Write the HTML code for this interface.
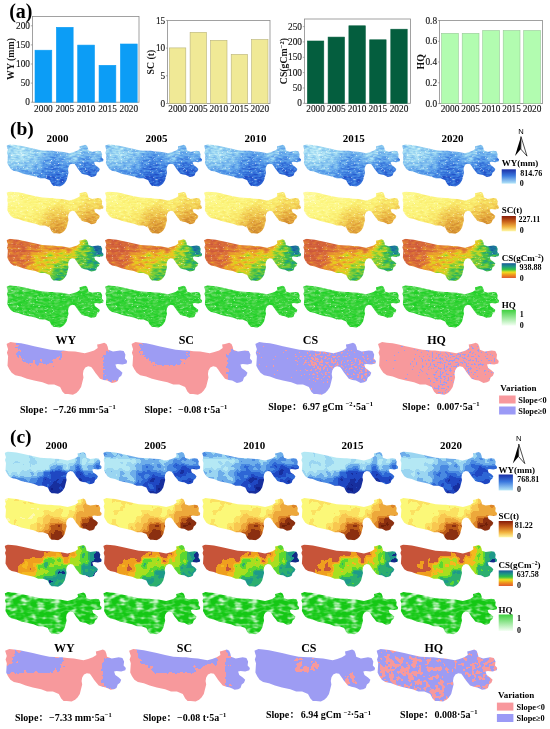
<!DOCTYPE html><html><head><meta charset="utf-8"><style>html,body{margin:0;padding:0;background:#fff;}svg{display:block;}</style></head><body>
<svg width="550" height="729" viewBox="0 0 550 729" font-family="'Liberation Serif','Times New Roman',serif">
<defs><clipPath id="clipS"><path d="M0.0,1.8 L4.1,0.0 L8.8,0.6 L14.7,1.2 L20.6,2.4 L27.7,4.1 L36.0,5.9 L44.3,7.7 L53.7,8.3 L57.0,8.3 L62.0,9.1 L68.8,9.4 L78.3,11.2 L83.0,10.0 L87.7,8.3 L91.3,5.9 L90.7,2.4 L93.6,1.8 L97.8,0.6 L100.1,1.8 L101.3,4.7 L101.9,7.7 L106.6,9.4 L113.7,8.3 L117.3,8.9 L119.0,12.4 L118.5,16.5 L120.8,18.9 L120.2,21.3 L116.1,22.5 L111.4,21.9 L109.0,22.5 L110.2,26.0 L113.7,28.4 L116.1,30.7 L114.9,33.7 L112.6,35.5 L111.4,39.0 L109.0,40.2 L105.5,40.8 L103.1,39.6 L100.7,38.4 L97.2,37.8 L93.6,36.6 L91.3,33.7 L88.9,30.7 L86.6,27.2 L84.8,24.8 L81.8,24.2 L78.9,25.4 L77.1,28.4 L76.5,31.9 L77.1,35.5 L75.9,40.2 L74.7,44.9 L72.4,48.5 L70.0,50.8 L66.5,52.6 L61.7,52.0 L58.5,52.0 L56.1,49.6 L53.7,44.9 L47.8,42.5 L41.9,42.5 L36.0,40.2 L27.7,38.4 L20.6,36.6 L14.7,34.3 L8.8,33.1 L5.3,30.7 L2.9,27.2 L1.1,23.6 L1.7,14.2 L0.5,10.6 L1.7,7.1 Z"/></clipPath>
<filter id="F_WYb" x="-8" y="-8" width="140" height="70" filterUnits="userSpaceOnUse" color-interpolation-filters="sRGB"><feGaussianBlur in="SourceGraphic" stdDeviation="2.6" result="f"/><feTurbulence type="fractalNoise" baseFrequency="0.18 0.4" numOctaves="2" seed="3" result="t"/><feColorMatrix in="t" type="matrix" values="1 0 0 0 0  1 0 0 0 0  1 0 0 0 0  0 0 0 0 1" result="n"/><feComposite in="f" in2="n" operator="arithmetic" k1="0" k2="1" k3="0.6" k4="-0.300" result="m"/><feComponentTransfer in="m" result="c"><feFuncR type="table" tableValues="0.878 0.722 0.596 0.486 0.369 0.275 0.196 0.133"/><feFuncG type="table" tableValues="0.973 0.910 0.831 0.737 0.635 0.533 0.431 0.314"/><feFuncB type="table" tableValues="0.988 0.965 0.949 0.933 0.918 0.886 0.847 0.784"/></feComponentTransfer><feTurbulence type="fractalNoise" baseFrequency="0.35 0.6" numOctaves="2" seed="17" result="t2"/><feColorMatrix in="t2" type="matrix" values="0 0 0 0 1  0 0 0 0 1  0 0 0 0 1  4.0 0 0 0 -2.580" result="sp"/><feComposite in="sp" in2="c" operator="over"/></filter>
<g id="T_WYb_p1" filter="url(#F_WYb)"><rect x="-8" y="-8" width="16.5" height="8.5" fill="rgb(66,66,66)"/><rect x="8" y="-8" width="16.5" height="8.5" fill="rgb(41,41,41)"/><rect x="24" y="-8" width="24.5" height="8.5" fill="rgb(66,66,66)"/><rect x="48" y="-8" width="16.5" height="8.5" fill="rgb(92,92,92)"/><rect x="64" y="-8" width="16.5" height="8.5" fill="rgb(117,117,117)"/><rect x="80" y="-8" width="56.5" height="8.5" fill="rgb(92,92,92)"/><rect x="-8" y="0" width="16.5" height="8.5" fill="rgb(66,66,66)"/><rect x="8" y="0" width="16.5" height="8.5" fill="rgb(41,41,41)"/><rect x="24" y="0" width="24.5" height="8.5" fill="rgb(66,66,66)"/><rect x="48" y="0" width="16.5" height="8.5" fill="rgb(92,92,92)"/><rect x="64" y="0" width="16.5" height="8.5" fill="rgb(117,117,117)"/><rect x="80" y="0" width="56.5" height="8.5" fill="rgb(92,92,92)"/><rect x="-8" y="8" width="16.5" height="8.5" fill="rgb(66,66,66)"/><rect x="8" y="8" width="16.5" height="8.5" fill="rgb(41,41,41)"/><rect x="24" y="8" width="16.5" height="8.5" fill="rgb(66,66,66)"/><rect x="40" y="8" width="8.5" height="8.5" fill="rgb(92,92,92)"/><rect x="48" y="8" width="8.5" height="8.5" fill="rgb(117,117,117)"/><rect x="56" y="8" width="8.5" height="8.5" fill="rgb(143,143,143)"/><rect x="64" y="8" width="8.5" height="8.5" fill="rgb(117,117,117)"/><rect x="72" y="8" width="8.5" height="8.5" fill="rgb(92,92,92)"/><rect x="80" y="8" width="8.5" height="8.5" fill="rgb(66,66,66)"/><rect x="88" y="8" width="8.5" height="8.5" fill="rgb(92,92,92)"/><rect x="96" y="8" width="8.5" height="8.5" fill="rgb(117,117,117)"/><rect x="104" y="8" width="16.5" height="8.5" fill="rgb(92,92,92)"/><rect x="120" y="8" width="16.5" height="8.5" fill="rgb(117,117,117)"/><rect x="-8" y="16" width="40.5" height="8.5" fill="rgb(66,66,66)"/><rect x="32" y="16" width="8.5" height="8.5" fill="rgb(92,92,92)"/><rect x="40" y="16" width="8.5" height="8.5" fill="rgb(117,117,117)"/><rect x="48" y="16" width="8.5" height="8.5" fill="rgb(143,143,143)"/><rect x="56" y="16" width="8.5" height="8.5" fill="rgb(168,168,168)"/><rect x="64" y="16" width="8.5" height="8.5" fill="rgb(143,143,143)"/><rect x="72" y="16" width="8.5" height="8.5" fill="rgb(117,117,117)"/><rect x="80" y="16" width="8.5" height="8.5" fill="rgb(92,92,92)"/><rect x="88" y="16" width="8.5" height="8.5" fill="rgb(143,143,143)"/><rect x="96" y="16" width="8.5" height="8.5" fill="rgb(168,168,168)"/><rect x="104" y="16" width="8.5" height="8.5" fill="rgb(117,117,117)"/><rect x="112" y="16" width="8.5" height="8.5" fill="rgb(143,143,143)"/><rect x="120" y="16" width="16.5" height="8.5" fill="rgb(168,168,168)"/><rect x="-8" y="24" width="40.5" height="8.5" fill="rgb(92,92,92)"/><rect x="32" y="24" width="8.5" height="8.5" fill="rgb(117,117,117)"/><rect x="40" y="24" width="8.5" height="8.5" fill="rgb(143,143,143)"/><rect x="48" y="24" width="8.5" height="8.5" fill="rgb(168,168,168)"/><rect x="56" y="24" width="8.5" height="8.5" fill="rgb(194,194,194)"/><rect x="64" y="24" width="32.5" height="8.5" fill="rgb(168,168,168)"/><rect x="96" y="24" width="16.5" height="8.5" fill="rgb(194,194,194)"/><rect x="112" y="24" width="24.5" height="8.5" fill="rgb(168,168,168)"/><rect x="-8" y="32" width="48.5" height="8.5" fill="rgb(143,143,143)"/><rect x="40" y="32" width="8.5" height="8.5" fill="rgb(168,168,168)"/><rect x="48" y="32" width="48.5" height="8.5" fill="rgb(194,194,194)"/><rect x="96" y="32" width="16.5" height="8.5" fill="rgb(219,219,219)"/><rect x="112" y="32" width="24.5" height="8.5" fill="rgb(194,194,194)"/><rect x="-8" y="40" width="48.5" height="8.5" fill="rgb(168,168,168)"/><rect x="40" y="40" width="8.5" height="8.5" fill="rgb(194,194,194)"/><rect x="48" y="40" width="88.5" height="8.5" fill="rgb(219,219,219)"/><rect x="-8" y="48" width="48.5" height="8.5" fill="rgb(194,194,194)"/><rect x="40" y="48" width="96.5" height="8.5" fill="rgb(219,219,219)"/><rect x="-8" y="56" width="48.5" height="8.5" fill="rgb(194,194,194)"/><rect x="40" y="56" width="96.5" height="8.5" fill="rgb(219,219,219)"/></g>
<g id="T_WYb_p3" filter="url(#F_WYb)"><rect x="-8" y="-8" width="16.5" height="8.5" fill="rgb(71,71,71)"/><rect x="8" y="-8" width="16.5" height="8.5" fill="rgb(46,46,46)"/><rect x="24" y="-8" width="24.5" height="8.5" fill="rgb(71,71,71)"/><rect x="48" y="-8" width="16.5" height="8.5" fill="rgb(97,97,97)"/><rect x="64" y="-8" width="16.5" height="8.5" fill="rgb(122,122,122)"/><rect x="80" y="-8" width="56.5" height="8.5" fill="rgb(97,97,97)"/><rect x="-8" y="0" width="16.5" height="8.5" fill="rgb(71,71,71)"/><rect x="8" y="0" width="16.5" height="8.5" fill="rgb(46,46,46)"/><rect x="24" y="0" width="24.5" height="8.5" fill="rgb(71,71,71)"/><rect x="48" y="0" width="16.5" height="8.5" fill="rgb(97,97,97)"/><rect x="64" y="0" width="16.5" height="8.5" fill="rgb(122,122,122)"/><rect x="80" y="0" width="56.5" height="8.5" fill="rgb(97,97,97)"/><rect x="-8" y="8" width="16.5" height="8.5" fill="rgb(71,71,71)"/><rect x="8" y="8" width="16.5" height="8.5" fill="rgb(46,46,46)"/><rect x="24" y="8" width="16.5" height="8.5" fill="rgb(71,71,71)"/><rect x="40" y="8" width="8.5" height="8.5" fill="rgb(97,97,97)"/><rect x="48" y="8" width="8.5" height="8.5" fill="rgb(122,122,122)"/><rect x="56" y="8" width="8.5" height="8.5" fill="rgb(148,148,148)"/><rect x="64" y="8" width="8.5" height="8.5" fill="rgb(122,122,122)"/><rect x="72" y="8" width="8.5" height="8.5" fill="rgb(97,97,97)"/><rect x="80" y="8" width="8.5" height="8.5" fill="rgb(71,71,71)"/><rect x="88" y="8" width="8.5" height="8.5" fill="rgb(97,97,97)"/><rect x="96" y="8" width="8.5" height="8.5" fill="rgb(122,122,122)"/><rect x="104" y="8" width="16.5" height="8.5" fill="rgb(97,97,97)"/><rect x="120" y="8" width="16.5" height="8.5" fill="rgb(122,122,122)"/><rect x="-8" y="16" width="40.5" height="8.5" fill="rgb(71,71,71)"/><rect x="32" y="16" width="8.5" height="8.5" fill="rgb(97,97,97)"/><rect x="40" y="16" width="8.5" height="8.5" fill="rgb(122,122,122)"/><rect x="48" y="16" width="8.5" height="8.5" fill="rgb(148,148,148)"/><rect x="56" y="16" width="8.5" height="8.5" fill="rgb(173,173,173)"/><rect x="64" y="16" width="8.5" height="8.5" fill="rgb(148,148,148)"/><rect x="72" y="16" width="8.5" height="8.5" fill="rgb(122,122,122)"/><rect x="80" y="16" width="8.5" height="8.5" fill="rgb(97,97,97)"/><rect x="88" y="16" width="8.5" height="8.5" fill="rgb(148,148,148)"/><rect x="96" y="16" width="8.5" height="8.5" fill="rgb(173,173,173)"/><rect x="104" y="16" width="8.5" height="8.5" fill="rgb(122,122,122)"/><rect x="112" y="16" width="8.5" height="8.5" fill="rgb(148,148,148)"/><rect x="120" y="16" width="16.5" height="8.5" fill="rgb(173,173,173)"/><rect x="-8" y="24" width="40.5" height="8.5" fill="rgb(97,97,97)"/><rect x="32" y="24" width="8.5" height="8.5" fill="rgb(122,122,122)"/><rect x="40" y="24" width="8.5" height="8.5" fill="rgb(148,148,148)"/><rect x="48" y="24" width="8.5" height="8.5" fill="rgb(173,173,173)"/><rect x="56" y="24" width="8.5" height="8.5" fill="rgb(199,199,199)"/><rect x="64" y="24" width="32.5" height="8.5" fill="rgb(173,173,173)"/><rect x="96" y="24" width="16.5" height="8.5" fill="rgb(199,199,199)"/><rect x="112" y="24" width="24.5" height="8.5" fill="rgb(173,173,173)"/><rect x="-8" y="32" width="48.5" height="8.5" fill="rgb(148,148,148)"/><rect x="40" y="32" width="8.5" height="8.5" fill="rgb(173,173,173)"/><rect x="48" y="32" width="48.5" height="8.5" fill="rgb(199,199,199)"/><rect x="96" y="32" width="16.5" height="8.5" fill="rgb(224,224,224)"/><rect x="112" y="32" width="24.5" height="8.5" fill="rgb(199,199,199)"/><rect x="-8" y="40" width="48.5" height="8.5" fill="rgb(173,173,173)"/><rect x="40" y="40" width="8.5" height="8.5" fill="rgb(199,199,199)"/><rect x="48" y="40" width="88.5" height="8.5" fill="rgb(224,224,224)"/><rect x="-8" y="48" width="48.5" height="8.5" fill="rgb(199,199,199)"/><rect x="40" y="48" width="96.5" height="8.5" fill="rgb(224,224,224)"/><rect x="-8" y="56" width="48.5" height="8.5" fill="rgb(199,199,199)"/><rect x="40" y="56" width="96.5" height="8.5" fill="rgb(224,224,224)"/></g>
<g id="T_WYb_p6" filter="url(#F_WYb)"><rect x="-8" y="-8" width="16.5" height="8.5" fill="rgb(79,79,79)"/><rect x="8" y="-8" width="16.5" height="8.5" fill="rgb(54,54,54)"/><rect x="24" y="-8" width="24.5" height="8.5" fill="rgb(79,79,79)"/><rect x="48" y="-8" width="16.5" height="8.5" fill="rgb(105,105,105)"/><rect x="64" y="-8" width="16.5" height="8.5" fill="rgb(130,130,130)"/><rect x="80" y="-8" width="56.5" height="8.5" fill="rgb(105,105,105)"/><rect x="-8" y="0" width="16.5" height="8.5" fill="rgb(79,79,79)"/><rect x="8" y="0" width="16.5" height="8.5" fill="rgb(54,54,54)"/><rect x="24" y="0" width="24.5" height="8.5" fill="rgb(79,79,79)"/><rect x="48" y="0" width="16.5" height="8.5" fill="rgb(105,105,105)"/><rect x="64" y="0" width="16.5" height="8.5" fill="rgb(130,130,130)"/><rect x="80" y="0" width="56.5" height="8.5" fill="rgb(105,105,105)"/><rect x="-8" y="8" width="16.5" height="8.5" fill="rgb(79,79,79)"/><rect x="8" y="8" width="16.5" height="8.5" fill="rgb(54,54,54)"/><rect x="24" y="8" width="16.5" height="8.5" fill="rgb(79,79,79)"/><rect x="40" y="8" width="8.5" height="8.5" fill="rgb(105,105,105)"/><rect x="48" y="8" width="8.5" height="8.5" fill="rgb(130,130,130)"/><rect x="56" y="8" width="8.5" height="8.5" fill="rgb(156,156,156)"/><rect x="64" y="8" width="8.5" height="8.5" fill="rgb(130,130,130)"/><rect x="72" y="8" width="8.5" height="8.5" fill="rgb(105,105,105)"/><rect x="80" y="8" width="8.5" height="8.5" fill="rgb(79,79,79)"/><rect x="88" y="8" width="8.5" height="8.5" fill="rgb(105,105,105)"/><rect x="96" y="8" width="8.5" height="8.5" fill="rgb(130,130,130)"/><rect x="104" y="8" width="16.5" height="8.5" fill="rgb(105,105,105)"/><rect x="120" y="8" width="16.5" height="8.5" fill="rgb(130,130,130)"/><rect x="-8" y="16" width="40.5" height="8.5" fill="rgb(79,79,79)"/><rect x="32" y="16" width="8.5" height="8.5" fill="rgb(105,105,105)"/><rect x="40" y="16" width="8.5" height="8.5" fill="rgb(130,130,130)"/><rect x="48" y="16" width="8.5" height="8.5" fill="rgb(156,156,156)"/><rect x="56" y="16" width="8.5" height="8.5" fill="rgb(181,181,181)"/><rect x="64" y="16" width="8.5" height="8.5" fill="rgb(156,156,156)"/><rect x="72" y="16" width="8.5" height="8.5" fill="rgb(130,130,130)"/><rect x="80" y="16" width="8.5" height="8.5" fill="rgb(105,105,105)"/><rect x="88" y="16" width="8.5" height="8.5" fill="rgb(156,156,156)"/><rect x="96" y="16" width="8.5" height="8.5" fill="rgb(181,181,181)"/><rect x="104" y="16" width="8.5" height="8.5" fill="rgb(130,130,130)"/><rect x="112" y="16" width="8.5" height="8.5" fill="rgb(156,156,156)"/><rect x="120" y="16" width="16.5" height="8.5" fill="rgb(181,181,181)"/><rect x="-8" y="24" width="40.5" height="8.5" fill="rgb(105,105,105)"/><rect x="32" y="24" width="8.5" height="8.5" fill="rgb(130,130,130)"/><rect x="40" y="24" width="8.5" height="8.5" fill="rgb(156,156,156)"/><rect x="48" y="24" width="8.5" height="8.5" fill="rgb(181,181,181)"/><rect x="56" y="24" width="8.5" height="8.5" fill="rgb(207,207,207)"/><rect x="64" y="24" width="32.5" height="8.5" fill="rgb(181,181,181)"/><rect x="96" y="24" width="16.5" height="8.5" fill="rgb(207,207,207)"/><rect x="112" y="24" width="24.5" height="8.5" fill="rgb(181,181,181)"/><rect x="-8" y="32" width="48.5" height="8.5" fill="rgb(156,156,156)"/><rect x="40" y="32" width="8.5" height="8.5" fill="rgb(181,181,181)"/><rect x="48" y="32" width="48.5" height="8.5" fill="rgb(207,207,207)"/><rect x="96" y="32" width="16.5" height="8.5" fill="rgb(232,232,232)"/><rect x="112" y="32" width="24.5" height="8.5" fill="rgb(207,207,207)"/><rect x="-8" y="40" width="48.5" height="8.5" fill="rgb(181,181,181)"/><rect x="40" y="40" width="8.5" height="8.5" fill="rgb(207,207,207)"/><rect x="48" y="40" width="88.5" height="8.5" fill="rgb(232,232,232)"/><rect x="-8" y="48" width="48.5" height="8.5" fill="rgb(207,207,207)"/><rect x="40" y="48" width="96.5" height="8.5" fill="rgb(232,232,232)"/><rect x="-8" y="56" width="48.5" height="8.5" fill="rgb(207,207,207)"/><rect x="40" y="56" width="96.5" height="8.5" fill="rgb(232,232,232)"/></g>
<g id="T_WYb_p8" filter="url(#F_WYb)"><rect x="-8" y="-8" width="16.5" height="8.5" fill="rgb(84,84,84)"/><rect x="8" y="-8" width="16.5" height="8.5" fill="rgb(59,59,59)"/><rect x="24" y="-8" width="24.5" height="8.5" fill="rgb(84,84,84)"/><rect x="48" y="-8" width="16.5" height="8.5" fill="rgb(110,110,110)"/><rect x="64" y="-8" width="16.5" height="8.5" fill="rgb(135,135,135)"/><rect x="80" y="-8" width="56.5" height="8.5" fill="rgb(110,110,110)"/><rect x="-8" y="0" width="16.5" height="8.5" fill="rgb(84,84,84)"/><rect x="8" y="0" width="16.5" height="8.5" fill="rgb(59,59,59)"/><rect x="24" y="0" width="24.5" height="8.5" fill="rgb(84,84,84)"/><rect x="48" y="0" width="16.5" height="8.5" fill="rgb(110,110,110)"/><rect x="64" y="0" width="16.5" height="8.5" fill="rgb(135,135,135)"/><rect x="80" y="0" width="56.5" height="8.5" fill="rgb(110,110,110)"/><rect x="-8" y="8" width="16.5" height="8.5" fill="rgb(84,84,84)"/><rect x="8" y="8" width="16.5" height="8.5" fill="rgb(59,59,59)"/><rect x="24" y="8" width="16.5" height="8.5" fill="rgb(84,84,84)"/><rect x="40" y="8" width="8.5" height="8.5" fill="rgb(110,110,110)"/><rect x="48" y="8" width="8.5" height="8.5" fill="rgb(135,135,135)"/><rect x="56" y="8" width="8.5" height="8.5" fill="rgb(161,161,161)"/><rect x="64" y="8" width="8.5" height="8.5" fill="rgb(135,135,135)"/><rect x="72" y="8" width="8.5" height="8.5" fill="rgb(110,110,110)"/><rect x="80" y="8" width="8.5" height="8.5" fill="rgb(84,84,84)"/><rect x="88" y="8" width="8.5" height="8.5" fill="rgb(110,110,110)"/><rect x="96" y="8" width="8.5" height="8.5" fill="rgb(135,135,135)"/><rect x="104" y="8" width="16.5" height="8.5" fill="rgb(110,110,110)"/><rect x="120" y="8" width="16.5" height="8.5" fill="rgb(135,135,135)"/><rect x="-8" y="16" width="40.5" height="8.5" fill="rgb(84,84,84)"/><rect x="32" y="16" width="8.5" height="8.5" fill="rgb(110,110,110)"/><rect x="40" y="16" width="8.5" height="8.5" fill="rgb(135,135,135)"/><rect x="48" y="16" width="8.5" height="8.5" fill="rgb(161,161,161)"/><rect x="56" y="16" width="8.5" height="8.5" fill="rgb(186,186,186)"/><rect x="64" y="16" width="8.5" height="8.5" fill="rgb(161,161,161)"/><rect x="72" y="16" width="8.5" height="8.5" fill="rgb(135,135,135)"/><rect x="80" y="16" width="8.5" height="8.5" fill="rgb(110,110,110)"/><rect x="88" y="16" width="8.5" height="8.5" fill="rgb(161,161,161)"/><rect x="96" y="16" width="8.5" height="8.5" fill="rgb(186,186,186)"/><rect x="104" y="16" width="8.5" height="8.5" fill="rgb(135,135,135)"/><rect x="112" y="16" width="8.5" height="8.5" fill="rgb(161,161,161)"/><rect x="120" y="16" width="16.5" height="8.5" fill="rgb(186,186,186)"/><rect x="-8" y="24" width="40.5" height="8.5" fill="rgb(110,110,110)"/><rect x="32" y="24" width="8.5" height="8.5" fill="rgb(135,135,135)"/><rect x="40" y="24" width="8.5" height="8.5" fill="rgb(161,161,161)"/><rect x="48" y="24" width="8.5" height="8.5" fill="rgb(186,186,186)"/><rect x="56" y="24" width="8.5" height="8.5" fill="rgb(212,212,212)"/><rect x="64" y="24" width="32.5" height="8.5" fill="rgb(186,186,186)"/><rect x="96" y="24" width="16.5" height="8.5" fill="rgb(212,212,212)"/><rect x="112" y="24" width="24.5" height="8.5" fill="rgb(186,186,186)"/><rect x="-8" y="32" width="48.5" height="8.5" fill="rgb(161,161,161)"/><rect x="40" y="32" width="8.5" height="8.5" fill="rgb(186,186,186)"/><rect x="48" y="32" width="48.5" height="8.5" fill="rgb(212,212,212)"/><rect x="96" y="32" width="16.5" height="8.5" fill="rgb(237,237,237)"/><rect x="112" y="32" width="24.5" height="8.5" fill="rgb(212,212,212)"/><rect x="-8" y="40" width="48.5" height="8.5" fill="rgb(186,186,186)"/><rect x="40" y="40" width="8.5" height="8.5" fill="rgb(212,212,212)"/><rect x="48" y="40" width="88.5" height="8.5" fill="rgb(237,237,237)"/><rect x="-8" y="48" width="48.5" height="8.5" fill="rgb(212,212,212)"/><rect x="40" y="48" width="96.5" height="8.5" fill="rgb(237,237,237)"/><rect x="-8" y="56" width="48.5" height="8.5" fill="rgb(212,212,212)"/><rect x="40" y="56" width="96.5" height="8.5" fill="rgb(237,237,237)"/></g>
<g id="T_WYb_p10" filter="url(#F_WYb)"><rect x="-8" y="-8" width="16.5" height="8.5" fill="rgb(89,89,89)"/><rect x="8" y="-8" width="16.5" height="8.5" fill="rgb(64,64,64)"/><rect x="24" y="-8" width="24.5" height="8.5" fill="rgb(89,89,89)"/><rect x="48" y="-8" width="16.5" height="8.5" fill="rgb(115,115,115)"/><rect x="64" y="-8" width="16.5" height="8.5" fill="rgb(140,140,140)"/><rect x="80" y="-8" width="56.5" height="8.5" fill="rgb(115,115,115)"/><rect x="-8" y="0" width="16.5" height="8.5" fill="rgb(89,89,89)"/><rect x="8" y="0" width="16.5" height="8.5" fill="rgb(64,64,64)"/><rect x="24" y="0" width="24.5" height="8.5" fill="rgb(89,89,89)"/><rect x="48" y="0" width="16.5" height="8.5" fill="rgb(115,115,115)"/><rect x="64" y="0" width="16.5" height="8.5" fill="rgb(140,140,140)"/><rect x="80" y="0" width="56.5" height="8.5" fill="rgb(115,115,115)"/><rect x="-8" y="8" width="16.5" height="8.5" fill="rgb(89,89,89)"/><rect x="8" y="8" width="16.5" height="8.5" fill="rgb(64,64,64)"/><rect x="24" y="8" width="16.5" height="8.5" fill="rgb(89,89,89)"/><rect x="40" y="8" width="8.5" height="8.5" fill="rgb(115,115,115)"/><rect x="48" y="8" width="8.5" height="8.5" fill="rgb(140,140,140)"/><rect x="56" y="8" width="8.5" height="8.5" fill="rgb(166,166,166)"/><rect x="64" y="8" width="8.5" height="8.5" fill="rgb(140,140,140)"/><rect x="72" y="8" width="8.5" height="8.5" fill="rgb(115,115,115)"/><rect x="80" y="8" width="8.5" height="8.5" fill="rgb(89,89,89)"/><rect x="88" y="8" width="8.5" height="8.5" fill="rgb(115,115,115)"/><rect x="96" y="8" width="8.5" height="8.5" fill="rgb(140,140,140)"/><rect x="104" y="8" width="16.5" height="8.5" fill="rgb(115,115,115)"/><rect x="120" y="8" width="16.5" height="8.5" fill="rgb(140,140,140)"/><rect x="-8" y="16" width="40.5" height="8.5" fill="rgb(89,89,89)"/><rect x="32" y="16" width="8.5" height="8.5" fill="rgb(115,115,115)"/><rect x="40" y="16" width="8.5" height="8.5" fill="rgb(140,140,140)"/><rect x="48" y="16" width="8.5" height="8.5" fill="rgb(166,166,166)"/><rect x="56" y="16" width="8.5" height="8.5" fill="rgb(191,191,191)"/><rect x="64" y="16" width="8.5" height="8.5" fill="rgb(166,166,166)"/><rect x="72" y="16" width="8.5" height="8.5" fill="rgb(140,140,140)"/><rect x="80" y="16" width="8.5" height="8.5" fill="rgb(115,115,115)"/><rect x="88" y="16" width="8.5" height="8.5" fill="rgb(166,166,166)"/><rect x="96" y="16" width="8.5" height="8.5" fill="rgb(191,191,191)"/><rect x="104" y="16" width="8.5" height="8.5" fill="rgb(140,140,140)"/><rect x="112" y="16" width="8.5" height="8.5" fill="rgb(166,166,166)"/><rect x="120" y="16" width="16.5" height="8.5" fill="rgb(191,191,191)"/><rect x="-8" y="24" width="40.5" height="8.5" fill="rgb(115,115,115)"/><rect x="32" y="24" width="8.5" height="8.5" fill="rgb(140,140,140)"/><rect x="40" y="24" width="8.5" height="8.5" fill="rgb(166,166,166)"/><rect x="48" y="24" width="8.5" height="8.5" fill="rgb(191,191,191)"/><rect x="56" y="24" width="8.5" height="8.5" fill="rgb(217,217,217)"/><rect x="64" y="24" width="32.5" height="8.5" fill="rgb(191,191,191)"/><rect x="96" y="24" width="16.5" height="8.5" fill="rgb(217,217,217)"/><rect x="112" y="24" width="24.5" height="8.5" fill="rgb(191,191,191)"/><rect x="-8" y="32" width="48.5" height="8.5" fill="rgb(166,166,166)"/><rect x="40" y="32" width="8.5" height="8.5" fill="rgb(191,191,191)"/><rect x="48" y="32" width="48.5" height="8.5" fill="rgb(217,217,217)"/><rect x="96" y="32" width="16.5" height="8.5" fill="rgb(242,242,242)"/><rect x="112" y="32" width="24.5" height="8.5" fill="rgb(217,217,217)"/><rect x="-8" y="40" width="48.5" height="8.5" fill="rgb(191,191,191)"/><rect x="40" y="40" width="8.5" height="8.5" fill="rgb(217,217,217)"/><rect x="48" y="40" width="88.5" height="8.5" fill="rgb(242,242,242)"/><rect x="-8" y="48" width="48.5" height="8.5" fill="rgb(217,217,217)"/><rect x="40" y="48" width="96.5" height="8.5" fill="rgb(242,242,242)"/><rect x="-8" y="56" width="48.5" height="8.5" fill="rgb(217,217,217)"/><rect x="40" y="56" width="96.5" height="8.5" fill="rgb(242,242,242)"/></g>
<filter id="F_SCb" x="-8" y="-8" width="140" height="70" filterUnits="userSpaceOnUse" color-interpolation-filters="sRGB"><feGaussianBlur in="SourceGraphic" stdDeviation="2.6" result="f"/><feTurbulence type="fractalNoise" baseFrequency="0.18 0.4" numOctaves="2" seed="10" result="t"/><feColorMatrix in="t" type="matrix" values="1 0 0 0 0  1 0 0 0 0  1 0 0 0 0  0 0 0 0 1" result="n"/><feComposite in="f" in2="n" operator="arithmetic" k1="0" k2="1" k3="0.35" k4="-0.175" result="m"/><feComponentTransfer in="m" result="c"><feFuncR type="table" tableValues="1.000 0.996 0.988 0.973 0.941 0.894 0.800 0.667"/><feFuncG type="table" tableValues="0.988 0.980 0.957 0.886 0.784 0.651 0.518 0.376"/><feFuncB type="table" tableValues="0.753 0.573 0.478 0.392 0.314 0.235 0.173 0.125"/></feComponentTransfer><feTurbulence type="fractalNoise" baseFrequency="0.35 0.6" numOctaves="2" seed="22" result="t2"/><feColorMatrix in="t2" type="matrix" values="0 0 0 0 1  0 0 0 0 1  0 0 0 0 1  3.0 0 0 0 -1.920" result="sp"/><feComposite in="sp" in2="c" operator="over"/></filter>
<g id="T_SCb_m4" filter="url(#F_SCb)"><rect x="-8" y="-8" width="24.5" height="8.5" fill="rgb(28,28,28)"/><rect x="16" y="-8" width="48.5" height="8.5" fill="rgb(54,54,54)"/><rect x="64" y="-8" width="40.5" height="8.5" fill="rgb(79,79,79)"/><rect x="104" y="-8" width="32.5" height="8.5" fill="rgb(105,105,105)"/><rect x="-8" y="0" width="24.5" height="8.5" fill="rgb(28,28,28)"/><rect x="16" y="0" width="48.5" height="8.5" fill="rgb(54,54,54)"/><rect x="64" y="0" width="40.5" height="8.5" fill="rgb(79,79,79)"/><rect x="104" y="0" width="32.5" height="8.5" fill="rgb(105,105,105)"/><rect x="-8" y="8" width="24.5" height="8.5" fill="rgb(28,28,28)"/><rect x="16" y="8" width="48.5" height="8.5" fill="rgb(54,54,54)"/><rect x="64" y="8" width="16.5" height="8.5" fill="rgb(79,79,79)"/><rect x="80" y="8" width="8.5" height="8.5" fill="rgb(54,54,54)"/><rect x="88" y="8" width="8.5" height="8.5" fill="rgb(79,79,79)"/><rect x="96" y="8" width="40.5" height="8.5" fill="rgb(105,105,105)"/><rect x="-8" y="16" width="56.5" height="8.5" fill="rgb(54,54,54)"/><rect x="48" y="16" width="8.5" height="8.5" fill="rgb(79,79,79)"/><rect x="56" y="16" width="16.5" height="8.5" fill="rgb(105,105,105)"/><rect x="72" y="16" width="16.5" height="8.5" fill="rgb(79,79,79)"/><rect x="88" y="16" width="8.5" height="8.5" fill="rgb(105,105,105)"/><rect x="96" y="16" width="8.5" height="8.5" fill="rgb(130,130,130)"/><rect x="104" y="16" width="8.5" height="8.5" fill="rgb(105,105,105)"/><rect x="112" y="16" width="24.5" height="8.5" fill="rgb(130,130,130)"/><rect x="-8" y="24" width="40.5" height="8.5" fill="rgb(54,54,54)"/><rect x="32" y="24" width="16.5" height="8.5" fill="rgb(79,79,79)"/><rect x="48" y="24" width="48.5" height="8.5" fill="rgb(130,130,130)"/><rect x="96" y="24" width="40.5" height="8.5" fill="rgb(156,156,156)"/><rect x="-8" y="32" width="48.5" height="8.5" fill="rgb(79,79,79)"/><rect x="40" y="32" width="8.5" height="8.5" fill="rgb(105,105,105)"/><rect x="48" y="32" width="8.5" height="8.5" fill="rgb(130,130,130)"/><rect x="56" y="32" width="40.5" height="8.5" fill="rgb(156,156,156)"/><rect x="96" y="32" width="16.5" height="8.5" fill="rgb(181,181,181)"/><rect x="112" y="32" width="24.5" height="8.5" fill="rgb(156,156,156)"/><rect x="-8" y="40" width="40.5" height="8.5" fill="rgb(79,79,79)"/><rect x="32" y="40" width="8.5" height="8.5" fill="rgb(105,105,105)"/><rect x="40" y="40" width="8.5" height="8.5" fill="rgb(130,130,130)"/><rect x="48" y="40" width="8.5" height="8.5" fill="rgb(156,156,156)"/><rect x="56" y="40" width="16.5" height="8.5" fill="rgb(181,181,181)"/><rect x="72" y="40" width="24.5" height="8.5" fill="rgb(156,156,156)"/><rect x="96" y="40" width="40.5" height="8.5" fill="rgb(181,181,181)"/><rect x="-8" y="48" width="40.5" height="8.5" fill="rgb(105,105,105)"/><rect x="32" y="48" width="8.5" height="8.5" fill="rgb(130,130,130)"/><rect x="40" y="48" width="8.5" height="8.5" fill="rgb(156,156,156)"/><rect x="48" y="48" width="88.5" height="8.5" fill="rgb(181,181,181)"/><rect x="-8" y="56" width="40.5" height="8.5" fill="rgb(105,105,105)"/><rect x="32" y="56" width="8.5" height="8.5" fill="rgb(130,130,130)"/><rect x="40" y="56" width="8.5" height="8.5" fill="rgb(156,156,156)"/><rect x="48" y="56" width="88.5" height="8.5" fill="rgb(181,181,181)"/></g>
<g id="T_SCb" filter="url(#F_SCb)"><rect x="-8" y="-8" width="24.5" height="8.5" fill="rgb(38,38,38)"/><rect x="16" y="-8" width="48.5" height="8.5" fill="rgb(64,64,64)"/><rect x="64" y="-8" width="40.5" height="8.5" fill="rgb(89,89,89)"/><rect x="104" y="-8" width="32.5" height="8.5" fill="rgb(115,115,115)"/><rect x="-8" y="0" width="24.5" height="8.5" fill="rgb(38,38,38)"/><rect x="16" y="0" width="48.5" height="8.5" fill="rgb(64,64,64)"/><rect x="64" y="0" width="40.5" height="8.5" fill="rgb(89,89,89)"/><rect x="104" y="0" width="32.5" height="8.5" fill="rgb(115,115,115)"/><rect x="-8" y="8" width="24.5" height="8.5" fill="rgb(38,38,38)"/><rect x="16" y="8" width="48.5" height="8.5" fill="rgb(64,64,64)"/><rect x="64" y="8" width="16.5" height="8.5" fill="rgb(89,89,89)"/><rect x="80" y="8" width="8.5" height="8.5" fill="rgb(64,64,64)"/><rect x="88" y="8" width="8.5" height="8.5" fill="rgb(89,89,89)"/><rect x="96" y="8" width="40.5" height="8.5" fill="rgb(115,115,115)"/><rect x="-8" y="16" width="56.5" height="8.5" fill="rgb(64,64,64)"/><rect x="48" y="16" width="8.5" height="8.5" fill="rgb(89,89,89)"/><rect x="56" y="16" width="16.5" height="8.5" fill="rgb(115,115,115)"/><rect x="72" y="16" width="16.5" height="8.5" fill="rgb(89,89,89)"/><rect x="88" y="16" width="8.5" height="8.5" fill="rgb(115,115,115)"/><rect x="96" y="16" width="8.5" height="8.5" fill="rgb(140,140,140)"/><rect x="104" y="16" width="8.5" height="8.5" fill="rgb(115,115,115)"/><rect x="112" y="16" width="24.5" height="8.5" fill="rgb(140,140,140)"/><rect x="-8" y="24" width="40.5" height="8.5" fill="rgb(64,64,64)"/><rect x="32" y="24" width="16.5" height="8.5" fill="rgb(89,89,89)"/><rect x="48" y="24" width="48.5" height="8.5" fill="rgb(140,140,140)"/><rect x="96" y="24" width="40.5" height="8.5" fill="rgb(166,166,166)"/><rect x="-8" y="32" width="48.5" height="8.5" fill="rgb(89,89,89)"/><rect x="40" y="32" width="8.5" height="8.5" fill="rgb(115,115,115)"/><rect x="48" y="32" width="8.5" height="8.5" fill="rgb(140,140,140)"/><rect x="56" y="32" width="40.5" height="8.5" fill="rgb(166,166,166)"/><rect x="96" y="32" width="16.5" height="8.5" fill="rgb(191,191,191)"/><rect x="112" y="32" width="24.5" height="8.5" fill="rgb(166,166,166)"/><rect x="-8" y="40" width="40.5" height="8.5" fill="rgb(89,89,89)"/><rect x="32" y="40" width="8.5" height="8.5" fill="rgb(115,115,115)"/><rect x="40" y="40" width="8.5" height="8.5" fill="rgb(140,140,140)"/><rect x="48" y="40" width="8.5" height="8.5" fill="rgb(166,166,166)"/><rect x="56" y="40" width="16.5" height="8.5" fill="rgb(191,191,191)"/><rect x="72" y="40" width="24.5" height="8.5" fill="rgb(166,166,166)"/><rect x="96" y="40" width="40.5" height="8.5" fill="rgb(191,191,191)"/><rect x="-8" y="48" width="40.5" height="8.5" fill="rgb(115,115,115)"/><rect x="32" y="48" width="8.5" height="8.5" fill="rgb(140,140,140)"/><rect x="40" y="48" width="8.5" height="8.5" fill="rgb(166,166,166)"/><rect x="48" y="48" width="88.5" height="8.5" fill="rgb(191,191,191)"/><rect x="-8" y="56" width="40.5" height="8.5" fill="rgb(115,115,115)"/><rect x="32" y="56" width="8.5" height="8.5" fill="rgb(140,140,140)"/><rect x="40" y="56" width="8.5" height="8.5" fill="rgb(166,166,166)"/><rect x="48" y="56" width="88.5" height="8.5" fill="rgb(191,191,191)"/></g>
<g id="T_SCb_p2" filter="url(#F_SCb)"><rect x="-8" y="-8" width="24.5" height="8.5" fill="rgb(43,43,43)"/><rect x="16" y="-8" width="48.5" height="8.5" fill="rgb(69,69,69)"/><rect x="64" y="-8" width="40.5" height="8.5" fill="rgb(94,94,94)"/><rect x="104" y="-8" width="32.5" height="8.5" fill="rgb(120,120,120)"/><rect x="-8" y="0" width="24.5" height="8.5" fill="rgb(43,43,43)"/><rect x="16" y="0" width="48.5" height="8.5" fill="rgb(69,69,69)"/><rect x="64" y="0" width="40.5" height="8.5" fill="rgb(94,94,94)"/><rect x="104" y="0" width="32.5" height="8.5" fill="rgb(120,120,120)"/><rect x="-8" y="8" width="24.5" height="8.5" fill="rgb(43,43,43)"/><rect x="16" y="8" width="48.5" height="8.5" fill="rgb(69,69,69)"/><rect x="64" y="8" width="16.5" height="8.5" fill="rgb(94,94,94)"/><rect x="80" y="8" width="8.5" height="8.5" fill="rgb(69,69,69)"/><rect x="88" y="8" width="8.5" height="8.5" fill="rgb(94,94,94)"/><rect x="96" y="8" width="40.5" height="8.5" fill="rgb(120,120,120)"/><rect x="-8" y="16" width="56.5" height="8.5" fill="rgb(69,69,69)"/><rect x="48" y="16" width="8.5" height="8.5" fill="rgb(94,94,94)"/><rect x="56" y="16" width="16.5" height="8.5" fill="rgb(120,120,120)"/><rect x="72" y="16" width="16.5" height="8.5" fill="rgb(94,94,94)"/><rect x="88" y="16" width="8.5" height="8.5" fill="rgb(120,120,120)"/><rect x="96" y="16" width="8.5" height="8.5" fill="rgb(145,145,145)"/><rect x="104" y="16" width="8.5" height="8.5" fill="rgb(120,120,120)"/><rect x="112" y="16" width="24.5" height="8.5" fill="rgb(145,145,145)"/><rect x="-8" y="24" width="40.5" height="8.5" fill="rgb(69,69,69)"/><rect x="32" y="24" width="16.5" height="8.5" fill="rgb(94,94,94)"/><rect x="48" y="24" width="48.5" height="8.5" fill="rgb(145,145,145)"/><rect x="96" y="24" width="40.5" height="8.5" fill="rgb(171,171,171)"/><rect x="-8" y="32" width="48.5" height="8.5" fill="rgb(94,94,94)"/><rect x="40" y="32" width="8.5" height="8.5" fill="rgb(120,120,120)"/><rect x="48" y="32" width="8.5" height="8.5" fill="rgb(145,145,145)"/><rect x="56" y="32" width="40.5" height="8.5" fill="rgb(171,171,171)"/><rect x="96" y="32" width="16.5" height="8.5" fill="rgb(196,196,196)"/><rect x="112" y="32" width="24.5" height="8.5" fill="rgb(171,171,171)"/><rect x="-8" y="40" width="40.5" height="8.5" fill="rgb(94,94,94)"/><rect x="32" y="40" width="8.5" height="8.5" fill="rgb(120,120,120)"/><rect x="40" y="40" width="8.5" height="8.5" fill="rgb(145,145,145)"/><rect x="48" y="40" width="8.5" height="8.5" fill="rgb(171,171,171)"/><rect x="56" y="40" width="16.5" height="8.5" fill="rgb(196,196,196)"/><rect x="72" y="40" width="24.5" height="8.5" fill="rgb(171,171,171)"/><rect x="96" y="40" width="40.5" height="8.5" fill="rgb(196,196,196)"/><rect x="-8" y="48" width="40.5" height="8.5" fill="rgb(120,120,120)"/><rect x="32" y="48" width="8.5" height="8.5" fill="rgb(145,145,145)"/><rect x="40" y="48" width="8.5" height="8.5" fill="rgb(171,171,171)"/><rect x="48" y="48" width="88.5" height="8.5" fill="rgb(196,196,196)"/><rect x="-8" y="56" width="40.5" height="8.5" fill="rgb(120,120,120)"/><rect x="32" y="56" width="8.5" height="8.5" fill="rgb(145,145,145)"/><rect x="40" y="56" width="8.5" height="8.5" fill="rgb(171,171,171)"/><rect x="48" y="56" width="88.5" height="8.5" fill="rgb(196,196,196)"/></g>
<g id="T_SCb_p3" filter="url(#F_SCb)"><rect x="-8" y="-8" width="24.5" height="8.5" fill="rgb(46,46,46)"/><rect x="16" y="-8" width="48.5" height="8.5" fill="rgb(71,71,71)"/><rect x="64" y="-8" width="40.5" height="8.5" fill="rgb(97,97,97)"/><rect x="104" y="-8" width="32.5" height="8.5" fill="rgb(122,122,122)"/><rect x="-8" y="0" width="24.5" height="8.5" fill="rgb(46,46,46)"/><rect x="16" y="0" width="48.5" height="8.5" fill="rgb(71,71,71)"/><rect x="64" y="0" width="40.5" height="8.5" fill="rgb(97,97,97)"/><rect x="104" y="0" width="32.5" height="8.5" fill="rgb(122,122,122)"/><rect x="-8" y="8" width="24.5" height="8.5" fill="rgb(46,46,46)"/><rect x="16" y="8" width="48.5" height="8.5" fill="rgb(71,71,71)"/><rect x="64" y="8" width="16.5" height="8.5" fill="rgb(97,97,97)"/><rect x="80" y="8" width="8.5" height="8.5" fill="rgb(71,71,71)"/><rect x="88" y="8" width="8.5" height="8.5" fill="rgb(97,97,97)"/><rect x="96" y="8" width="40.5" height="8.5" fill="rgb(122,122,122)"/><rect x="-8" y="16" width="56.5" height="8.5" fill="rgb(71,71,71)"/><rect x="48" y="16" width="8.5" height="8.5" fill="rgb(97,97,97)"/><rect x="56" y="16" width="16.5" height="8.5" fill="rgb(122,122,122)"/><rect x="72" y="16" width="16.5" height="8.5" fill="rgb(97,97,97)"/><rect x="88" y="16" width="8.5" height="8.5" fill="rgb(122,122,122)"/><rect x="96" y="16" width="8.5" height="8.5" fill="rgb(148,148,148)"/><rect x="104" y="16" width="8.5" height="8.5" fill="rgb(122,122,122)"/><rect x="112" y="16" width="24.5" height="8.5" fill="rgb(148,148,148)"/><rect x="-8" y="24" width="40.5" height="8.5" fill="rgb(71,71,71)"/><rect x="32" y="24" width="16.5" height="8.5" fill="rgb(97,97,97)"/><rect x="48" y="24" width="48.5" height="8.5" fill="rgb(148,148,148)"/><rect x="96" y="24" width="40.5" height="8.5" fill="rgb(173,173,173)"/><rect x="-8" y="32" width="48.5" height="8.5" fill="rgb(97,97,97)"/><rect x="40" y="32" width="8.5" height="8.5" fill="rgb(122,122,122)"/><rect x="48" y="32" width="8.5" height="8.5" fill="rgb(148,148,148)"/><rect x="56" y="32" width="40.5" height="8.5" fill="rgb(173,173,173)"/><rect x="96" y="32" width="16.5" height="8.5" fill="rgb(199,199,199)"/><rect x="112" y="32" width="24.5" height="8.5" fill="rgb(173,173,173)"/><rect x="-8" y="40" width="40.5" height="8.5" fill="rgb(97,97,97)"/><rect x="32" y="40" width="8.5" height="8.5" fill="rgb(122,122,122)"/><rect x="40" y="40" width="8.5" height="8.5" fill="rgb(148,148,148)"/><rect x="48" y="40" width="8.5" height="8.5" fill="rgb(173,173,173)"/><rect x="56" y="40" width="16.5" height="8.5" fill="rgb(199,199,199)"/><rect x="72" y="40" width="24.5" height="8.5" fill="rgb(173,173,173)"/><rect x="96" y="40" width="40.5" height="8.5" fill="rgb(199,199,199)"/><rect x="-8" y="48" width="40.5" height="8.5" fill="rgb(122,122,122)"/><rect x="32" y="48" width="8.5" height="8.5" fill="rgb(148,148,148)"/><rect x="40" y="48" width="8.5" height="8.5" fill="rgb(173,173,173)"/><rect x="48" y="48" width="88.5" height="8.5" fill="rgb(199,199,199)"/><rect x="-8" y="56" width="40.5" height="8.5" fill="rgb(122,122,122)"/><rect x="32" y="56" width="8.5" height="8.5" fill="rgb(148,148,148)"/><rect x="40" y="56" width="8.5" height="8.5" fill="rgb(173,173,173)"/><rect x="48" y="56" width="88.5" height="8.5" fill="rgb(199,199,199)"/></g>
<filter id="F_CSb" x="-8" y="-8" width="140" height="70" filterUnits="userSpaceOnUse" color-interpolation-filters="sRGB"><feGaussianBlur in="SourceGraphic" stdDeviation="2.4" result="f"/><feTurbulence type="fractalNoise" baseFrequency="0.12 0.35" numOctaves="2" seed="17" result="t"/><feColorMatrix in="t" type="matrix" values="1 0 0 0 0  1 0 0 0 0  1 0 0 0 0  0 0 0 0 1" result="n"/><feComposite in="f" in2="n" operator="arithmetic" k1="0" k2="1" k3="0.5" k4="-0.250" result="m"/><feComponentTransfer in="m" result="c"><feFuncR type="table" tableValues="0.800 0.839 0.878 0.918 0.925 0.769 0.486 0.235 0.133 0.110 0.102"/><feFuncG type="table" tableValues="0.345 0.400 0.486 0.627 0.784 0.839 0.800 0.737 0.627 0.478 0.345"/><feFuncB type="table" tableValues="0.235 0.227 0.212 0.173 0.125 0.141 0.220 0.298 0.486 0.612 0.627"/></feComponentTransfer><feTurbulence type="fractalNoise" baseFrequency="0.35 0.6" numOctaves="2" seed="27" result="t2"/><feColorMatrix in="t2" type="matrix" values="0 0 0 0 1  0 0 0 0 1  0 0 0 0 1  3.0 0 0 0 -1.980" result="sp"/><feComposite in="sp" in2="c" operator="over"/></filter>
<g id="T_CSb_m6" filter="url(#F_CSb)"><rect x="-8" y="-8" width="56.5" height="8.5" fill="rgb(23,23,23)"/><rect x="48" y="-8" width="40.5" height="8.5" fill="rgb(48,48,48)"/><rect x="88" y="-8" width="8.5" height="8.5" fill="rgb(99,99,99)"/><rect x="96" y="-8" width="8.5" height="8.5" fill="rgb(150,150,150)"/><rect x="104" y="-8" width="8.5" height="8.5" fill="rgb(201,201,201)"/><rect x="112" y="-8" width="24.5" height="8.5" fill="rgb(227,227,227)"/><rect x="-8" y="0" width="56.5" height="8.5" fill="rgb(23,23,23)"/><rect x="48" y="0" width="40.5" height="8.5" fill="rgb(48,48,48)"/><rect x="88" y="0" width="8.5" height="8.5" fill="rgb(99,99,99)"/><rect x="96" y="0" width="8.5" height="8.5" fill="rgb(150,150,150)"/><rect x="104" y="0" width="8.5" height="8.5" fill="rgb(201,201,201)"/><rect x="112" y="0" width="24.5" height="8.5" fill="rgb(227,227,227)"/><rect x="-8" y="8" width="40.5" height="8.5" fill="rgb(23,23,23)"/><rect x="32" y="8" width="48.5" height="8.5" fill="rgb(48,48,48)"/><rect x="80" y="8" width="8.5" height="8.5" fill="rgb(74,74,74)"/><rect x="88" y="8" width="8.5" height="8.5" fill="rgb(125,125,125)"/><rect x="96" y="8" width="8.5" height="8.5" fill="rgb(150,150,150)"/><rect x="104" y="8" width="8.5" height="8.5" fill="rgb(201,201,201)"/><rect x="112" y="8" width="24.5" height="8.5" fill="rgb(227,227,227)"/><rect x="-8" y="16" width="32.5" height="8.5" fill="rgb(23,23,23)"/><rect x="24" y="16" width="8.5" height="8.5" fill="rgb(48,48,48)"/><rect x="32" y="16" width="16.5" height="8.5" fill="rgb(74,74,74)"/><rect x="48" y="16" width="40.5" height="8.5" fill="rgb(99,99,99)"/><rect x="88" y="16" width="16.5" height="8.5" fill="rgb(150,150,150)"/><rect x="104" y="16" width="8.5" height="8.5" fill="rgb(176,176,176)"/><rect x="112" y="16" width="8.5" height="8.5" fill="rgb(201,201,201)"/><rect x="120" y="16" width="16.5" height="8.5" fill="rgb(227,227,227)"/><rect x="-8" y="24" width="32.5" height="8.5" fill="rgb(23,23,23)"/><rect x="24" y="24" width="8.5" height="8.5" fill="rgb(48,48,48)"/><rect x="32" y="24" width="8.5" height="8.5" fill="rgb(74,74,74)"/><rect x="40" y="24" width="24.5" height="8.5" fill="rgb(99,99,99)"/><rect x="64" y="24" width="16.5" height="8.5" fill="rgb(125,125,125)"/><rect x="80" y="24" width="24.5" height="8.5" fill="rgb(150,150,150)"/><rect x="104" y="24" width="32.5" height="8.5" fill="rgb(176,176,176)"/><rect x="-8" y="32" width="24.5" height="8.5" fill="rgb(23,23,23)"/><rect x="16" y="32" width="16.5" height="8.5" fill="rgb(48,48,48)"/><rect x="32" y="32" width="8.5" height="8.5" fill="rgb(74,74,74)"/><rect x="40" y="32" width="16.5" height="8.5" fill="rgb(99,99,99)"/><rect x="56" y="32" width="8.5" height="8.5" fill="rgb(125,125,125)"/><rect x="64" y="32" width="32.5" height="8.5" fill="rgb(150,150,150)"/><rect x="96" y="32" width="40.5" height="8.5" fill="rgb(176,176,176)"/><rect x="-8" y="40" width="24.5" height="8.5" fill="rgb(23,23,23)"/><rect x="16" y="40" width="8.5" height="8.5" fill="rgb(48,48,48)"/><rect x="24" y="40" width="8.5" height="8.5" fill="rgb(74,74,74)"/><rect x="32" y="40" width="16.5" height="8.5" fill="rgb(99,99,99)"/><rect x="48" y="40" width="8.5" height="8.5" fill="rgb(125,125,125)"/><rect x="56" y="40" width="8.5" height="8.5" fill="rgb(150,150,150)"/><rect x="64" y="40" width="16.5" height="8.5" fill="rgb(176,176,176)"/><rect x="80" y="40" width="16.5" height="8.5" fill="rgb(150,150,150)"/><rect x="96" y="40" width="40.5" height="8.5" fill="rgb(176,176,176)"/><rect x="-8" y="48" width="32.5" height="8.5" fill="rgb(48,48,48)"/><rect x="24" y="48" width="8.5" height="8.5" fill="rgb(74,74,74)"/><rect x="32" y="48" width="8.5" height="8.5" fill="rgb(99,99,99)"/><rect x="40" y="48" width="8.5" height="8.5" fill="rgb(125,125,125)"/><rect x="48" y="48" width="8.5" height="8.5" fill="rgb(150,150,150)"/><rect x="56" y="48" width="80.5" height="8.5" fill="rgb(176,176,176)"/><rect x="-8" y="56" width="32.5" height="8.5" fill="rgb(48,48,48)"/><rect x="24" y="56" width="8.5" height="8.5" fill="rgb(74,74,74)"/><rect x="32" y="56" width="8.5" height="8.5" fill="rgb(99,99,99)"/><rect x="40" y="56" width="8.5" height="8.5" fill="rgb(125,125,125)"/><rect x="48" y="56" width="8.5" height="8.5" fill="rgb(150,150,150)"/><rect x="56" y="56" width="80.5" height="8.5" fill="rgb(176,176,176)"/></g>
<g id="T_CSb_m5" filter="url(#F_CSb)"><rect x="-8" y="-8" width="56.5" height="8.5" fill="rgb(26,26,26)"/><rect x="48" y="-8" width="40.5" height="8.5" fill="rgb(51,51,51)"/><rect x="88" y="-8" width="8.5" height="8.5" fill="rgb(102,102,102)"/><rect x="96" y="-8" width="8.5" height="8.5" fill="rgb(153,153,153)"/><rect x="104" y="-8" width="8.5" height="8.5" fill="rgb(204,204,204)"/><rect x="112" y="-8" width="24.5" height="8.5" fill="rgb(230,230,230)"/><rect x="-8" y="0" width="56.5" height="8.5" fill="rgb(26,26,26)"/><rect x="48" y="0" width="40.5" height="8.5" fill="rgb(51,51,51)"/><rect x="88" y="0" width="8.5" height="8.5" fill="rgb(102,102,102)"/><rect x="96" y="0" width="8.5" height="8.5" fill="rgb(153,153,153)"/><rect x="104" y="0" width="8.5" height="8.5" fill="rgb(204,204,204)"/><rect x="112" y="0" width="24.5" height="8.5" fill="rgb(230,230,230)"/><rect x="-8" y="8" width="40.5" height="8.5" fill="rgb(26,26,26)"/><rect x="32" y="8" width="48.5" height="8.5" fill="rgb(51,51,51)"/><rect x="80" y="8" width="8.5" height="8.5" fill="rgb(76,76,76)"/><rect x="88" y="8" width="8.5" height="8.5" fill="rgb(128,128,128)"/><rect x="96" y="8" width="8.5" height="8.5" fill="rgb(153,153,153)"/><rect x="104" y="8" width="8.5" height="8.5" fill="rgb(204,204,204)"/><rect x="112" y="8" width="24.5" height="8.5" fill="rgb(230,230,230)"/><rect x="-8" y="16" width="32.5" height="8.5" fill="rgb(26,26,26)"/><rect x="24" y="16" width="8.5" height="8.5" fill="rgb(51,51,51)"/><rect x="32" y="16" width="16.5" height="8.5" fill="rgb(76,76,76)"/><rect x="48" y="16" width="40.5" height="8.5" fill="rgb(102,102,102)"/><rect x="88" y="16" width="16.5" height="8.5" fill="rgb(153,153,153)"/><rect x="104" y="16" width="8.5" height="8.5" fill="rgb(178,178,178)"/><rect x="112" y="16" width="8.5" height="8.5" fill="rgb(204,204,204)"/><rect x="120" y="16" width="16.5" height="8.5" fill="rgb(230,230,230)"/><rect x="-8" y="24" width="32.5" height="8.5" fill="rgb(26,26,26)"/><rect x="24" y="24" width="8.5" height="8.5" fill="rgb(51,51,51)"/><rect x="32" y="24" width="8.5" height="8.5" fill="rgb(76,76,76)"/><rect x="40" y="24" width="24.5" height="8.5" fill="rgb(102,102,102)"/><rect x="64" y="24" width="16.5" height="8.5" fill="rgb(128,128,128)"/><rect x="80" y="24" width="24.5" height="8.5" fill="rgb(153,153,153)"/><rect x="104" y="24" width="32.5" height="8.5" fill="rgb(178,178,178)"/><rect x="-8" y="32" width="24.5" height="8.5" fill="rgb(26,26,26)"/><rect x="16" y="32" width="16.5" height="8.5" fill="rgb(51,51,51)"/><rect x="32" y="32" width="8.5" height="8.5" fill="rgb(76,76,76)"/><rect x="40" y="32" width="16.5" height="8.5" fill="rgb(102,102,102)"/><rect x="56" y="32" width="8.5" height="8.5" fill="rgb(128,128,128)"/><rect x="64" y="32" width="32.5" height="8.5" fill="rgb(153,153,153)"/><rect x="96" y="32" width="40.5" height="8.5" fill="rgb(178,178,178)"/><rect x="-8" y="40" width="24.5" height="8.5" fill="rgb(26,26,26)"/><rect x="16" y="40" width="8.5" height="8.5" fill="rgb(51,51,51)"/><rect x="24" y="40" width="8.5" height="8.5" fill="rgb(76,76,76)"/><rect x="32" y="40" width="16.5" height="8.5" fill="rgb(102,102,102)"/><rect x="48" y="40" width="8.5" height="8.5" fill="rgb(128,128,128)"/><rect x="56" y="40" width="8.5" height="8.5" fill="rgb(153,153,153)"/><rect x="64" y="40" width="16.5" height="8.5" fill="rgb(178,178,178)"/><rect x="80" y="40" width="16.5" height="8.5" fill="rgb(153,153,153)"/><rect x="96" y="40" width="40.5" height="8.5" fill="rgb(178,178,178)"/><rect x="-8" y="48" width="32.5" height="8.5" fill="rgb(51,51,51)"/><rect x="24" y="48" width="8.5" height="8.5" fill="rgb(76,76,76)"/><rect x="32" y="48" width="8.5" height="8.5" fill="rgb(102,102,102)"/><rect x="40" y="48" width="8.5" height="8.5" fill="rgb(128,128,128)"/><rect x="48" y="48" width="8.5" height="8.5" fill="rgb(153,153,153)"/><rect x="56" y="48" width="80.5" height="8.5" fill="rgb(178,178,178)"/><rect x="-8" y="56" width="32.5" height="8.5" fill="rgb(51,51,51)"/><rect x="24" y="56" width="8.5" height="8.5" fill="rgb(76,76,76)"/><rect x="32" y="56" width="8.5" height="8.5" fill="rgb(102,102,102)"/><rect x="40" y="56" width="8.5" height="8.5" fill="rgb(128,128,128)"/><rect x="48" y="56" width="8.5" height="8.5" fill="rgb(153,153,153)"/><rect x="56" y="56" width="80.5" height="8.5" fill="rgb(178,178,178)"/></g>
<g id="T_CSb_m4" filter="url(#F_CSb)"><rect x="-8" y="-8" width="56.5" height="8.5" fill="rgb(28,28,28)"/><rect x="48" y="-8" width="40.5" height="8.5" fill="rgb(54,54,54)"/><rect x="88" y="-8" width="8.5" height="8.5" fill="rgb(105,105,105)"/><rect x="96" y="-8" width="8.5" height="8.5" fill="rgb(156,156,156)"/><rect x="104" y="-8" width="8.5" height="8.5" fill="rgb(207,207,207)"/><rect x="112" y="-8" width="24.5" height="8.5" fill="rgb(232,232,232)"/><rect x="-8" y="0" width="56.5" height="8.5" fill="rgb(28,28,28)"/><rect x="48" y="0" width="40.5" height="8.5" fill="rgb(54,54,54)"/><rect x="88" y="0" width="8.5" height="8.5" fill="rgb(105,105,105)"/><rect x="96" y="0" width="8.5" height="8.5" fill="rgb(156,156,156)"/><rect x="104" y="0" width="8.5" height="8.5" fill="rgb(207,207,207)"/><rect x="112" y="0" width="24.5" height="8.5" fill="rgb(232,232,232)"/><rect x="-8" y="8" width="40.5" height="8.5" fill="rgb(28,28,28)"/><rect x="32" y="8" width="48.5" height="8.5" fill="rgb(54,54,54)"/><rect x="80" y="8" width="8.5" height="8.5" fill="rgb(79,79,79)"/><rect x="88" y="8" width="8.5" height="8.5" fill="rgb(130,130,130)"/><rect x="96" y="8" width="8.5" height="8.5" fill="rgb(156,156,156)"/><rect x="104" y="8" width="8.5" height="8.5" fill="rgb(207,207,207)"/><rect x="112" y="8" width="24.5" height="8.5" fill="rgb(232,232,232)"/><rect x="-8" y="16" width="32.5" height="8.5" fill="rgb(28,28,28)"/><rect x="24" y="16" width="8.5" height="8.5" fill="rgb(54,54,54)"/><rect x="32" y="16" width="16.5" height="8.5" fill="rgb(79,79,79)"/><rect x="48" y="16" width="40.5" height="8.5" fill="rgb(105,105,105)"/><rect x="88" y="16" width="16.5" height="8.5" fill="rgb(156,156,156)"/><rect x="104" y="16" width="8.5" height="8.5" fill="rgb(181,181,181)"/><rect x="112" y="16" width="8.5" height="8.5" fill="rgb(207,207,207)"/><rect x="120" y="16" width="16.5" height="8.5" fill="rgb(232,232,232)"/><rect x="-8" y="24" width="32.5" height="8.5" fill="rgb(28,28,28)"/><rect x="24" y="24" width="8.5" height="8.5" fill="rgb(54,54,54)"/><rect x="32" y="24" width="8.5" height="8.5" fill="rgb(79,79,79)"/><rect x="40" y="24" width="24.5" height="8.5" fill="rgb(105,105,105)"/><rect x="64" y="24" width="16.5" height="8.5" fill="rgb(130,130,130)"/><rect x="80" y="24" width="24.5" height="8.5" fill="rgb(156,156,156)"/><rect x="104" y="24" width="32.5" height="8.5" fill="rgb(181,181,181)"/><rect x="-8" y="32" width="24.5" height="8.5" fill="rgb(28,28,28)"/><rect x="16" y="32" width="16.5" height="8.5" fill="rgb(54,54,54)"/><rect x="32" y="32" width="8.5" height="8.5" fill="rgb(79,79,79)"/><rect x="40" y="32" width="16.5" height="8.5" fill="rgb(105,105,105)"/><rect x="56" y="32" width="8.5" height="8.5" fill="rgb(130,130,130)"/><rect x="64" y="32" width="32.5" height="8.5" fill="rgb(156,156,156)"/><rect x="96" y="32" width="40.5" height="8.5" fill="rgb(181,181,181)"/><rect x="-8" y="40" width="24.5" height="8.5" fill="rgb(28,28,28)"/><rect x="16" y="40" width="8.5" height="8.5" fill="rgb(54,54,54)"/><rect x="24" y="40" width="8.5" height="8.5" fill="rgb(79,79,79)"/><rect x="32" y="40" width="16.5" height="8.5" fill="rgb(105,105,105)"/><rect x="48" y="40" width="8.5" height="8.5" fill="rgb(130,130,130)"/><rect x="56" y="40" width="8.5" height="8.5" fill="rgb(156,156,156)"/><rect x="64" y="40" width="16.5" height="8.5" fill="rgb(181,181,181)"/><rect x="80" y="40" width="16.5" height="8.5" fill="rgb(156,156,156)"/><rect x="96" y="40" width="40.5" height="8.5" fill="rgb(181,181,181)"/><rect x="-8" y="48" width="32.5" height="8.5" fill="rgb(54,54,54)"/><rect x="24" y="48" width="8.5" height="8.5" fill="rgb(79,79,79)"/><rect x="32" y="48" width="8.5" height="8.5" fill="rgb(105,105,105)"/><rect x="40" y="48" width="8.5" height="8.5" fill="rgb(130,130,130)"/><rect x="48" y="48" width="8.5" height="8.5" fill="rgb(156,156,156)"/><rect x="56" y="48" width="80.5" height="8.5" fill="rgb(181,181,181)"/><rect x="-8" y="56" width="32.5" height="8.5" fill="rgb(54,54,54)"/><rect x="24" y="56" width="8.5" height="8.5" fill="rgb(79,79,79)"/><rect x="32" y="56" width="8.5" height="8.5" fill="rgb(105,105,105)"/><rect x="40" y="56" width="8.5" height="8.5" fill="rgb(130,130,130)"/><rect x="48" y="56" width="8.5" height="8.5" fill="rgb(156,156,156)"/><rect x="56" y="56" width="80.5" height="8.5" fill="rgb(181,181,181)"/></g>
<g id="T_CSb_m3" filter="url(#F_CSb)"><rect x="-8" y="-8" width="56.5" height="8.5" fill="rgb(31,31,31)"/><rect x="48" y="-8" width="40.5" height="8.5" fill="rgb(56,56,56)"/><rect x="88" y="-8" width="8.5" height="8.5" fill="rgb(107,107,107)"/><rect x="96" y="-8" width="8.5" height="8.5" fill="rgb(158,158,158)"/><rect x="104" y="-8" width="8.5" height="8.5" fill="rgb(209,209,209)"/><rect x="112" y="-8" width="24.5" height="8.5" fill="rgb(235,235,235)"/><rect x="-8" y="0" width="56.5" height="8.5" fill="rgb(31,31,31)"/><rect x="48" y="0" width="40.5" height="8.5" fill="rgb(56,56,56)"/><rect x="88" y="0" width="8.5" height="8.5" fill="rgb(107,107,107)"/><rect x="96" y="0" width="8.5" height="8.5" fill="rgb(158,158,158)"/><rect x="104" y="0" width="8.5" height="8.5" fill="rgb(209,209,209)"/><rect x="112" y="0" width="24.5" height="8.5" fill="rgb(235,235,235)"/><rect x="-8" y="8" width="40.5" height="8.5" fill="rgb(31,31,31)"/><rect x="32" y="8" width="48.5" height="8.5" fill="rgb(56,56,56)"/><rect x="80" y="8" width="8.5" height="8.5" fill="rgb(82,82,82)"/><rect x="88" y="8" width="8.5" height="8.5" fill="rgb(133,133,133)"/><rect x="96" y="8" width="8.5" height="8.5" fill="rgb(158,158,158)"/><rect x="104" y="8" width="8.5" height="8.5" fill="rgb(209,209,209)"/><rect x="112" y="8" width="24.5" height="8.5" fill="rgb(235,235,235)"/><rect x="-8" y="16" width="32.5" height="8.5" fill="rgb(31,31,31)"/><rect x="24" y="16" width="8.5" height="8.5" fill="rgb(56,56,56)"/><rect x="32" y="16" width="16.5" height="8.5" fill="rgb(82,82,82)"/><rect x="48" y="16" width="40.5" height="8.5" fill="rgb(107,107,107)"/><rect x="88" y="16" width="16.5" height="8.5" fill="rgb(158,158,158)"/><rect x="104" y="16" width="8.5" height="8.5" fill="rgb(184,184,184)"/><rect x="112" y="16" width="8.5" height="8.5" fill="rgb(209,209,209)"/><rect x="120" y="16" width="16.5" height="8.5" fill="rgb(235,235,235)"/><rect x="-8" y="24" width="32.5" height="8.5" fill="rgb(31,31,31)"/><rect x="24" y="24" width="8.5" height="8.5" fill="rgb(56,56,56)"/><rect x="32" y="24" width="8.5" height="8.5" fill="rgb(82,82,82)"/><rect x="40" y="24" width="24.5" height="8.5" fill="rgb(107,107,107)"/><rect x="64" y="24" width="16.5" height="8.5" fill="rgb(133,133,133)"/><rect x="80" y="24" width="24.5" height="8.5" fill="rgb(158,158,158)"/><rect x="104" y="24" width="32.5" height="8.5" fill="rgb(184,184,184)"/><rect x="-8" y="32" width="24.5" height="8.5" fill="rgb(31,31,31)"/><rect x="16" y="32" width="16.5" height="8.5" fill="rgb(56,56,56)"/><rect x="32" y="32" width="8.5" height="8.5" fill="rgb(82,82,82)"/><rect x="40" y="32" width="16.5" height="8.5" fill="rgb(107,107,107)"/><rect x="56" y="32" width="8.5" height="8.5" fill="rgb(133,133,133)"/><rect x="64" y="32" width="32.5" height="8.5" fill="rgb(158,158,158)"/><rect x="96" y="32" width="40.5" height="8.5" fill="rgb(184,184,184)"/><rect x="-8" y="40" width="24.5" height="8.5" fill="rgb(31,31,31)"/><rect x="16" y="40" width="8.5" height="8.5" fill="rgb(56,56,56)"/><rect x="24" y="40" width="8.5" height="8.5" fill="rgb(82,82,82)"/><rect x="32" y="40" width="16.5" height="8.5" fill="rgb(107,107,107)"/><rect x="48" y="40" width="8.5" height="8.5" fill="rgb(133,133,133)"/><rect x="56" y="40" width="8.5" height="8.5" fill="rgb(158,158,158)"/><rect x="64" y="40" width="16.5" height="8.5" fill="rgb(184,184,184)"/><rect x="80" y="40" width="16.5" height="8.5" fill="rgb(158,158,158)"/><rect x="96" y="40" width="40.5" height="8.5" fill="rgb(184,184,184)"/><rect x="-8" y="48" width="32.5" height="8.5" fill="rgb(56,56,56)"/><rect x="24" y="48" width="8.5" height="8.5" fill="rgb(82,82,82)"/><rect x="32" y="48" width="8.5" height="8.5" fill="rgb(107,107,107)"/><rect x="40" y="48" width="8.5" height="8.5" fill="rgb(133,133,133)"/><rect x="48" y="48" width="8.5" height="8.5" fill="rgb(158,158,158)"/><rect x="56" y="48" width="80.5" height="8.5" fill="rgb(184,184,184)"/><rect x="-8" y="56" width="32.5" height="8.5" fill="rgb(56,56,56)"/><rect x="24" y="56" width="8.5" height="8.5" fill="rgb(82,82,82)"/><rect x="32" y="56" width="8.5" height="8.5" fill="rgb(107,107,107)"/><rect x="40" y="56" width="8.5" height="8.5" fill="rgb(133,133,133)"/><rect x="48" y="56" width="8.5" height="8.5" fill="rgb(158,158,158)"/><rect x="56" y="56" width="80.5" height="8.5" fill="rgb(184,184,184)"/></g>
<g id="T_CSb" filter="url(#F_CSb)"><rect x="-8" y="-8" width="56.5" height="8.5" fill="rgb(38,38,38)"/><rect x="48" y="-8" width="40.5" height="8.5" fill="rgb(64,64,64)"/><rect x="88" y="-8" width="8.5" height="8.5" fill="rgb(115,115,115)"/><rect x="96" y="-8" width="8.5" height="8.5" fill="rgb(166,166,166)"/><rect x="104" y="-8" width="8.5" height="8.5" fill="rgb(217,217,217)"/><rect x="112" y="-8" width="24.5" height="8.5" fill="rgb(242,242,242)"/><rect x="-8" y="0" width="56.5" height="8.5" fill="rgb(38,38,38)"/><rect x="48" y="0" width="40.5" height="8.5" fill="rgb(64,64,64)"/><rect x="88" y="0" width="8.5" height="8.5" fill="rgb(115,115,115)"/><rect x="96" y="0" width="8.5" height="8.5" fill="rgb(166,166,166)"/><rect x="104" y="0" width="8.5" height="8.5" fill="rgb(217,217,217)"/><rect x="112" y="0" width="24.5" height="8.5" fill="rgb(242,242,242)"/><rect x="-8" y="8" width="40.5" height="8.5" fill="rgb(38,38,38)"/><rect x="32" y="8" width="48.5" height="8.5" fill="rgb(64,64,64)"/><rect x="80" y="8" width="8.5" height="8.5" fill="rgb(89,89,89)"/><rect x="88" y="8" width="8.5" height="8.5" fill="rgb(140,140,140)"/><rect x="96" y="8" width="8.5" height="8.5" fill="rgb(166,166,166)"/><rect x="104" y="8" width="8.5" height="8.5" fill="rgb(217,217,217)"/><rect x="112" y="8" width="24.5" height="8.5" fill="rgb(242,242,242)"/><rect x="-8" y="16" width="32.5" height="8.5" fill="rgb(38,38,38)"/><rect x="24" y="16" width="8.5" height="8.5" fill="rgb(64,64,64)"/><rect x="32" y="16" width="16.5" height="8.5" fill="rgb(89,89,89)"/><rect x="48" y="16" width="40.5" height="8.5" fill="rgb(115,115,115)"/><rect x="88" y="16" width="16.5" height="8.5" fill="rgb(166,166,166)"/><rect x="104" y="16" width="8.5" height="8.5" fill="rgb(191,191,191)"/><rect x="112" y="16" width="8.5" height="8.5" fill="rgb(217,217,217)"/><rect x="120" y="16" width="16.5" height="8.5" fill="rgb(242,242,242)"/><rect x="-8" y="24" width="32.5" height="8.5" fill="rgb(38,38,38)"/><rect x="24" y="24" width="8.5" height="8.5" fill="rgb(64,64,64)"/><rect x="32" y="24" width="8.5" height="8.5" fill="rgb(89,89,89)"/><rect x="40" y="24" width="24.5" height="8.5" fill="rgb(115,115,115)"/><rect x="64" y="24" width="16.5" height="8.5" fill="rgb(140,140,140)"/><rect x="80" y="24" width="24.5" height="8.5" fill="rgb(166,166,166)"/><rect x="104" y="24" width="32.5" height="8.5" fill="rgb(191,191,191)"/><rect x="-8" y="32" width="24.5" height="8.5" fill="rgb(38,38,38)"/><rect x="16" y="32" width="16.5" height="8.5" fill="rgb(64,64,64)"/><rect x="32" y="32" width="8.5" height="8.5" fill="rgb(89,89,89)"/><rect x="40" y="32" width="16.5" height="8.5" fill="rgb(115,115,115)"/><rect x="56" y="32" width="8.5" height="8.5" fill="rgb(140,140,140)"/><rect x="64" y="32" width="32.5" height="8.5" fill="rgb(166,166,166)"/><rect x="96" y="32" width="40.5" height="8.5" fill="rgb(191,191,191)"/><rect x="-8" y="40" width="24.5" height="8.5" fill="rgb(38,38,38)"/><rect x="16" y="40" width="8.5" height="8.5" fill="rgb(64,64,64)"/><rect x="24" y="40" width="8.5" height="8.5" fill="rgb(89,89,89)"/><rect x="32" y="40" width="16.5" height="8.5" fill="rgb(115,115,115)"/><rect x="48" y="40" width="8.5" height="8.5" fill="rgb(140,140,140)"/><rect x="56" y="40" width="8.5" height="8.5" fill="rgb(166,166,166)"/><rect x="64" y="40" width="16.5" height="8.5" fill="rgb(191,191,191)"/><rect x="80" y="40" width="16.5" height="8.5" fill="rgb(166,166,166)"/><rect x="96" y="40" width="40.5" height="8.5" fill="rgb(191,191,191)"/><rect x="-8" y="48" width="32.5" height="8.5" fill="rgb(64,64,64)"/><rect x="24" y="48" width="8.5" height="8.5" fill="rgb(89,89,89)"/><rect x="32" y="48" width="8.5" height="8.5" fill="rgb(115,115,115)"/><rect x="40" y="48" width="8.5" height="8.5" fill="rgb(140,140,140)"/><rect x="48" y="48" width="8.5" height="8.5" fill="rgb(166,166,166)"/><rect x="56" y="48" width="80.5" height="8.5" fill="rgb(191,191,191)"/><rect x="-8" y="56" width="32.5" height="8.5" fill="rgb(64,64,64)"/><rect x="24" y="56" width="8.5" height="8.5" fill="rgb(89,89,89)"/><rect x="32" y="56" width="8.5" height="8.5" fill="rgb(115,115,115)"/><rect x="40" y="56" width="8.5" height="8.5" fill="rgb(140,140,140)"/><rect x="48" y="56" width="8.5" height="8.5" fill="rgb(166,166,166)"/><rect x="56" y="56" width="80.5" height="8.5" fill="rgb(191,191,191)"/></g>
<filter id="F_HQb" x="-8" y="-8" width="140" height="70" filterUnits="userSpaceOnUse" color-interpolation-filters="sRGB"><feGaussianBlur in="SourceGraphic" stdDeviation="2.0" result="f"/><feTurbulence type="fractalNoise" baseFrequency="0.15 0.35" numOctaves="2" seed="24" result="t"/><feColorMatrix in="t" type="matrix" values="1 0 0 0 0  1 0 0 0 0  1 0 0 0 0  0 0 0 0 1" result="n"/><feComposite in="f" in2="n" operator="arithmetic" k1="0" k2="1" k3="0.9" k4="-0.450" result="m"/><feComponentTransfer in="m" result="c"><feFuncR type="table" tableValues="0.957 0.784 0.596 0.408 0.235 0.133"/><feFuncG type="table" tableValues="0.988 0.949 0.894 0.863 0.831 0.816"/><feFuncB type="table" tableValues="0.957 0.784 0.596 0.408 0.235 0.157"/></feComponentTransfer><feTurbulence type="fractalNoise" baseFrequency="0.25 0.5" numOctaves="2" seed="32" result="t2"/><feColorMatrix in="t2" type="matrix" values="0 0 0 0 1  0 0 0 0 1  0 0 0 0 1  3.0 0 0 0 -1.890" result="sp"/><feComposite in="sp" in2="c" operator="over"/></filter>
<g id="T_HQb" filter="url(#F_HQb)"><rect x="-8" y="-8" width="48.5" height="8.5" fill="rgb(191,191,191)"/><rect x="40" y="-8" width="96.5" height="8.5" fill="rgb(217,217,217)"/><rect x="-8" y="0" width="48.5" height="8.5" fill="rgb(191,191,191)"/><rect x="40" y="0" width="96.5" height="8.5" fill="rgb(217,217,217)"/><rect x="-8" y="8" width="24.5" height="8.5" fill="rgb(191,191,191)"/><rect x="16" y="8" width="120.5" height="8.5" fill="rgb(217,217,217)"/><rect x="-8" y="16" width="144.5" height="8.5" fill="rgb(217,217,217)"/><rect x="-8" y="24" width="144.5" height="8.5" fill="rgb(217,217,217)"/><rect x="-8" y="32" width="144.5" height="8.5" fill="rgb(217,217,217)"/><rect x="-8" y="40" width="144.5" height="8.5" fill="rgb(217,217,217)"/><rect x="-8" y="48" width="144.5" height="8.5" fill="rgb(217,217,217)"/><rect x="-8" y="56" width="144.5" height="8.5" fill="rgb(217,217,217)"/></g>
<filter id="F_WYc" x="-8" y="-8" width="140" height="70" filterUnits="userSpaceOnUse" color-interpolation-filters="sRGB"><feGaussianBlur in="SourceGraphic" stdDeviation="1.6" result="f"/><feTurbulence type="fractalNoise" baseFrequency="0.1 0.1" numOctaves="2" seed="31" result="t"/><feColorMatrix in="t" type="matrix" values="1 0 0 0 0  1 0 0 0 0  1 0 0 0 0  0 0 0 0 1" result="n"/><feComposite in="f" in2="n" operator="arithmetic" k1="0" k2="1" k3="0.35" k4="-0.175" result="m"/><feComponentTransfer in="m" result="c"><feFuncR type="discrete" tableValues="0.706 0.706 0.604 0.431 0.290 0.180 0.125 0.094 0.063 0.063"/><feFuncG type="discrete" tableValues="0.910 0.910 0.839 0.682 0.541 0.400 0.282 0.188 0.118 0.118"/><feFuncB type="discrete" tableValues="0.957 0.957 0.949 0.918 0.886 0.839 0.761 0.620 0.533 0.533"/></feComponentTransfer></filter>
<g id="T_WYc" filter="url(#F_WYc)"><rect x="-8" y="-8" width="96.5" height="8.5" fill="rgb(38,38,38)"/><rect x="88" y="-8" width="16.5" height="8.5" fill="rgb(64,64,64)"/><rect x="104" y="-8" width="32.5" height="8.5" fill="rgb(38,38,38)"/><rect x="-8" y="0" width="96.5" height="8.5" fill="rgb(38,38,38)"/><rect x="88" y="0" width="16.5" height="8.5" fill="rgb(64,64,64)"/><rect x="104" y="0" width="32.5" height="8.5" fill="rgb(38,38,38)"/><rect x="-8" y="8" width="96.5" height="8.5" fill="rgb(38,38,38)"/><rect x="88" y="8" width="8.5" height="8.5" fill="rgb(89,89,89)"/><rect x="96" y="8" width="16.5" height="8.5" fill="rgb(38,38,38)"/><rect x="112" y="8" width="24.5" height="8.5" fill="rgb(89,89,89)"/><rect x="-8" y="16" width="64.5" height="8.5" fill="rgb(38,38,38)"/><rect x="56" y="16" width="8.5" height="8.5" fill="rgb(89,89,89)"/><rect x="64" y="16" width="8.5" height="8.5" fill="rgb(115,115,115)"/><rect x="72" y="16" width="8.5" height="8.5" fill="rgb(38,38,38)"/><rect x="80" y="16" width="8.5" height="8.5" fill="rgb(89,89,89)"/><rect x="88" y="16" width="8.5" height="8.5" fill="rgb(140,140,140)"/><rect x="96" y="16" width="8.5" height="8.5" fill="rgb(64,64,64)"/><rect x="104" y="16" width="8.5" height="8.5" fill="rgb(89,89,89)"/><rect x="112" y="16" width="24.5" height="8.5" fill="rgb(115,115,115)"/><rect x="-8" y="24" width="48.5" height="8.5" fill="rgb(64,64,64)"/><rect x="40" y="24" width="8.5" height="8.5" fill="rgb(89,89,89)"/><rect x="48" y="24" width="8.5" height="8.5" fill="rgb(140,140,140)"/><rect x="56" y="24" width="16.5" height="8.5" fill="rgb(166,166,166)"/><rect x="72" y="24" width="16.5" height="8.5" fill="rgb(140,140,140)"/><rect x="88" y="24" width="8.5" height="8.5" fill="rgb(166,166,166)"/><rect x="96" y="24" width="24.5" height="8.5" fill="rgb(140,140,140)"/><rect x="120" y="24" width="16.5" height="8.5" fill="rgb(115,115,115)"/><rect x="-8" y="32" width="48.5" height="8.5" fill="rgb(115,115,115)"/><rect x="40" y="32" width="8.5" height="8.5" fill="rgb(140,140,140)"/><rect x="48" y="32" width="24.5" height="8.5" fill="rgb(166,166,166)"/><rect x="72" y="32" width="8.5" height="8.5" fill="rgb(191,191,191)"/><rect x="80" y="32" width="8.5" height="8.5" fill="rgb(140,140,140)"/><rect x="88" y="32" width="24.5" height="8.5" fill="rgb(166,166,166)"/><rect x="112" y="32" width="24.5" height="8.5" fill="rgb(140,140,140)"/><rect x="-8" y="40" width="48.5" height="8.5" fill="rgb(140,140,140)"/><rect x="40" y="40" width="16.5" height="8.5" fill="rgb(166,166,166)"/><rect x="56" y="40" width="24.5" height="8.5" fill="rgb(191,191,191)"/><rect x="80" y="40" width="56.5" height="8.5" fill="rgb(166,166,166)"/><rect x="-8" y="48" width="56.5" height="8.5" fill="rgb(166,166,166)"/><rect x="48" y="48" width="88.5" height="8.5" fill="rgb(191,191,191)"/><rect x="-8" y="56" width="56.5" height="8.5" fill="rgb(166,166,166)"/><rect x="48" y="56" width="88.5" height="8.5" fill="rgb(191,191,191)"/></g>
<g id="T_WYc_p2" filter="url(#F_WYc)"><rect x="-8" y="-8" width="96.5" height="8.5" fill="rgb(43,43,43)"/><rect x="88" y="-8" width="16.5" height="8.5" fill="rgb(69,69,69)"/><rect x="104" y="-8" width="32.5" height="8.5" fill="rgb(43,43,43)"/><rect x="-8" y="0" width="96.5" height="8.5" fill="rgb(43,43,43)"/><rect x="88" y="0" width="16.5" height="8.5" fill="rgb(69,69,69)"/><rect x="104" y="0" width="32.5" height="8.5" fill="rgb(43,43,43)"/><rect x="-8" y="8" width="96.5" height="8.5" fill="rgb(43,43,43)"/><rect x="88" y="8" width="8.5" height="8.5" fill="rgb(94,94,94)"/><rect x="96" y="8" width="16.5" height="8.5" fill="rgb(43,43,43)"/><rect x="112" y="8" width="24.5" height="8.5" fill="rgb(94,94,94)"/><rect x="-8" y="16" width="64.5" height="8.5" fill="rgb(43,43,43)"/><rect x="56" y="16" width="8.5" height="8.5" fill="rgb(94,94,94)"/><rect x="64" y="16" width="8.5" height="8.5" fill="rgb(120,120,120)"/><rect x="72" y="16" width="8.5" height="8.5" fill="rgb(43,43,43)"/><rect x="80" y="16" width="8.5" height="8.5" fill="rgb(94,94,94)"/><rect x="88" y="16" width="8.5" height="8.5" fill="rgb(145,145,145)"/><rect x="96" y="16" width="8.5" height="8.5" fill="rgb(69,69,69)"/><rect x="104" y="16" width="8.5" height="8.5" fill="rgb(94,94,94)"/><rect x="112" y="16" width="24.5" height="8.5" fill="rgb(120,120,120)"/><rect x="-8" y="24" width="48.5" height="8.5" fill="rgb(69,69,69)"/><rect x="40" y="24" width="8.5" height="8.5" fill="rgb(94,94,94)"/><rect x="48" y="24" width="8.5" height="8.5" fill="rgb(145,145,145)"/><rect x="56" y="24" width="16.5" height="8.5" fill="rgb(171,171,171)"/><rect x="72" y="24" width="16.5" height="8.5" fill="rgb(145,145,145)"/><rect x="88" y="24" width="8.5" height="8.5" fill="rgb(171,171,171)"/><rect x="96" y="24" width="24.5" height="8.5" fill="rgb(145,145,145)"/><rect x="120" y="24" width="16.5" height="8.5" fill="rgb(120,120,120)"/><rect x="-8" y="32" width="48.5" height="8.5" fill="rgb(120,120,120)"/><rect x="40" y="32" width="8.5" height="8.5" fill="rgb(145,145,145)"/><rect x="48" y="32" width="24.5" height="8.5" fill="rgb(171,171,171)"/><rect x="72" y="32" width="8.5" height="8.5" fill="rgb(196,196,196)"/><rect x="80" y="32" width="8.5" height="8.5" fill="rgb(145,145,145)"/><rect x="88" y="32" width="24.5" height="8.5" fill="rgb(171,171,171)"/><rect x="112" y="32" width="24.5" height="8.5" fill="rgb(145,145,145)"/><rect x="-8" y="40" width="48.5" height="8.5" fill="rgb(145,145,145)"/><rect x="40" y="40" width="16.5" height="8.5" fill="rgb(171,171,171)"/><rect x="56" y="40" width="24.5" height="8.5" fill="rgb(196,196,196)"/><rect x="80" y="40" width="56.5" height="8.5" fill="rgb(171,171,171)"/><rect x="-8" y="48" width="56.5" height="8.5" fill="rgb(171,171,171)"/><rect x="48" y="48" width="88.5" height="8.5" fill="rgb(196,196,196)"/><rect x="-8" y="56" width="56.5" height="8.5" fill="rgb(171,171,171)"/><rect x="48" y="56" width="88.5" height="8.5" fill="rgb(196,196,196)"/></g>
<filter id="F_WYc2" x="-8" y="-8" width="140" height="70" filterUnits="userSpaceOnUse" color-interpolation-filters="sRGB"><feGaussianBlur in="SourceGraphic" stdDeviation="1.6" result="f"/><feTurbulence type="fractalNoise" baseFrequency="0.1 0.1" numOctaves="2" seed="38" result="t"/><feColorMatrix in="t" type="matrix" values="1 0 0 0 0  1 0 0 0 0  1 0 0 0 0  0 0 0 0 1" result="n"/><feComposite in="f" in2="n" operator="arithmetic" k1="0" k2="1" k3="0.35" k4="-0.175" result="m"/><feComponentTransfer in="m" result="c"><feFuncR type="discrete" tableValues="0.706 0.706 0.604 0.431 0.290 0.180 0.125 0.094 0.063 0.063"/><feFuncG type="discrete" tableValues="0.910 0.910 0.839 0.682 0.541 0.400 0.282 0.188 0.118 0.118"/><feFuncB type="discrete" tableValues="0.957 0.957 0.949 0.918 0.886 0.839 0.761 0.620 0.533 0.533"/></feComponentTransfer></filter>
<g id="T_WYc2_m3" filter="url(#F_WYc2)"><rect x="-8" y="-8" width="88.5" height="8.5" fill="rgb(82,82,82)"/><rect x="80" y="-8" width="8.5" height="8.5" fill="rgb(56,56,56)"/><rect x="88" y="-8" width="48.5" height="8.5" fill="rgb(82,82,82)"/><rect x="-8" y="0" width="88.5" height="8.5" fill="rgb(82,82,82)"/><rect x="80" y="0" width="8.5" height="8.5" fill="rgb(56,56,56)"/><rect x="88" y="0" width="48.5" height="8.5" fill="rgb(82,82,82)"/><rect x="-8" y="8" width="48.5" height="8.5" fill="rgb(31,31,31)"/><rect x="40" y="8" width="8.5" height="8.5" fill="rgb(56,56,56)"/><rect x="48" y="8" width="24.5" height="8.5" fill="rgb(82,82,82)"/><rect x="72" y="8" width="16.5" height="8.5" fill="rgb(56,56,56)"/><rect x="88" y="8" width="16.5" height="8.5" fill="rgb(107,107,107)"/><rect x="104" y="8" width="16.5" height="8.5" fill="rgb(82,82,82)"/><rect x="120" y="8" width="16.5" height="8.5" fill="rgb(107,107,107)"/><rect x="-8" y="16" width="40.5" height="8.5" fill="rgb(31,31,31)"/><rect x="32" y="16" width="8.5" height="8.5" fill="rgb(56,56,56)"/><rect x="40" y="16" width="8.5" height="8.5" fill="rgb(82,82,82)"/><rect x="48" y="16" width="24.5" height="8.5" fill="rgb(107,107,107)"/><rect x="72" y="16" width="8.5" height="8.5" fill="rgb(82,82,82)"/><rect x="80" y="16" width="8.5" height="8.5" fill="rgb(107,107,107)"/><rect x="88" y="16" width="8.5" height="8.5" fill="rgb(133,133,133)"/><rect x="96" y="16" width="8.5" height="8.5" fill="rgb(158,158,158)"/><rect x="104" y="16" width="32.5" height="8.5" fill="rgb(133,133,133)"/><rect x="-8" y="24" width="40.5" height="8.5" fill="rgb(56,56,56)"/><rect x="32" y="24" width="8.5" height="8.5" fill="rgb(82,82,82)"/><rect x="40" y="24" width="8.5" height="8.5" fill="rgb(107,107,107)"/><rect x="48" y="24" width="40.5" height="8.5" fill="rgb(133,133,133)"/><rect x="88" y="24" width="16.5" height="8.5" fill="rgb(158,158,158)"/><rect x="104" y="24" width="32.5" height="8.5" fill="rgb(133,133,133)"/><rect x="-8" y="32" width="48.5" height="8.5" fill="rgb(82,82,82)"/><rect x="40" y="32" width="16.5" height="8.5" fill="rgb(133,133,133)"/><rect x="56" y="32" width="24.5" height="8.5" fill="rgb(158,158,158)"/><rect x="80" y="32" width="16.5" height="8.5" fill="rgb(133,133,133)"/><rect x="96" y="32" width="16.5" height="8.5" fill="rgb(158,158,158)"/><rect x="112" y="32" width="24.5" height="8.5" fill="rgb(133,133,133)"/><rect x="-8" y="40" width="48.5" height="8.5" fill="rgb(107,107,107)"/><rect x="40" y="40" width="8.5" height="8.5" fill="rgb(133,133,133)"/><rect x="48" y="40" width="16.5" height="8.5" fill="rgb(158,158,158)"/><rect x="64" y="40" width="8.5" height="8.5" fill="rgb(184,184,184)"/><rect x="72" y="40" width="64.5" height="8.5" fill="rgb(158,158,158)"/><rect x="-8" y="48" width="48.5" height="8.5" fill="rgb(133,133,133)"/><rect x="40" y="48" width="8.5" height="8.5" fill="rgb(158,158,158)"/><rect x="48" y="48" width="88.5" height="8.5" fill="rgb(184,184,184)"/><rect x="-8" y="56" width="48.5" height="8.5" fill="rgb(133,133,133)"/><rect x="40" y="56" width="8.5" height="8.5" fill="rgb(158,158,158)"/><rect x="48" y="56" width="88.5" height="8.5" fill="rgb(184,184,184)"/></g>
<g id="T_WYc2" filter="url(#F_WYc2)"><rect x="-8" y="-8" width="88.5" height="8.5" fill="rgb(89,89,89)"/><rect x="80" y="-8" width="8.5" height="8.5" fill="rgb(64,64,64)"/><rect x="88" y="-8" width="48.5" height="8.5" fill="rgb(89,89,89)"/><rect x="-8" y="0" width="88.5" height="8.5" fill="rgb(89,89,89)"/><rect x="80" y="0" width="8.5" height="8.5" fill="rgb(64,64,64)"/><rect x="88" y="0" width="48.5" height="8.5" fill="rgb(89,89,89)"/><rect x="-8" y="8" width="48.5" height="8.5" fill="rgb(38,38,38)"/><rect x="40" y="8" width="8.5" height="8.5" fill="rgb(64,64,64)"/><rect x="48" y="8" width="24.5" height="8.5" fill="rgb(89,89,89)"/><rect x="72" y="8" width="16.5" height="8.5" fill="rgb(64,64,64)"/><rect x="88" y="8" width="16.5" height="8.5" fill="rgb(115,115,115)"/><rect x="104" y="8" width="16.5" height="8.5" fill="rgb(89,89,89)"/><rect x="120" y="8" width="16.5" height="8.5" fill="rgb(115,115,115)"/><rect x="-8" y="16" width="40.5" height="8.5" fill="rgb(38,38,38)"/><rect x="32" y="16" width="8.5" height="8.5" fill="rgb(64,64,64)"/><rect x="40" y="16" width="8.5" height="8.5" fill="rgb(89,89,89)"/><rect x="48" y="16" width="24.5" height="8.5" fill="rgb(115,115,115)"/><rect x="72" y="16" width="8.5" height="8.5" fill="rgb(89,89,89)"/><rect x="80" y="16" width="8.5" height="8.5" fill="rgb(115,115,115)"/><rect x="88" y="16" width="8.5" height="8.5" fill="rgb(140,140,140)"/><rect x="96" y="16" width="8.5" height="8.5" fill="rgb(166,166,166)"/><rect x="104" y="16" width="32.5" height="8.5" fill="rgb(140,140,140)"/><rect x="-8" y="24" width="40.5" height="8.5" fill="rgb(64,64,64)"/><rect x="32" y="24" width="8.5" height="8.5" fill="rgb(89,89,89)"/><rect x="40" y="24" width="8.5" height="8.5" fill="rgb(115,115,115)"/><rect x="48" y="24" width="40.5" height="8.5" fill="rgb(140,140,140)"/><rect x="88" y="24" width="16.5" height="8.5" fill="rgb(166,166,166)"/><rect x="104" y="24" width="32.5" height="8.5" fill="rgb(140,140,140)"/><rect x="-8" y="32" width="48.5" height="8.5" fill="rgb(89,89,89)"/><rect x="40" y="32" width="16.5" height="8.5" fill="rgb(140,140,140)"/><rect x="56" y="32" width="24.5" height="8.5" fill="rgb(166,166,166)"/><rect x="80" y="32" width="16.5" height="8.5" fill="rgb(140,140,140)"/><rect x="96" y="32" width="16.5" height="8.5" fill="rgb(166,166,166)"/><rect x="112" y="32" width="24.5" height="8.5" fill="rgb(140,140,140)"/><rect x="-8" y="40" width="48.5" height="8.5" fill="rgb(115,115,115)"/><rect x="40" y="40" width="8.5" height="8.5" fill="rgb(140,140,140)"/><rect x="48" y="40" width="16.5" height="8.5" fill="rgb(166,166,166)"/><rect x="64" y="40" width="8.5" height="8.5" fill="rgb(191,191,191)"/><rect x="72" y="40" width="64.5" height="8.5" fill="rgb(166,166,166)"/><rect x="-8" y="48" width="48.5" height="8.5" fill="rgb(140,140,140)"/><rect x="40" y="48" width="8.5" height="8.5" fill="rgb(166,166,166)"/><rect x="48" y="48" width="88.5" height="8.5" fill="rgb(191,191,191)"/><rect x="-8" y="56" width="48.5" height="8.5" fill="rgb(140,140,140)"/><rect x="40" y="56" width="8.5" height="8.5" fill="rgb(166,166,166)"/><rect x="48" y="56" width="88.5" height="8.5" fill="rgb(191,191,191)"/></g>
<g id="T_WYc2_p2" filter="url(#F_WYc2)"><rect x="-8" y="-8" width="88.5" height="8.5" fill="rgb(94,94,94)"/><rect x="80" y="-8" width="8.5" height="8.5" fill="rgb(69,69,69)"/><rect x="88" y="-8" width="48.5" height="8.5" fill="rgb(94,94,94)"/><rect x="-8" y="0" width="88.5" height="8.5" fill="rgb(94,94,94)"/><rect x="80" y="0" width="8.5" height="8.5" fill="rgb(69,69,69)"/><rect x="88" y="0" width="48.5" height="8.5" fill="rgb(94,94,94)"/><rect x="-8" y="8" width="48.5" height="8.5" fill="rgb(43,43,43)"/><rect x="40" y="8" width="8.5" height="8.5" fill="rgb(69,69,69)"/><rect x="48" y="8" width="24.5" height="8.5" fill="rgb(94,94,94)"/><rect x="72" y="8" width="16.5" height="8.5" fill="rgb(69,69,69)"/><rect x="88" y="8" width="16.5" height="8.5" fill="rgb(120,120,120)"/><rect x="104" y="8" width="16.5" height="8.5" fill="rgb(94,94,94)"/><rect x="120" y="8" width="16.5" height="8.5" fill="rgb(120,120,120)"/><rect x="-8" y="16" width="40.5" height="8.5" fill="rgb(43,43,43)"/><rect x="32" y="16" width="8.5" height="8.5" fill="rgb(69,69,69)"/><rect x="40" y="16" width="8.5" height="8.5" fill="rgb(94,94,94)"/><rect x="48" y="16" width="24.5" height="8.5" fill="rgb(120,120,120)"/><rect x="72" y="16" width="8.5" height="8.5" fill="rgb(94,94,94)"/><rect x="80" y="16" width="8.5" height="8.5" fill="rgb(120,120,120)"/><rect x="88" y="16" width="8.5" height="8.5" fill="rgb(145,145,145)"/><rect x="96" y="16" width="8.5" height="8.5" fill="rgb(171,171,171)"/><rect x="104" y="16" width="32.5" height="8.5" fill="rgb(145,145,145)"/><rect x="-8" y="24" width="40.5" height="8.5" fill="rgb(69,69,69)"/><rect x="32" y="24" width="8.5" height="8.5" fill="rgb(94,94,94)"/><rect x="40" y="24" width="8.5" height="8.5" fill="rgb(120,120,120)"/><rect x="48" y="24" width="40.5" height="8.5" fill="rgb(145,145,145)"/><rect x="88" y="24" width="16.5" height="8.5" fill="rgb(171,171,171)"/><rect x="104" y="24" width="32.5" height="8.5" fill="rgb(145,145,145)"/><rect x="-8" y="32" width="48.5" height="8.5" fill="rgb(94,94,94)"/><rect x="40" y="32" width="16.5" height="8.5" fill="rgb(145,145,145)"/><rect x="56" y="32" width="24.5" height="8.5" fill="rgb(171,171,171)"/><rect x="80" y="32" width="16.5" height="8.5" fill="rgb(145,145,145)"/><rect x="96" y="32" width="16.5" height="8.5" fill="rgb(171,171,171)"/><rect x="112" y="32" width="24.5" height="8.5" fill="rgb(145,145,145)"/><rect x="-8" y="40" width="48.5" height="8.5" fill="rgb(120,120,120)"/><rect x="40" y="40" width="8.5" height="8.5" fill="rgb(145,145,145)"/><rect x="48" y="40" width="16.5" height="8.5" fill="rgb(171,171,171)"/><rect x="64" y="40" width="8.5" height="8.5" fill="rgb(196,196,196)"/><rect x="72" y="40" width="64.5" height="8.5" fill="rgb(171,171,171)"/><rect x="-8" y="48" width="48.5" height="8.5" fill="rgb(145,145,145)"/><rect x="40" y="48" width="8.5" height="8.5" fill="rgb(171,171,171)"/><rect x="48" y="48" width="88.5" height="8.5" fill="rgb(196,196,196)"/><rect x="-8" y="56" width="48.5" height="8.5" fill="rgb(145,145,145)"/><rect x="40" y="56" width="8.5" height="8.5" fill="rgb(171,171,171)"/><rect x="48" y="56" width="88.5" height="8.5" fill="rgb(196,196,196)"/></g>
<filter id="F_SCc" x="-8" y="-8" width="140" height="70" filterUnits="userSpaceOnUse" color-interpolation-filters="sRGB"><feGaussianBlur in="SourceGraphic" stdDeviation="1.6" result="f"/><feTurbulence type="fractalNoise" baseFrequency="0.1 0.1" numOctaves="2" seed="45" result="t"/><feColorMatrix in="t" type="matrix" values="1 0 0 0 0  1 0 0 0 0  1 0 0 0 0  0 0 0 0 1" result="n"/><feComposite in="f" in2="n" operator="arithmetic" k1="0" k2="1" k3="0.25" k4="-0.125" result="m"/><feComponentTransfer in="m" result="c"><feFuncR type="discrete" tableValues="1.000 0.996 0.988 0.988 0.973 0.933 0.863 0.722 0.549 0.439"/><feFuncG type="discrete" tableValues="0.988 0.976 0.973 0.886 0.784 0.659 0.518 0.345 0.188 0.125"/><feFuncB type="discrete" tableValues="0.816 0.690 0.471 0.384 0.314 0.235 0.157 0.094 0.063 0.031"/></feComponentTransfer></filter>
<g id="T_SCc" filter="url(#F_SCc)"><rect x="-8" y="-8" width="104.5" height="8.5" fill="rgb(64,64,64)"/><rect x="96" y="-8" width="16.5" height="8.5" fill="rgb(115,115,115)"/><rect x="112" y="-8" width="8.5" height="8.5" fill="rgb(191,191,191)"/><rect x="120" y="-8" width="16.5" height="8.5" fill="rgb(115,115,115)"/><rect x="-8" y="0" width="104.5" height="8.5" fill="rgb(64,64,64)"/><rect x="96" y="0" width="16.5" height="8.5" fill="rgb(115,115,115)"/><rect x="112" y="0" width="8.5" height="8.5" fill="rgb(191,191,191)"/><rect x="120" y="0" width="16.5" height="8.5" fill="rgb(115,115,115)"/><rect x="-8" y="8" width="96.5" height="8.5" fill="rgb(64,64,64)"/><rect x="88" y="8" width="8.5" height="8.5" fill="rgb(115,115,115)"/><rect x="96" y="8" width="40.5" height="8.5" fill="rgb(140,140,140)"/><rect x="-8" y="16" width="56.5" height="8.5" fill="rgb(64,64,64)"/><rect x="48" y="16" width="24.5" height="8.5" fill="rgb(89,89,89)"/><rect x="72" y="16" width="8.5" height="8.5" fill="rgb(64,64,64)"/><rect x="80" y="16" width="8.5" height="8.5" fill="rgb(89,89,89)"/><rect x="88" y="16" width="48.5" height="8.5" fill="rgb(140,140,140)"/><rect x="-8" y="24" width="48.5" height="8.5" fill="rgb(64,64,64)"/><rect x="40" y="24" width="8.5" height="8.5" fill="rgb(89,89,89)"/><rect x="48" y="24" width="8.5" height="8.5" fill="rgb(115,115,115)"/><rect x="56" y="24" width="16.5" height="8.5" fill="rgb(140,140,140)"/><rect x="72" y="24" width="16.5" height="8.5" fill="rgb(115,115,115)"/><rect x="88" y="24" width="8.5" height="8.5" fill="rgb(140,140,140)"/><rect x="96" y="24" width="8.5" height="8.5" fill="rgb(191,191,191)"/><rect x="104" y="24" width="32.5" height="8.5" fill="rgb(217,217,217)"/><rect x="-8" y="32" width="40.5" height="8.5" fill="rgb(64,64,64)"/><rect x="32" y="32" width="8.5" height="8.5" fill="rgb(89,89,89)"/><rect x="40" y="32" width="8.5" height="8.5" fill="rgb(115,115,115)"/><rect x="48" y="32" width="8.5" height="8.5" fill="rgb(140,140,140)"/><rect x="56" y="32" width="16.5" height="8.5" fill="rgb(191,191,191)"/><rect x="72" y="32" width="8.5" height="8.5" fill="rgb(166,166,166)"/><rect x="80" y="32" width="16.5" height="8.5" fill="rgb(140,140,140)"/><rect x="96" y="32" width="40.5" height="8.5" fill="rgb(217,217,217)"/><rect x="-8" y="40" width="40.5" height="8.5" fill="rgb(64,64,64)"/><rect x="32" y="40" width="8.5" height="8.5" fill="rgb(89,89,89)"/><rect x="40" y="40" width="8.5" height="8.5" fill="rgb(140,140,140)"/><rect x="48" y="40" width="8.5" height="8.5" fill="rgb(166,166,166)"/><rect x="56" y="40" width="8.5" height="8.5" fill="rgb(191,191,191)"/><rect x="64" y="40" width="8.5" height="8.5" fill="rgb(217,217,217)"/><rect x="72" y="40" width="8.5" height="8.5" fill="rgb(191,191,191)"/><rect x="80" y="40" width="16.5" height="8.5" fill="rgb(166,166,166)"/><rect x="96" y="40" width="40.5" height="8.5" fill="rgb(217,217,217)"/><rect x="-8" y="48" width="40.5" height="8.5" fill="rgb(89,89,89)"/><rect x="32" y="48" width="8.5" height="8.5" fill="rgb(140,140,140)"/><rect x="40" y="48" width="8.5" height="8.5" fill="rgb(166,166,166)"/><rect x="48" y="48" width="88.5" height="8.5" fill="rgb(217,217,217)"/><rect x="-8" y="56" width="40.5" height="8.5" fill="rgb(89,89,89)"/><rect x="32" y="56" width="8.5" height="8.5" fill="rgb(140,140,140)"/><rect x="40" y="56" width="8.5" height="8.5" fill="rgb(166,166,166)"/><rect x="48" y="56" width="88.5" height="8.5" fill="rgb(217,217,217)"/></g>
<g id="T_SCc_p2" filter="url(#F_SCc)"><rect x="-8" y="-8" width="104.5" height="8.5" fill="rgb(69,69,69)"/><rect x="96" y="-8" width="16.5" height="8.5" fill="rgb(120,120,120)"/><rect x="112" y="-8" width="8.5" height="8.5" fill="rgb(196,196,196)"/><rect x="120" y="-8" width="16.5" height="8.5" fill="rgb(120,120,120)"/><rect x="-8" y="0" width="104.5" height="8.5" fill="rgb(69,69,69)"/><rect x="96" y="0" width="16.5" height="8.5" fill="rgb(120,120,120)"/><rect x="112" y="0" width="8.5" height="8.5" fill="rgb(196,196,196)"/><rect x="120" y="0" width="16.5" height="8.5" fill="rgb(120,120,120)"/><rect x="-8" y="8" width="96.5" height="8.5" fill="rgb(69,69,69)"/><rect x="88" y="8" width="8.5" height="8.5" fill="rgb(120,120,120)"/><rect x="96" y="8" width="40.5" height="8.5" fill="rgb(145,145,145)"/><rect x="-8" y="16" width="56.5" height="8.5" fill="rgb(69,69,69)"/><rect x="48" y="16" width="24.5" height="8.5" fill="rgb(94,94,94)"/><rect x="72" y="16" width="8.5" height="8.5" fill="rgb(69,69,69)"/><rect x="80" y="16" width="8.5" height="8.5" fill="rgb(94,94,94)"/><rect x="88" y="16" width="48.5" height="8.5" fill="rgb(145,145,145)"/><rect x="-8" y="24" width="48.5" height="8.5" fill="rgb(69,69,69)"/><rect x="40" y="24" width="8.5" height="8.5" fill="rgb(94,94,94)"/><rect x="48" y="24" width="8.5" height="8.5" fill="rgb(120,120,120)"/><rect x="56" y="24" width="16.5" height="8.5" fill="rgb(145,145,145)"/><rect x="72" y="24" width="16.5" height="8.5" fill="rgb(120,120,120)"/><rect x="88" y="24" width="8.5" height="8.5" fill="rgb(145,145,145)"/><rect x="96" y="24" width="8.5" height="8.5" fill="rgb(196,196,196)"/><rect x="104" y="24" width="32.5" height="8.5" fill="rgb(222,222,222)"/><rect x="-8" y="32" width="40.5" height="8.5" fill="rgb(69,69,69)"/><rect x="32" y="32" width="8.5" height="8.5" fill="rgb(94,94,94)"/><rect x="40" y="32" width="8.5" height="8.5" fill="rgb(120,120,120)"/><rect x="48" y="32" width="8.5" height="8.5" fill="rgb(145,145,145)"/><rect x="56" y="32" width="16.5" height="8.5" fill="rgb(196,196,196)"/><rect x="72" y="32" width="8.5" height="8.5" fill="rgb(171,171,171)"/><rect x="80" y="32" width="16.5" height="8.5" fill="rgb(145,145,145)"/><rect x="96" y="32" width="40.5" height="8.5" fill="rgb(222,222,222)"/><rect x="-8" y="40" width="40.5" height="8.5" fill="rgb(69,69,69)"/><rect x="32" y="40" width="8.5" height="8.5" fill="rgb(94,94,94)"/><rect x="40" y="40" width="8.5" height="8.5" fill="rgb(145,145,145)"/><rect x="48" y="40" width="8.5" height="8.5" fill="rgb(171,171,171)"/><rect x="56" y="40" width="8.5" height="8.5" fill="rgb(196,196,196)"/><rect x="64" y="40" width="8.5" height="8.5" fill="rgb(222,222,222)"/><rect x="72" y="40" width="8.5" height="8.5" fill="rgb(196,196,196)"/><rect x="80" y="40" width="16.5" height="8.5" fill="rgb(171,171,171)"/><rect x="96" y="40" width="40.5" height="8.5" fill="rgb(222,222,222)"/><rect x="-8" y="48" width="40.5" height="8.5" fill="rgb(94,94,94)"/><rect x="32" y="48" width="8.5" height="8.5" fill="rgb(145,145,145)"/><rect x="40" y="48" width="8.5" height="8.5" fill="rgb(171,171,171)"/><rect x="48" y="48" width="88.5" height="8.5" fill="rgb(222,222,222)"/><rect x="-8" y="56" width="40.5" height="8.5" fill="rgb(94,94,94)"/><rect x="32" y="56" width="8.5" height="8.5" fill="rgb(145,145,145)"/><rect x="40" y="56" width="8.5" height="8.5" fill="rgb(171,171,171)"/><rect x="48" y="56" width="88.5" height="8.5" fill="rgb(222,222,222)"/></g>
<filter id="F_CSc" x="-8" y="-8" width="140" height="70" filterUnits="userSpaceOnUse" color-interpolation-filters="sRGB"><feGaussianBlur in="SourceGraphic" stdDeviation="1.4" result="f"/><feTurbulence type="fractalNoise" baseFrequency="0.1 0.1" numOctaves="2" seed="52" result="t"/><feColorMatrix in="t" type="matrix" values="1 0 0 0 0  1 0 0 0 0  1 0 0 0 0  0 0 0 0 1" result="n"/><feComposite in="f" in2="n" operator="arithmetic" k1="0" k2="1" k3="0.35" k4="-0.175" result="m"/><feComponentTransfer in="m" result="c"><feFuncR type="discrete" tableValues="0.784 0.784 0.941 0.957 0.659 0.353 0.173 0.118 0.071 0.071"/><feFuncG type="discrete" tableValues="0.333 0.333 0.627 0.722 0.878 0.847 0.690 0.604 0.173 0.173"/><feFuncB type="discrete" tableValues="0.227 0.227 0.118 0.125 0.125 0.196 0.439 0.541 0.533 0.533"/></feComponentTransfer></filter>
<g id="T_CSc_m9" filter="url(#F_CSc)"><rect x="-8" y="-8" width="88.5" height="8.5" fill="rgb(0,0,0)"/><rect x="80" y="-8" width="8.5" height="8.5" fill="rgb(41,41,41)"/><rect x="88" y="-8" width="8.5" height="8.5" fill="rgb(92,92,92)"/><rect x="96" y="-8" width="8.5" height="8.5" fill="rgb(117,117,117)"/><rect x="104" y="-8" width="8.5" height="8.5" fill="rgb(168,168,168)"/><rect x="112" y="-8" width="24.5" height="8.5" fill="rgb(194,194,194)"/><rect x="-8" y="0" width="88.5" height="8.5" fill="rgb(0,0,0)"/><rect x="80" y="0" width="8.5" height="8.5" fill="rgb(41,41,41)"/><rect x="88" y="0" width="8.5" height="8.5" fill="rgb(92,92,92)"/><rect x="96" y="0" width="8.5" height="8.5" fill="rgb(117,117,117)"/><rect x="104" y="0" width="8.5" height="8.5" fill="rgb(168,168,168)"/><rect x="112" y="0" width="24.5" height="8.5" fill="rgb(194,194,194)"/><rect x="-8" y="8" width="56.5" height="8.5" fill="rgb(0,0,0)"/><rect x="48" y="8" width="24.5" height="8.5" fill="rgb(41,41,41)"/><rect x="72" y="8" width="8.5" height="8.5" fill="rgb(0,0,0)"/><rect x="80" y="8" width="8.5" height="8.5" fill="rgb(41,41,41)"/><rect x="88" y="8" width="8.5" height="8.5" fill="rgb(92,92,92)"/><rect x="96" y="8" width="8.5" height="8.5" fill="rgb(117,117,117)"/><rect x="104" y="8" width="8.5" height="8.5" fill="rgb(168,168,168)"/><rect x="112" y="8" width="24.5" height="8.5" fill="rgb(194,194,194)"/><rect x="-8" y="16" width="32.5" height="8.5" fill="rgb(0,0,0)"/><rect x="24" y="16" width="24.5" height="8.5" fill="rgb(41,41,41)"/><rect x="48" y="16" width="24.5" height="8.5" fill="rgb(117,117,117)"/><rect x="72" y="16" width="8.5" height="8.5" fill="rgb(41,41,41)"/><rect x="80" y="16" width="16.5" height="8.5" fill="rgb(92,92,92)"/><rect x="96" y="16" width="8.5" height="8.5" fill="rgb(117,117,117)"/><rect x="104" y="16" width="8.5" height="8.5" fill="rgb(168,168,168)"/><rect x="112" y="16" width="24.5" height="8.5" fill="rgb(194,194,194)"/><rect x="-8" y="24" width="24.5" height="8.5" fill="rgb(0,0,0)"/><rect x="16" y="24" width="24.5" height="8.5" fill="rgb(41,41,41)"/><rect x="40" y="24" width="56.5" height="8.5" fill="rgb(117,117,117)"/><rect x="96" y="24" width="16.5" height="8.5" fill="rgb(168,168,168)"/><rect x="112" y="24" width="24.5" height="8.5" fill="rgb(194,194,194)"/><rect x="-8" y="32" width="24.5" height="8.5" fill="rgb(0,0,0)"/><rect x="16" y="32" width="8.5" height="8.5" fill="rgb(66,66,66)"/><rect x="24" y="32" width="8.5" height="8.5" fill="rgb(41,41,41)"/><rect x="32" y="32" width="8.5" height="8.5" fill="rgb(66,66,66)"/><rect x="40" y="32" width="24.5" height="8.5" fill="rgb(117,117,117)"/><rect x="64" y="32" width="16.5" height="8.5" fill="rgb(168,168,168)"/><rect x="80" y="32" width="16.5" height="8.5" fill="rgb(117,117,117)"/><rect x="96" y="32" width="16.5" height="8.5" fill="rgb(168,168,168)"/><rect x="112" y="32" width="24.5" height="8.5" fill="rgb(194,194,194)"/><rect x="-8" y="40" width="16.5" height="8.5" fill="rgb(0,0,0)"/><rect x="8" y="40" width="24.5" height="8.5" fill="rgb(66,66,66)"/><rect x="32" y="40" width="16.5" height="8.5" fill="rgb(117,117,117)"/><rect x="48" y="40" width="48.5" height="8.5" fill="rgb(168,168,168)"/><rect x="96" y="40" width="40.5" height="8.5" fill="rgb(194,194,194)"/><rect x="-8" y="48" width="40.5" height="8.5" fill="rgb(66,66,66)"/><rect x="32" y="48" width="8.5" height="8.5" fill="rgb(117,117,117)"/><rect x="40" y="48" width="56.5" height="8.5" fill="rgb(168,168,168)"/><rect x="96" y="48" width="40.5" height="8.5" fill="rgb(194,194,194)"/><rect x="-8" y="56" width="40.5" height="8.5" fill="rgb(66,66,66)"/><rect x="32" y="56" width="8.5" height="8.5" fill="rgb(117,117,117)"/><rect x="40" y="56" width="56.5" height="8.5" fill="rgb(168,168,168)"/><rect x="96" y="56" width="40.5" height="8.5" fill="rgb(194,194,194)"/></g>
<g id="T_CSc_m6" filter="url(#F_CSc)"><rect x="-8" y="-8" width="88.5" height="8.5" fill="rgb(0,0,0)"/><rect x="80" y="-8" width="8.5" height="8.5" fill="rgb(48,48,48)"/><rect x="88" y="-8" width="8.5" height="8.5" fill="rgb(99,99,99)"/><rect x="96" y="-8" width="8.5" height="8.5" fill="rgb(125,125,125)"/><rect x="104" y="-8" width="8.5" height="8.5" fill="rgb(176,176,176)"/><rect x="112" y="-8" width="24.5" height="8.5" fill="rgb(201,201,201)"/><rect x="-8" y="0" width="88.5" height="8.5" fill="rgb(0,0,0)"/><rect x="80" y="0" width="8.5" height="8.5" fill="rgb(48,48,48)"/><rect x="88" y="0" width="8.5" height="8.5" fill="rgb(99,99,99)"/><rect x="96" y="0" width="8.5" height="8.5" fill="rgb(125,125,125)"/><rect x="104" y="0" width="8.5" height="8.5" fill="rgb(176,176,176)"/><rect x="112" y="0" width="24.5" height="8.5" fill="rgb(201,201,201)"/><rect x="-8" y="8" width="56.5" height="8.5" fill="rgb(0,0,0)"/><rect x="48" y="8" width="24.5" height="8.5" fill="rgb(48,48,48)"/><rect x="72" y="8" width="8.5" height="8.5" fill="rgb(0,0,0)"/><rect x="80" y="8" width="8.5" height="8.5" fill="rgb(48,48,48)"/><rect x="88" y="8" width="8.5" height="8.5" fill="rgb(99,99,99)"/><rect x="96" y="8" width="8.5" height="8.5" fill="rgb(125,125,125)"/><rect x="104" y="8" width="8.5" height="8.5" fill="rgb(176,176,176)"/><rect x="112" y="8" width="24.5" height="8.5" fill="rgb(201,201,201)"/><rect x="-8" y="16" width="32.5" height="8.5" fill="rgb(0,0,0)"/><rect x="24" y="16" width="24.5" height="8.5" fill="rgb(48,48,48)"/><rect x="48" y="16" width="24.5" height="8.5" fill="rgb(125,125,125)"/><rect x="72" y="16" width="8.5" height="8.5" fill="rgb(48,48,48)"/><rect x="80" y="16" width="16.5" height="8.5" fill="rgb(99,99,99)"/><rect x="96" y="16" width="8.5" height="8.5" fill="rgb(125,125,125)"/><rect x="104" y="16" width="8.5" height="8.5" fill="rgb(176,176,176)"/><rect x="112" y="16" width="24.5" height="8.5" fill="rgb(201,201,201)"/><rect x="-8" y="24" width="24.5" height="8.5" fill="rgb(0,0,0)"/><rect x="16" y="24" width="24.5" height="8.5" fill="rgb(48,48,48)"/><rect x="40" y="24" width="56.5" height="8.5" fill="rgb(125,125,125)"/><rect x="96" y="24" width="16.5" height="8.5" fill="rgb(176,176,176)"/><rect x="112" y="24" width="24.5" height="8.5" fill="rgb(201,201,201)"/><rect x="-8" y="32" width="24.5" height="8.5" fill="rgb(0,0,0)"/><rect x="16" y="32" width="8.5" height="8.5" fill="rgb(74,74,74)"/><rect x="24" y="32" width="8.5" height="8.5" fill="rgb(48,48,48)"/><rect x="32" y="32" width="8.5" height="8.5" fill="rgb(74,74,74)"/><rect x="40" y="32" width="24.5" height="8.5" fill="rgb(125,125,125)"/><rect x="64" y="32" width="16.5" height="8.5" fill="rgb(176,176,176)"/><rect x="80" y="32" width="16.5" height="8.5" fill="rgb(125,125,125)"/><rect x="96" y="32" width="16.5" height="8.5" fill="rgb(176,176,176)"/><rect x="112" y="32" width="24.5" height="8.5" fill="rgb(201,201,201)"/><rect x="-8" y="40" width="16.5" height="8.5" fill="rgb(0,0,0)"/><rect x="8" y="40" width="24.5" height="8.5" fill="rgb(74,74,74)"/><rect x="32" y="40" width="16.5" height="8.5" fill="rgb(125,125,125)"/><rect x="48" y="40" width="48.5" height="8.5" fill="rgb(176,176,176)"/><rect x="96" y="40" width="40.5" height="8.5" fill="rgb(201,201,201)"/><rect x="-8" y="48" width="40.5" height="8.5" fill="rgb(74,74,74)"/><rect x="32" y="48" width="8.5" height="8.5" fill="rgb(125,125,125)"/><rect x="40" y="48" width="56.5" height="8.5" fill="rgb(176,176,176)"/><rect x="96" y="48" width="40.5" height="8.5" fill="rgb(201,201,201)"/><rect x="-8" y="56" width="40.5" height="8.5" fill="rgb(74,74,74)"/><rect x="32" y="56" width="8.5" height="8.5" fill="rgb(125,125,125)"/><rect x="40" y="56" width="56.5" height="8.5" fill="rgb(176,176,176)"/><rect x="96" y="56" width="40.5" height="8.5" fill="rgb(201,201,201)"/></g>
<g id="T_CSc_m4" filter="url(#F_CSc)"><rect x="-8" y="-8" width="88.5" height="8.5" fill="rgb(3,3,3)"/><rect x="80" y="-8" width="8.5" height="8.5" fill="rgb(54,54,54)"/><rect x="88" y="-8" width="8.5" height="8.5" fill="rgb(105,105,105)"/><rect x="96" y="-8" width="8.5" height="8.5" fill="rgb(130,130,130)"/><rect x="104" y="-8" width="8.5" height="8.5" fill="rgb(181,181,181)"/><rect x="112" y="-8" width="24.5" height="8.5" fill="rgb(207,207,207)"/><rect x="-8" y="0" width="88.5" height="8.5" fill="rgb(3,3,3)"/><rect x="80" y="0" width="8.5" height="8.5" fill="rgb(54,54,54)"/><rect x="88" y="0" width="8.5" height="8.5" fill="rgb(105,105,105)"/><rect x="96" y="0" width="8.5" height="8.5" fill="rgb(130,130,130)"/><rect x="104" y="0" width="8.5" height="8.5" fill="rgb(181,181,181)"/><rect x="112" y="0" width="24.5" height="8.5" fill="rgb(207,207,207)"/><rect x="-8" y="8" width="56.5" height="8.5" fill="rgb(3,3,3)"/><rect x="48" y="8" width="24.5" height="8.5" fill="rgb(54,54,54)"/><rect x="72" y="8" width="8.5" height="8.5" fill="rgb(3,3,3)"/><rect x="80" y="8" width="8.5" height="8.5" fill="rgb(54,54,54)"/><rect x="88" y="8" width="8.5" height="8.5" fill="rgb(105,105,105)"/><rect x="96" y="8" width="8.5" height="8.5" fill="rgb(130,130,130)"/><rect x="104" y="8" width="8.5" height="8.5" fill="rgb(181,181,181)"/><rect x="112" y="8" width="24.5" height="8.5" fill="rgb(207,207,207)"/><rect x="-8" y="16" width="32.5" height="8.5" fill="rgb(3,3,3)"/><rect x="24" y="16" width="24.5" height="8.5" fill="rgb(54,54,54)"/><rect x="48" y="16" width="24.5" height="8.5" fill="rgb(130,130,130)"/><rect x="72" y="16" width="8.5" height="8.5" fill="rgb(54,54,54)"/><rect x="80" y="16" width="16.5" height="8.5" fill="rgb(105,105,105)"/><rect x="96" y="16" width="8.5" height="8.5" fill="rgb(130,130,130)"/><rect x="104" y="16" width="8.5" height="8.5" fill="rgb(181,181,181)"/><rect x="112" y="16" width="24.5" height="8.5" fill="rgb(207,207,207)"/><rect x="-8" y="24" width="24.5" height="8.5" fill="rgb(3,3,3)"/><rect x="16" y="24" width="24.5" height="8.5" fill="rgb(54,54,54)"/><rect x="40" y="24" width="56.5" height="8.5" fill="rgb(130,130,130)"/><rect x="96" y="24" width="16.5" height="8.5" fill="rgb(181,181,181)"/><rect x="112" y="24" width="24.5" height="8.5" fill="rgb(207,207,207)"/><rect x="-8" y="32" width="24.5" height="8.5" fill="rgb(3,3,3)"/><rect x="16" y="32" width="8.5" height="8.5" fill="rgb(79,79,79)"/><rect x="24" y="32" width="8.5" height="8.5" fill="rgb(54,54,54)"/><rect x="32" y="32" width="8.5" height="8.5" fill="rgb(79,79,79)"/><rect x="40" y="32" width="24.5" height="8.5" fill="rgb(130,130,130)"/><rect x="64" y="32" width="16.5" height="8.5" fill="rgb(181,181,181)"/><rect x="80" y="32" width="16.5" height="8.5" fill="rgb(130,130,130)"/><rect x="96" y="32" width="16.5" height="8.5" fill="rgb(181,181,181)"/><rect x="112" y="32" width="24.5" height="8.5" fill="rgb(207,207,207)"/><rect x="-8" y="40" width="16.5" height="8.5" fill="rgb(3,3,3)"/><rect x="8" y="40" width="24.5" height="8.5" fill="rgb(79,79,79)"/><rect x="32" y="40" width="16.5" height="8.5" fill="rgb(130,130,130)"/><rect x="48" y="40" width="48.5" height="8.5" fill="rgb(181,181,181)"/><rect x="96" y="40" width="40.5" height="8.5" fill="rgb(207,207,207)"/><rect x="-8" y="48" width="40.5" height="8.5" fill="rgb(79,79,79)"/><rect x="32" y="48" width="8.5" height="8.5" fill="rgb(130,130,130)"/><rect x="40" y="48" width="56.5" height="8.5" fill="rgb(181,181,181)"/><rect x="96" y="48" width="40.5" height="8.5" fill="rgb(207,207,207)"/><rect x="-8" y="56" width="40.5" height="8.5" fill="rgb(79,79,79)"/><rect x="32" y="56" width="8.5" height="8.5" fill="rgb(130,130,130)"/><rect x="40" y="56" width="56.5" height="8.5" fill="rgb(181,181,181)"/><rect x="96" y="56" width="40.5" height="8.5" fill="rgb(207,207,207)"/></g>
<g id="T_CSc" filter="url(#F_CSc)"><rect x="-8" y="-8" width="88.5" height="8.5" fill="rgb(13,13,13)"/><rect x="80" y="-8" width="8.5" height="8.5" fill="rgb(64,64,64)"/><rect x="88" y="-8" width="8.5" height="8.5" fill="rgb(115,115,115)"/><rect x="96" y="-8" width="8.5" height="8.5" fill="rgb(140,140,140)"/><rect x="104" y="-8" width="8.5" height="8.5" fill="rgb(191,191,191)"/><rect x="112" y="-8" width="24.5" height="8.5" fill="rgb(217,217,217)"/><rect x="-8" y="0" width="88.5" height="8.5" fill="rgb(13,13,13)"/><rect x="80" y="0" width="8.5" height="8.5" fill="rgb(64,64,64)"/><rect x="88" y="0" width="8.5" height="8.5" fill="rgb(115,115,115)"/><rect x="96" y="0" width="8.5" height="8.5" fill="rgb(140,140,140)"/><rect x="104" y="0" width="8.5" height="8.5" fill="rgb(191,191,191)"/><rect x="112" y="0" width="24.5" height="8.5" fill="rgb(217,217,217)"/><rect x="-8" y="8" width="56.5" height="8.5" fill="rgb(13,13,13)"/><rect x="48" y="8" width="24.5" height="8.5" fill="rgb(64,64,64)"/><rect x="72" y="8" width="8.5" height="8.5" fill="rgb(13,13,13)"/><rect x="80" y="8" width="8.5" height="8.5" fill="rgb(64,64,64)"/><rect x="88" y="8" width="8.5" height="8.5" fill="rgb(115,115,115)"/><rect x="96" y="8" width="8.5" height="8.5" fill="rgb(140,140,140)"/><rect x="104" y="8" width="8.5" height="8.5" fill="rgb(191,191,191)"/><rect x="112" y="8" width="24.5" height="8.5" fill="rgb(217,217,217)"/><rect x="-8" y="16" width="32.5" height="8.5" fill="rgb(13,13,13)"/><rect x="24" y="16" width="24.5" height="8.5" fill="rgb(64,64,64)"/><rect x="48" y="16" width="24.5" height="8.5" fill="rgb(140,140,140)"/><rect x="72" y="16" width="8.5" height="8.5" fill="rgb(64,64,64)"/><rect x="80" y="16" width="16.5" height="8.5" fill="rgb(115,115,115)"/><rect x="96" y="16" width="8.5" height="8.5" fill="rgb(140,140,140)"/><rect x="104" y="16" width="8.5" height="8.5" fill="rgb(191,191,191)"/><rect x="112" y="16" width="24.5" height="8.5" fill="rgb(217,217,217)"/><rect x="-8" y="24" width="24.5" height="8.5" fill="rgb(13,13,13)"/><rect x="16" y="24" width="24.5" height="8.5" fill="rgb(64,64,64)"/><rect x="40" y="24" width="56.5" height="8.5" fill="rgb(140,140,140)"/><rect x="96" y="24" width="16.5" height="8.5" fill="rgb(191,191,191)"/><rect x="112" y="24" width="24.5" height="8.5" fill="rgb(217,217,217)"/><rect x="-8" y="32" width="24.5" height="8.5" fill="rgb(13,13,13)"/><rect x="16" y="32" width="8.5" height="8.5" fill="rgb(89,89,89)"/><rect x="24" y="32" width="8.5" height="8.5" fill="rgb(64,64,64)"/><rect x="32" y="32" width="8.5" height="8.5" fill="rgb(89,89,89)"/><rect x="40" y="32" width="24.5" height="8.5" fill="rgb(140,140,140)"/><rect x="64" y="32" width="16.5" height="8.5" fill="rgb(191,191,191)"/><rect x="80" y="32" width="16.5" height="8.5" fill="rgb(140,140,140)"/><rect x="96" y="32" width="16.5" height="8.5" fill="rgb(191,191,191)"/><rect x="112" y="32" width="24.5" height="8.5" fill="rgb(217,217,217)"/><rect x="-8" y="40" width="16.5" height="8.5" fill="rgb(13,13,13)"/><rect x="8" y="40" width="24.5" height="8.5" fill="rgb(89,89,89)"/><rect x="32" y="40" width="16.5" height="8.5" fill="rgb(140,140,140)"/><rect x="48" y="40" width="48.5" height="8.5" fill="rgb(191,191,191)"/><rect x="96" y="40" width="40.5" height="8.5" fill="rgb(217,217,217)"/><rect x="-8" y="48" width="40.5" height="8.5" fill="rgb(89,89,89)"/><rect x="32" y="48" width="8.5" height="8.5" fill="rgb(140,140,140)"/><rect x="40" y="48" width="56.5" height="8.5" fill="rgb(191,191,191)"/><rect x="96" y="48" width="40.5" height="8.5" fill="rgb(217,217,217)"/><rect x="-8" y="56" width="40.5" height="8.5" fill="rgb(89,89,89)"/><rect x="32" y="56" width="8.5" height="8.5" fill="rgb(140,140,140)"/><rect x="40" y="56" width="56.5" height="8.5" fill="rgb(191,191,191)"/><rect x="96" y="56" width="40.5" height="8.5" fill="rgb(217,217,217)"/></g>
<filter id="F_HQc" x="-8" y="-8" width="140" height="70" filterUnits="userSpaceOnUse" color-interpolation-filters="sRGB"><feGaussianBlur in="SourceGraphic" stdDeviation="1.6" result="f"/><feTurbulence type="fractalNoise" baseFrequency="0.1 0.2" numOctaves="2" seed="59" result="t"/><feColorMatrix in="t" type="matrix" values="1 0 0 0 0  1 0 0 0 0  1 0 0 0 0  0 0 0 0 1" result="n"/><feComposite in="f" in2="n" operator="arithmetic" k1="0" k2="1" k3="2.0" k4="-1.000" result="m"/><feComponentTransfer in="m" result="c"><feFuncR type="table" tableValues="0.957 0.784 0.565 0.353 0.173 0.086"/><feFuncG type="table" tableValues="0.988 0.957 0.910 0.847 0.816 0.784"/><feFuncB type="table" tableValues="0.957 0.784 0.565 0.353 0.173 0.086"/></feComponentTransfer></filter>
<g id="T_HQc" filter="url(#F_HQc)"><rect x="-8" y="-8" width="40.5" height="8.5" fill="rgb(166,166,166)"/><rect x="32" y="-8" width="48.5" height="8.5" fill="rgb(191,191,191)"/><rect x="80" y="-8" width="56.5" height="8.5" fill="rgb(217,217,217)"/><rect x="-8" y="0" width="40.5" height="8.5" fill="rgb(166,166,166)"/><rect x="32" y="0" width="48.5" height="8.5" fill="rgb(191,191,191)"/><rect x="80" y="0" width="56.5" height="8.5" fill="rgb(217,217,217)"/><rect x="-8" y="8" width="24.5" height="8.5" fill="rgb(166,166,166)"/><rect x="16" y="8" width="48.5" height="8.5" fill="rgb(191,191,191)"/><rect x="64" y="8" width="72.5" height="8.5" fill="rgb(217,217,217)"/><rect x="-8" y="16" width="72.5" height="8.5" fill="rgb(191,191,191)"/><rect x="64" y="16" width="72.5" height="8.5" fill="rgb(217,217,217)"/><rect x="-8" y="24" width="64.5" height="8.5" fill="rgb(217,217,217)"/><rect x="56" y="24" width="8.5" height="8.5" fill="rgb(191,191,191)"/><rect x="64" y="24" width="72.5" height="8.5" fill="rgb(217,217,217)"/><rect x="-8" y="32" width="64.5" height="8.5" fill="rgb(217,217,217)"/><rect x="56" y="32" width="8.5" height="8.5" fill="rgb(191,191,191)"/><rect x="64" y="32" width="72.5" height="8.5" fill="rgb(217,217,217)"/><rect x="-8" y="40" width="56.5" height="8.5" fill="rgb(217,217,217)"/><rect x="48" y="40" width="16.5" height="8.5" fill="rgb(191,191,191)"/><rect x="64" y="40" width="8.5" height="8.5" fill="rgb(166,166,166)"/><rect x="72" y="40" width="64.5" height="8.5" fill="rgb(217,217,217)"/><rect x="-8" y="48" width="56.5" height="8.5" fill="rgb(217,217,217)"/><rect x="48" y="48" width="16.5" height="8.5" fill="rgb(191,191,191)"/><rect x="64" y="48" width="8.5" height="8.5" fill="rgb(166,166,166)"/><rect x="72" y="48" width="64.5" height="8.5" fill="rgb(217,217,217)"/><rect x="-8" y="56" width="56.5" height="8.5" fill="rgb(217,217,217)"/><rect x="48" y="56" width="16.5" height="8.5" fill="rgb(191,191,191)"/><rect x="64" y="56" width="8.5" height="8.5" fill="rgb(166,166,166)"/><rect x="72" y="56" width="64.5" height="8.5" fill="rgb(217,217,217)"/></g>
<filter id="F_VWYb" x="-8" y="-8" width="140" height="70" filterUnits="userSpaceOnUse" color-interpolation-filters="sRGB"><feGaussianBlur in="SourceGraphic" stdDeviation="2.2" result="f"/><feTurbulence type="fractalNoise" baseFrequency="0.3 0.3" numOctaves="2" seed="66" result="t"/><feColorMatrix in="t" type="matrix" values="1 0 0 0 0  1 0 0 0 0  1 0 0 0 0  0 0 0 0 1" result="n"/><feComposite in="f" in2="n" operator="arithmetic" k1="0" k2="1" k3="0.5" k4="-0.250" result="m"/><feComponentTransfer in="m" result="c"><feFuncR type="discrete" tableValues="0.969 0.616"/><feFuncG type="discrete" tableValues="0.600 0.612"/><feFuncB type="discrete" tableValues="0.612 0.953"/></feComponentTransfer></filter>
<g id="T_VWYb" filter="url(#F_VWYb)"><rect x="-8" y="-8" width="16.5" height="8.5" fill="rgb(64,64,64)"/><rect x="8" y="-8" width="8.5" height="8.5" fill="rgb(140,140,140)"/><rect x="16" y="-8" width="32.5" height="8.5" fill="rgb(217,217,217)"/><rect x="48" y="-8" width="8.5" height="8.5" fill="rgb(191,191,191)"/><rect x="56" y="-8" width="8.5" height="8.5" fill="rgb(140,140,140)"/><rect x="64" y="-8" width="72.5" height="8.5" fill="rgb(64,64,64)"/><rect x="-8" y="0" width="16.5" height="8.5" fill="rgb(64,64,64)"/><rect x="8" y="0" width="8.5" height="8.5" fill="rgb(140,140,140)"/><rect x="16" y="0" width="32.5" height="8.5" fill="rgb(217,217,217)"/><rect x="48" y="0" width="8.5" height="8.5" fill="rgb(191,191,191)"/><rect x="56" y="0" width="8.5" height="8.5" fill="rgb(140,140,140)"/><rect x="64" y="0" width="72.5" height="8.5" fill="rgb(64,64,64)"/><rect x="-8" y="8" width="16.5" height="8.5" fill="rgb(64,64,64)"/><rect x="8" y="8" width="8.5" height="8.5" fill="rgb(140,140,140)"/><rect x="16" y="8" width="32.5" height="8.5" fill="rgb(217,217,217)"/><rect x="48" y="8" width="8.5" height="8.5" fill="rgb(166,166,166)"/><rect x="56" y="8" width="40.5" height="8.5" fill="rgb(64,64,64)"/><rect x="96" y="8" width="8.5" height="8.5" fill="rgb(140,140,140)"/><rect x="104" y="8" width="32.5" height="8.5" fill="rgb(217,217,217)"/><rect x="-8" y="16" width="16.5" height="8.5" fill="rgb(64,64,64)"/><rect x="8" y="16" width="8.5" height="8.5" fill="rgb(89,89,89)"/><rect x="16" y="16" width="32.5" height="8.5" fill="rgb(140,140,140)"/><rect x="48" y="16" width="8.5" height="8.5" fill="rgb(89,89,89)"/><rect x="56" y="16" width="40.5" height="8.5" fill="rgb(64,64,64)"/><rect x="96" y="16" width="8.5" height="8.5" fill="rgb(166,166,166)"/><rect x="104" y="16" width="32.5" height="8.5" fill="rgb(217,217,217)"/><rect x="-8" y="24" width="16.5" height="8.5" fill="rgb(38,38,38)"/><rect x="8" y="24" width="88.5" height="8.5" fill="rgb(64,64,64)"/><rect x="96" y="24" width="8.5" height="8.5" fill="rgb(166,166,166)"/><rect x="104" y="24" width="32.5" height="8.5" fill="rgb(217,217,217)"/><rect x="-8" y="32" width="88.5" height="8.5" fill="rgb(38,38,38)"/><rect x="80" y="32" width="16.5" height="8.5" fill="rgb(64,64,64)"/><rect x="96" y="32" width="8.5" height="8.5" fill="rgb(140,140,140)"/><rect x="104" y="32" width="8.5" height="8.5" fill="rgb(191,191,191)"/><rect x="112" y="32" width="8.5" height="8.5" fill="rgb(166,166,166)"/><rect x="120" y="32" width="16.5" height="8.5" fill="rgb(191,191,191)"/><rect x="-8" y="40" width="144.5" height="8.5" fill="rgb(38,38,38)"/><rect x="-8" y="48" width="144.5" height="8.5" fill="rgb(38,38,38)"/><rect x="-8" y="56" width="144.5" height="8.5" fill="rgb(38,38,38)"/></g>
<filter id="F_VSCb" x="-8" y="-8" width="140" height="70" filterUnits="userSpaceOnUse" color-interpolation-filters="sRGB"><feGaussianBlur in="SourceGraphic" stdDeviation="2.2" result="f"/><feTurbulence type="fractalNoise" baseFrequency="0.3 0.3" numOctaves="2" seed="73" result="t"/><feColorMatrix in="t" type="matrix" values="1 0 0 0 0  1 0 0 0 0  1 0 0 0 0  0 0 0 0 1" result="n"/><feComposite in="f" in2="n" operator="arithmetic" k1="0" k2="1" k3="0.5" k4="-0.250" result="m"/><feComponentTransfer in="m" result="c"><feFuncR type="discrete" tableValues="0.969 0.616"/><feFuncG type="discrete" tableValues="0.600 0.612"/><feFuncB type="discrete" tableValues="0.612 0.953"/></feComponentTransfer></filter>
<g id="T_VSCb" filter="url(#F_VSCb)"><rect x="-8" y="-8" width="16.5" height="8.5" fill="rgb(64,64,64)"/><rect x="8" y="-8" width="8.5" height="8.5" fill="rgb(166,166,166)"/><rect x="16" y="-8" width="32.5" height="8.5" fill="rgb(217,217,217)"/><rect x="48" y="-8" width="8.5" height="8.5" fill="rgb(191,191,191)"/><rect x="56" y="-8" width="8.5" height="8.5" fill="rgb(89,89,89)"/><rect x="64" y="-8" width="72.5" height="8.5" fill="rgb(64,64,64)"/><rect x="-8" y="0" width="16.5" height="8.5" fill="rgb(64,64,64)"/><rect x="8" y="0" width="8.5" height="8.5" fill="rgb(166,166,166)"/><rect x="16" y="0" width="32.5" height="8.5" fill="rgb(217,217,217)"/><rect x="48" y="0" width="8.5" height="8.5" fill="rgb(191,191,191)"/><rect x="56" y="0" width="8.5" height="8.5" fill="rgb(89,89,89)"/><rect x="64" y="0" width="72.5" height="8.5" fill="rgb(64,64,64)"/><rect x="-8" y="8" width="16.5" height="8.5" fill="rgb(64,64,64)"/><rect x="8" y="8" width="8.5" height="8.5" fill="rgb(140,140,140)"/><rect x="16" y="8" width="32.5" height="8.5" fill="rgb(217,217,217)"/><rect x="48" y="8" width="8.5" height="8.5" fill="rgb(191,191,191)"/><rect x="56" y="8" width="8.5" height="8.5" fill="rgb(89,89,89)"/><rect x="64" y="8" width="24.5" height="8.5" fill="rgb(64,64,64)"/><rect x="88" y="8" width="8.5" height="8.5" fill="rgb(89,89,89)"/><rect x="96" y="8" width="8.5" height="8.5" fill="rgb(166,166,166)"/><rect x="104" y="8" width="32.5" height="8.5" fill="rgb(217,217,217)"/><rect x="-8" y="16" width="24.5" height="8.5" fill="rgb(64,64,64)"/><rect x="16" y="16" width="8.5" height="8.5" fill="rgb(140,140,140)"/><rect x="24" y="16" width="24.5" height="8.5" fill="rgb(166,166,166)"/><rect x="48" y="16" width="8.5" height="8.5" fill="rgb(115,115,115)"/><rect x="56" y="16" width="8.5" height="8.5" fill="rgb(89,89,89)"/><rect x="64" y="16" width="32.5" height="8.5" fill="rgb(64,64,64)"/><rect x="96" y="16" width="8.5" height="8.5" fill="rgb(191,191,191)"/><rect x="104" y="16" width="32.5" height="8.5" fill="rgb(217,217,217)"/><rect x="-8" y="24" width="104.5" height="8.5" fill="rgb(64,64,64)"/><rect x="96" y="24" width="8.5" height="8.5" fill="rgb(191,191,191)"/><rect x="104" y="24" width="32.5" height="8.5" fill="rgb(217,217,217)"/><rect x="-8" y="32" width="104.5" height="8.5" fill="rgb(64,64,64)"/><rect x="96" y="32" width="8.5" height="8.5" fill="rgb(166,166,166)"/><rect x="104" y="32" width="8.5" height="8.5" fill="rgb(217,217,217)"/><rect x="112" y="32" width="8.5" height="8.5" fill="rgb(191,191,191)"/><rect x="120" y="32" width="16.5" height="8.5" fill="rgb(217,217,217)"/><rect x="-8" y="40" width="104.5" height="8.5" fill="rgb(64,64,64)"/><rect x="96" y="40" width="8.5" height="8.5" fill="rgb(140,140,140)"/><rect x="104" y="40" width="8.5" height="8.5" fill="rgb(166,166,166)"/><rect x="112" y="40" width="24.5" height="8.5" fill="rgb(64,64,64)"/><rect x="-8" y="48" width="144.5" height="8.5" fill="rgb(64,64,64)"/><rect x="-8" y="56" width="144.5" height="8.5" fill="rgb(64,64,64)"/></g>
<filter id="F_VCSb" x="-8" y="-8" width="140" height="70" filterUnits="userSpaceOnUse" color-interpolation-filters="sRGB"><feGaussianBlur in="SourceGraphic" stdDeviation="2.2" result="f"/><feTurbulence type="fractalNoise" baseFrequency="0.5 0.5" numOctaves="2" seed="80" result="t"/><feColorMatrix in="t" type="matrix" values="1 0 0 0 0  1 0 0 0 0  1 0 0 0 0  0 0 0 0 1" result="n"/><feComposite in="f" in2="n" operator="arithmetic" k1="0" k2="1" k3="1.0" k4="-0.500" result="m"/><feComponentTransfer in="m" result="c"><feFuncR type="discrete" tableValues="0.969 0.616"/><feFuncG type="discrete" tableValues="0.600 0.612"/><feFuncB type="discrete" tableValues="0.612 0.953"/></feComponentTransfer></filter>
<g id="T_VCSb" filter="url(#F_VCSb)"><rect x="-8" y="-8" width="72.5" height="8.5" fill="rgb(191,191,191)"/><rect x="64" y="-8" width="24.5" height="8.5" fill="rgb(166,166,166)"/><rect x="88" y="-8" width="48.5" height="8.5" fill="rgb(191,191,191)"/><rect x="-8" y="0" width="72.5" height="8.5" fill="rgb(191,191,191)"/><rect x="64" y="0" width="24.5" height="8.5" fill="rgb(166,166,166)"/><rect x="88" y="0" width="48.5" height="8.5" fill="rgb(191,191,191)"/><rect x="-8" y="8" width="48.5" height="8.5" fill="rgb(191,191,191)"/><rect x="40" y="8" width="16.5" height="8.5" fill="rgb(166,166,166)"/><rect x="56" y="8" width="24.5" height="8.5" fill="rgb(140,140,140)"/><rect x="80" y="8" width="16.5" height="8.5" fill="rgb(166,166,166)"/><rect x="96" y="8" width="40.5" height="8.5" fill="rgb(191,191,191)"/><rect x="-8" y="16" width="48.5" height="8.5" fill="rgb(191,191,191)"/><rect x="40" y="16" width="8.5" height="8.5" fill="rgb(166,166,166)"/><rect x="48" y="16" width="8.5" height="8.5" fill="rgb(140,140,140)"/><rect x="56" y="16" width="8.5" height="8.5" fill="rgb(115,115,115)"/><rect x="64" y="16" width="24.5" height="8.5" fill="rgb(140,140,140)"/><rect x="88" y="16" width="8.5" height="8.5" fill="rgb(166,166,166)"/><rect x="96" y="16" width="16.5" height="8.5" fill="rgb(140,140,140)"/><rect x="112" y="16" width="8.5" height="8.5" fill="rgb(166,166,166)"/><rect x="120" y="16" width="16.5" height="8.5" fill="rgb(191,191,191)"/><rect x="-8" y="24" width="56.5" height="8.5" fill="rgb(191,191,191)"/><rect x="48" y="24" width="8.5" height="8.5" fill="rgb(166,166,166)"/><rect x="56" y="24" width="16.5" height="8.5" fill="rgb(140,140,140)"/><rect x="72" y="24" width="24.5" height="8.5" fill="rgb(166,166,166)"/><rect x="96" y="24" width="24.5" height="8.5" fill="rgb(140,140,140)"/><rect x="120" y="24" width="16.5" height="8.5" fill="rgb(191,191,191)"/><rect x="-8" y="32" width="64.5" height="8.5" fill="rgb(191,191,191)"/><rect x="56" y="32" width="48.5" height="8.5" fill="rgb(166,166,166)"/><rect x="104" y="32" width="8.5" height="8.5" fill="rgb(140,140,140)"/><rect x="112" y="32" width="8.5" height="8.5" fill="rgb(166,166,166)"/><rect x="120" y="32" width="16.5" height="8.5" fill="rgb(191,191,191)"/><rect x="-8" y="40" width="144.5" height="8.5" fill="rgb(191,191,191)"/><rect x="-8" y="48" width="144.5" height="8.5" fill="rgb(191,191,191)"/><rect x="-8" y="56" width="144.5" height="8.5" fill="rgb(191,191,191)"/></g>
<filter id="F_VHQb" x="-8" y="-8" width="140" height="70" filterUnits="userSpaceOnUse" color-interpolation-filters="sRGB"><feGaussianBlur in="SourceGraphic" stdDeviation="2.2" result="f"/><feTurbulence type="fractalNoise" baseFrequency="0.5 0.5" numOctaves="2" seed="87" result="t"/><feColorMatrix in="t" type="matrix" values="1 0 0 0 0  1 0 0 0 0  1 0 0 0 0  0 0 0 0 1" result="n"/><feComposite in="f" in2="n" operator="arithmetic" k1="0" k2="1" k3="1.0" k4="-0.500" result="m"/><feComponentTransfer in="m" result="c"><feFuncR type="discrete" tableValues="0.969 0.616"/><feFuncG type="discrete" tableValues="0.600 0.612"/><feFuncB type="discrete" tableValues="0.612 0.953"/></feComponentTransfer></filter>
<g id="T_VHQb" filter="url(#F_VHQb)"><rect x="-8" y="-8" width="64.5" height="8.5" fill="rgb(64,64,64)"/><rect x="56" y="-8" width="48.5" height="8.5" fill="rgb(89,89,89)"/><rect x="104" y="-8" width="32.5" height="8.5" fill="rgb(64,64,64)"/><rect x="-8" y="0" width="64.5" height="8.5" fill="rgb(64,64,64)"/><rect x="56" y="0" width="48.5" height="8.5" fill="rgb(89,89,89)"/><rect x="104" y="0" width="32.5" height="8.5" fill="rgb(64,64,64)"/><rect x="-8" y="8" width="48.5" height="8.5" fill="rgb(64,64,64)"/><rect x="40" y="8" width="16.5" height="8.5" fill="rgb(89,89,89)"/><rect x="56" y="8" width="40.5" height="8.5" fill="rgb(115,115,115)"/><rect x="96" y="8" width="24.5" height="8.5" fill="rgb(89,89,89)"/><rect x="120" y="8" width="16.5" height="8.5" fill="rgb(64,64,64)"/><rect x="-8" y="16" width="40.5" height="8.5" fill="rgb(64,64,64)"/><rect x="32" y="16" width="16.5" height="8.5" fill="rgb(89,89,89)"/><rect x="48" y="16" width="56.5" height="8.5" fill="rgb(115,115,115)"/><rect x="104" y="16" width="16.5" height="8.5" fill="rgb(89,89,89)"/><rect x="120" y="16" width="16.5" height="8.5" fill="rgb(64,64,64)"/><rect x="-8" y="24" width="48.5" height="8.5" fill="rgb(64,64,64)"/><rect x="40" y="24" width="16.5" height="8.5" fill="rgb(89,89,89)"/><rect x="56" y="24" width="40.5" height="8.5" fill="rgb(115,115,115)"/><rect x="96" y="24" width="24.5" height="8.5" fill="rgb(89,89,89)"/><rect x="120" y="24" width="16.5" height="8.5" fill="rgb(64,64,64)"/><rect x="-8" y="32" width="56.5" height="8.5" fill="rgb(64,64,64)"/><rect x="48" y="32" width="8.5" height="8.5" fill="rgb(89,89,89)"/><rect x="56" y="32" width="16.5" height="8.5" fill="rgb(115,115,115)"/><rect x="72" y="32" width="32.5" height="8.5" fill="rgb(89,89,89)"/><rect x="104" y="32" width="32.5" height="8.5" fill="rgb(64,64,64)"/><rect x="-8" y="40" width="56.5" height="8.5" fill="rgb(64,64,64)"/><rect x="48" y="40" width="8.5" height="8.5" fill="rgb(89,89,89)"/><rect x="56" y="40" width="16.5" height="8.5" fill="rgb(115,115,115)"/><rect x="72" y="40" width="8.5" height="8.5" fill="rgb(89,89,89)"/><rect x="80" y="40" width="56.5" height="8.5" fill="rgb(64,64,64)"/><rect x="-8" y="48" width="56.5" height="8.5" fill="rgb(64,64,64)"/><rect x="48" y="48" width="8.5" height="8.5" fill="rgb(89,89,89)"/><rect x="56" y="48" width="16.5" height="8.5" fill="rgb(115,115,115)"/><rect x="72" y="48" width="8.5" height="8.5" fill="rgb(89,89,89)"/><rect x="80" y="48" width="56.5" height="8.5" fill="rgb(64,64,64)"/><rect x="-8" y="56" width="56.5" height="8.5" fill="rgb(64,64,64)"/><rect x="48" y="56" width="8.5" height="8.5" fill="rgb(89,89,89)"/><rect x="56" y="56" width="16.5" height="8.5" fill="rgb(115,115,115)"/><rect x="72" y="56" width="8.5" height="8.5" fill="rgb(89,89,89)"/><rect x="80" y="56" width="56.5" height="8.5" fill="rgb(64,64,64)"/></g>
<filter id="F_VWYc" x="-8" y="-8" width="140" height="70" filterUnits="userSpaceOnUse" color-interpolation-filters="sRGB"><feGaussianBlur in="SourceGraphic" stdDeviation="1.8" result="f"/><feTurbulence type="fractalNoise" baseFrequency="0.2 0.2" numOctaves="2" seed="94" result="t"/><feColorMatrix in="t" type="matrix" values="1 0 0 0 0  1 0 0 0 0  1 0 0 0 0  0 0 0 0 1" result="n"/><feComposite in="f" in2="n" operator="arithmetic" k1="0" k2="1" k3="0.6" k4="-0.300" result="m"/><feComponentTransfer in="m" result="c"><feFuncR type="discrete" tableValues="0.969 0.616"/><feFuncG type="discrete" tableValues="0.600 0.612"/><feFuncB type="discrete" tableValues="0.612 0.953"/></feComponentTransfer></filter>
<g id="T_VWYc" filter="url(#F_VWYc)"><rect x="-8" y="-8" width="16.5" height="8.5" fill="rgb(64,64,64)"/><rect x="8" y="-8" width="8.5" height="8.5" fill="rgb(140,140,140)"/><rect x="16" y="-8" width="32.5" height="8.5" fill="rgb(217,217,217)"/><rect x="48" y="-8" width="88.5" height="8.5" fill="rgb(64,64,64)"/><rect x="-8" y="0" width="16.5" height="8.5" fill="rgb(64,64,64)"/><rect x="8" y="0" width="8.5" height="8.5" fill="rgb(140,140,140)"/><rect x="16" y="0" width="32.5" height="8.5" fill="rgb(217,217,217)"/><rect x="48" y="0" width="88.5" height="8.5" fill="rgb(64,64,64)"/><rect x="-8" y="8" width="16.5" height="8.5" fill="rgb(64,64,64)"/><rect x="8" y="8" width="8.5" height="8.5" fill="rgb(166,166,166)"/><rect x="16" y="8" width="32.5" height="8.5" fill="rgb(217,217,217)"/><rect x="48" y="8" width="8.5" height="8.5" fill="rgb(166,166,166)"/><rect x="56" y="8" width="8.5" height="8.5" fill="rgb(115,115,115)"/><rect x="64" y="8" width="32.5" height="8.5" fill="rgb(64,64,64)"/><rect x="96" y="8" width="8.5" height="8.5" fill="rgb(140,140,140)"/><rect x="104" y="8" width="32.5" height="8.5" fill="rgb(217,217,217)"/><rect x="-8" y="16" width="24.5" height="8.5" fill="rgb(191,191,191)"/><rect x="16" y="16" width="32.5" height="8.5" fill="rgb(166,166,166)"/><rect x="48" y="16" width="8.5" height="8.5" fill="rgb(140,140,140)"/><rect x="56" y="16" width="8.5" height="8.5" fill="rgb(115,115,115)"/><rect x="64" y="16" width="32.5" height="8.5" fill="rgb(64,64,64)"/><rect x="96" y="16" width="8.5" height="8.5" fill="rgb(166,166,166)"/><rect x="104" y="16" width="32.5" height="8.5" fill="rgb(217,217,217)"/><rect x="-8" y="24" width="24.5" height="8.5" fill="rgb(89,89,89)"/><rect x="16" y="24" width="80.5" height="8.5" fill="rgb(64,64,64)"/><rect x="96" y="24" width="8.5" height="8.5" fill="rgb(166,166,166)"/><rect x="104" y="24" width="32.5" height="8.5" fill="rgb(217,217,217)"/><rect x="-8" y="32" width="104.5" height="8.5" fill="rgb(64,64,64)"/><rect x="96" y="32" width="8.5" height="8.5" fill="rgb(140,140,140)"/><rect x="104" y="32" width="8.5" height="8.5" fill="rgb(191,191,191)"/><rect x="112" y="32" width="8.5" height="8.5" fill="rgb(217,217,217)"/><rect x="120" y="32" width="16.5" height="8.5" fill="rgb(191,191,191)"/><rect x="-8" y="40" width="144.5" height="8.5" fill="rgb(64,64,64)"/><rect x="-8" y="48" width="144.5" height="8.5" fill="rgb(64,64,64)"/><rect x="-8" y="56" width="144.5" height="8.5" fill="rgb(64,64,64)"/></g>
<filter id="F_VSCc" x="-8" y="-8" width="140" height="70" filterUnits="userSpaceOnUse" color-interpolation-filters="sRGB"><feGaussianBlur in="SourceGraphic" stdDeviation="1.8" result="f"/><feTurbulence type="fractalNoise" baseFrequency="0.2 0.2" numOctaves="2" seed="101" result="t"/><feColorMatrix in="t" type="matrix" values="1 0 0 0 0  1 0 0 0 0  1 0 0 0 0  0 0 0 0 1" result="n"/><feComposite in="f" in2="n" operator="arithmetic" k1="0" k2="1" k3="0.6" k4="-0.300" result="m"/><feComponentTransfer in="m" result="c"><feFuncR type="discrete" tableValues="0.969 0.616"/><feFuncG type="discrete" tableValues="0.600 0.612"/><feFuncB type="discrete" tableValues="0.612 0.953"/></feComponentTransfer></filter>
<g id="T_VSCc" filter="url(#F_VSCc)"><rect x="-8" y="-8" width="16.5" height="8.5" fill="rgb(64,64,64)"/><rect x="8" y="-8" width="8.5" height="8.5" fill="rgb(166,166,166)"/><rect x="16" y="-8" width="48.5" height="8.5" fill="rgb(217,217,217)"/><rect x="64" y="-8" width="8.5" height="8.5" fill="rgb(166,166,166)"/><rect x="72" y="-8" width="24.5" height="8.5" fill="rgb(64,64,64)"/><rect x="96" y="-8" width="8.5" height="8.5" fill="rgb(140,140,140)"/><rect x="104" y="-8" width="8.5" height="8.5" fill="rgb(166,166,166)"/><rect x="112" y="-8" width="24.5" height="8.5" fill="rgb(217,217,217)"/><rect x="-8" y="0" width="16.5" height="8.5" fill="rgb(64,64,64)"/><rect x="8" y="0" width="8.5" height="8.5" fill="rgb(166,166,166)"/><rect x="16" y="0" width="48.5" height="8.5" fill="rgb(217,217,217)"/><rect x="64" y="0" width="8.5" height="8.5" fill="rgb(166,166,166)"/><rect x="72" y="0" width="24.5" height="8.5" fill="rgb(64,64,64)"/><rect x="96" y="0" width="8.5" height="8.5" fill="rgb(140,140,140)"/><rect x="104" y="0" width="8.5" height="8.5" fill="rgb(166,166,166)"/><rect x="112" y="0" width="24.5" height="8.5" fill="rgb(217,217,217)"/><rect x="-8" y="8" width="16.5" height="8.5" fill="rgb(64,64,64)"/><rect x="8" y="8" width="8.5" height="8.5" fill="rgb(140,140,140)"/><rect x="16" y="8" width="48.5" height="8.5" fill="rgb(217,217,217)"/><rect x="64" y="8" width="8.5" height="8.5" fill="rgb(191,191,191)"/><rect x="72" y="8" width="16.5" height="8.5" fill="rgb(166,166,166)"/><rect x="88" y="8" width="8.5" height="8.5" fill="rgb(89,89,89)"/><rect x="96" y="8" width="8.5" height="8.5" fill="rgb(140,140,140)"/><rect x="104" y="8" width="32.5" height="8.5" fill="rgb(217,217,217)"/><rect x="-8" y="16" width="24.5" height="8.5" fill="rgb(64,64,64)"/><rect x="16" y="16" width="8.5" height="8.5" fill="rgb(115,115,115)"/><rect x="24" y="16" width="32.5" height="8.5" fill="rgb(191,191,191)"/><rect x="56" y="16" width="8.5" height="8.5" fill="rgb(166,166,166)"/><rect x="64" y="16" width="8.5" height="8.5" fill="rgb(140,140,140)"/><rect x="72" y="16" width="24.5" height="8.5" fill="rgb(64,64,64)"/><rect x="96" y="16" width="8.5" height="8.5" fill="rgb(166,166,166)"/><rect x="104" y="16" width="32.5" height="8.5" fill="rgb(217,217,217)"/><rect x="-8" y="24" width="104.5" height="8.5" fill="rgb(64,64,64)"/><rect x="96" y="24" width="8.5" height="8.5" fill="rgb(166,166,166)"/><rect x="104" y="24" width="32.5" height="8.5" fill="rgb(217,217,217)"/><rect x="-8" y="32" width="104.5" height="8.5" fill="rgb(64,64,64)"/><rect x="96" y="32" width="8.5" height="8.5" fill="rgb(166,166,166)"/><rect x="104" y="32" width="8.5" height="8.5" fill="rgb(191,191,191)"/><rect x="112" y="32" width="24.5" height="8.5" fill="rgb(217,217,217)"/><rect x="-8" y="40" width="104.5" height="8.5" fill="rgb(64,64,64)"/><rect x="96" y="40" width="8.5" height="8.5" fill="rgb(140,140,140)"/><rect x="104" y="40" width="8.5" height="8.5" fill="rgb(166,166,166)"/><rect x="112" y="40" width="24.5" height="8.5" fill="rgb(64,64,64)"/><rect x="-8" y="48" width="144.5" height="8.5" fill="rgb(64,64,64)"/><rect x="-8" y="56" width="144.5" height="8.5" fill="rgb(64,64,64)"/></g>
<filter id="F_VCSc" x="-8" y="-8" width="140" height="70" filterUnits="userSpaceOnUse" color-interpolation-filters="sRGB"><feGaussianBlur in="SourceGraphic" stdDeviation="1.8" result="f"/><feTurbulence type="fractalNoise" baseFrequency="0.2 0.2" numOctaves="2" seed="108" result="t"/><feColorMatrix in="t" type="matrix" values="1 0 0 0 0  1 0 0 0 0  1 0 0 0 0  0 0 0 0 1" result="n"/><feComposite in="f" in2="n" operator="arithmetic" k1="0" k2="1" k3="0.6" k4="-0.300" result="m"/><feComponentTransfer in="m" result="c"><feFuncR type="discrete" tableValues="0.969 0.616"/><feFuncG type="discrete" tableValues="0.600 0.612"/><feFuncB type="discrete" tableValues="0.612 0.953"/></feComponentTransfer></filter>
<g id="T_VCSc" filter="url(#F_VCSc)"><rect x="-8" y="-8" width="144.5" height="8.5" fill="rgb(191,191,191)"/><rect x="-8" y="0" width="144.5" height="8.5" fill="rgb(191,191,191)"/><rect x="-8" y="8" width="48.5" height="8.5" fill="rgb(191,191,191)"/><rect x="40" y="8" width="8.5" height="8.5" fill="rgb(115,115,115)"/><rect x="48" y="8" width="8.5" height="8.5" fill="rgb(191,191,191)"/><rect x="56" y="8" width="8.5" height="8.5" fill="rgb(115,115,115)"/><rect x="64" y="8" width="72.5" height="8.5" fill="rgb(191,191,191)"/><rect x="-8" y="16" width="48.5" height="8.5" fill="rgb(191,191,191)"/><rect x="40" y="16" width="24.5" height="8.5" fill="rgb(115,115,115)"/><rect x="64" y="16" width="72.5" height="8.5" fill="rgb(191,191,191)"/><rect x="-8" y="24" width="96.5" height="8.5" fill="rgb(191,191,191)"/><rect x="88" y="24" width="8.5" height="8.5" fill="rgb(140,140,140)"/><rect x="96" y="24" width="8.5" height="8.5" fill="rgb(115,115,115)"/><rect x="104" y="24" width="32.5" height="8.5" fill="rgb(191,191,191)"/><rect x="-8" y="32" width="96.5" height="8.5" fill="rgb(191,191,191)"/><rect x="88" y="32" width="8.5" height="8.5" fill="rgb(115,115,115)"/><rect x="96" y="32" width="8.5" height="8.5" fill="rgb(140,140,140)"/><rect x="104" y="32" width="32.5" height="8.5" fill="rgb(191,191,191)"/><rect x="-8" y="40" width="144.5" height="8.5" fill="rgb(191,191,191)"/><rect x="-8" y="48" width="144.5" height="8.5" fill="rgb(191,191,191)"/><rect x="-8" y="56" width="144.5" height="8.5" fill="rgb(191,191,191)"/></g>
<filter id="F_VHQc" x="-8" y="-8" width="140" height="70" filterUnits="userSpaceOnUse" color-interpolation-filters="sRGB"><feGaussianBlur in="SourceGraphic" stdDeviation="1.5" result="f"/><feTurbulence type="fractalNoise" baseFrequency="0.22 0.22" numOctaves="2" seed="115" result="t"/><feColorMatrix in="t" type="matrix" values="1 0 0 0 0  1 0 0 0 0  1 0 0 0 0  0 0 0 0 1" result="n"/><feComposite in="f" in2="n" operator="arithmetic" k1="0" k2="1" k3="1.2" k4="-0.600" result="m"/><feComponentTransfer in="m" result="c"><feFuncR type="discrete" tableValues="0.969 0.616"/><feFuncG type="discrete" tableValues="0.600 0.612"/><feFuncB type="discrete" tableValues="0.612 0.953"/></feComponentTransfer></filter>
<g id="T_VHQc" filter="url(#F_VHQc)"><rect x="-8" y="-8" width="144.5" height="8.5" fill="rgb(166,166,166)"/><rect x="-8" y="0" width="144.5" height="8.5" fill="rgb(166,166,166)"/><rect x="-8" y="8" width="16.5" height="8.5" fill="rgb(140,140,140)"/><rect x="8" y="8" width="8.5" height="8.5" fill="rgb(115,115,115)"/><rect x="16" y="8" width="32.5" height="8.5" fill="rgb(140,140,140)"/><rect x="48" y="8" width="48.5" height="8.5" fill="rgb(166,166,166)"/><rect x="96" y="8" width="16.5" height="8.5" fill="rgb(140,140,140)"/><rect x="112" y="8" width="8.5" height="8.5" fill="rgb(115,115,115)"/><rect x="120" y="8" width="16.5" height="8.5" fill="rgb(140,140,140)"/><rect x="-8" y="16" width="24.5" height="8.5" fill="rgb(115,115,115)"/><rect x="16" y="16" width="8.5" height="8.5" fill="rgb(140,140,140)"/><rect x="24" y="16" width="16.5" height="8.5" fill="rgb(115,115,115)"/><rect x="40" y="16" width="24.5" height="8.5" fill="rgb(140,140,140)"/><rect x="64" y="16" width="24.5" height="8.5" fill="rgb(166,166,166)"/><rect x="88" y="16" width="16.5" height="8.5" fill="rgb(140,140,140)"/><rect x="104" y="16" width="16.5" height="8.5" fill="rgb(115,115,115)"/><rect x="120" y="16" width="16.5" height="8.5" fill="rgb(140,140,140)"/><rect x="-8" y="24" width="24.5" height="8.5" fill="rgb(115,115,115)"/><rect x="16" y="24" width="16.5" height="8.5" fill="rgb(140,140,140)"/><rect x="32" y="24" width="8.5" height="8.5" fill="rgb(115,115,115)"/><rect x="40" y="24" width="24.5" height="8.5" fill="rgb(140,140,140)"/><rect x="64" y="24" width="32.5" height="8.5" fill="rgb(166,166,166)"/><rect x="96" y="24" width="16.5" height="8.5" fill="rgb(140,140,140)"/><rect x="112" y="24" width="8.5" height="8.5" fill="rgb(115,115,115)"/><rect x="120" y="24" width="16.5" height="8.5" fill="rgb(140,140,140)"/><rect x="-8" y="32" width="80.5" height="8.5" fill="rgb(140,140,140)"/><rect x="72" y="32" width="32.5" height="8.5" fill="rgb(166,166,166)"/><rect x="104" y="32" width="16.5" height="8.5" fill="rgb(140,140,140)"/><rect x="120" y="32" width="16.5" height="8.5" fill="rgb(166,166,166)"/><rect x="-8" y="40" width="64.5" height="8.5" fill="rgb(140,140,140)"/><rect x="56" y="40" width="8.5" height="8.5" fill="rgb(115,115,115)"/><rect x="64" y="40" width="16.5" height="8.5" fill="rgb(140,140,140)"/><rect x="80" y="40" width="56.5" height="8.5" fill="rgb(166,166,166)"/><rect x="-8" y="48" width="56.5" height="8.5" fill="rgb(166,166,166)"/><rect x="48" y="48" width="8.5" height="8.5" fill="rgb(140,140,140)"/><rect x="56" y="48" width="8.5" height="8.5" fill="rgb(115,115,115)"/><rect x="64" y="48" width="8.5" height="8.5" fill="rgb(140,140,140)"/><rect x="72" y="48" width="64.5" height="8.5" fill="rgb(166,166,166)"/><rect x="-8" y="56" width="56.5" height="8.5" fill="rgb(166,166,166)"/><rect x="48" y="56" width="8.5" height="8.5" fill="rgb(140,140,140)"/><rect x="56" y="56" width="8.5" height="8.5" fill="rgb(115,115,115)"/><rect x="64" y="56" width="8.5" height="8.5" fill="rgb(140,140,140)"/><rect x="72" y="56" width="64.5" height="8.5" fill="rgb(166,166,166)"/></g>
<linearGradient id="gWY" x1="0" y1="0" x2="0" y2="1"><stop offset="0" stop-color="#1a2ea6"/><stop offset="0.45" stop-color="#3a78de"/><stop offset="1" stop-color="#b4e6f8"/></linearGradient>
<linearGradient id="gSC" x1="0" y1="0" x2="0" y2="1"><stop offset="0" stop-color="#861a08"/><stop offset="0.35" stop-color="#c8601a"/><stop offset="0.7" stop-color="#f2b440"/><stop offset="1" stop-color="#fff8a6"/></linearGradient>
<linearGradient id="gCS" x1="0" y1="0" x2="0" y2="1"><stop offset="0" stop-color="#1c5898"/><stop offset="0.22" stop-color="#1c9684"/><stop offset="0.42" stop-color="#34c244"/><stop offset="0.6" stop-color="#eee020"/><stop offset="0.8" stop-color="#f0901e"/><stop offset="1" stop-color="#de5a30"/></linearGradient>
<linearGradient id="gHQ" x1="0" y1="0" x2="0" y2="1"><stop offset="0" stop-color="#3ed03e"/><stop offset="1" stop-color="#f4fff4"/></linearGradient>
</defs>
<rect width="550" height="729" fill="#fff"/>
<rect x="32.4" y="16.4" width="106.6" height="85.80000000000001" fill="none" stroke="#8a8a8a" stroke-width="0.8"/>
<rect x="35" y="50.2" width="16.8" height="52.0" fill="#0c9df6" stroke="#0c9df6" stroke-width="0.6"/>
<rect x="56.35" y="27.3" width="16.8" height="74.9" fill="#0c9df6" stroke="#0c9df6" stroke-width="0.6"/>
<rect x="77.7" y="45.1" width="16.8" height="57.1" fill="#0c9df6" stroke="#0c9df6" stroke-width="0.6"/>
<rect x="99.05" y="65.3" width="16.8" height="36.9" fill="#0c9df6" stroke="#0c9df6" stroke-width="0.6"/>
<rect x="120.4" y="44.0" width="16.8" height="58.2" fill="#0c9df6" stroke="#0c9df6" stroke-width="0.6"/>
<line x1="30.799999999999997" y1="102.2" x2="32.4" y2="102.2" stroke="#777" stroke-width="0.6"/>
<text x="30.0" y="105.3" text-anchor="end" font-size="9.3" fill="#111" stroke="#111" stroke-width="0.12">0</text>
<line x1="30.799999999999997" y1="83.1" x2="32.4" y2="83.1" stroke="#777" stroke-width="0.6"/>
<text x="30.0" y="86.2" text-anchor="end" font-size="9.3" fill="#111" stroke="#111" stroke-width="0.12">50</text>
<line x1="30.799999999999997" y1="64.0" x2="32.4" y2="64.0" stroke="#777" stroke-width="0.6"/>
<text x="30.0" y="67.1" text-anchor="end" font-size="9.3" fill="#111" stroke="#111" stroke-width="0.12">100</text>
<line x1="30.799999999999997" y1="44.9" x2="32.4" y2="44.9" stroke="#777" stroke-width="0.6"/>
<text x="30.0" y="48.0" text-anchor="end" font-size="9.3" fill="#111" stroke="#111" stroke-width="0.12">150</text>
<line x1="30.799999999999997" y1="25.8" x2="32.4" y2="25.8" stroke="#777" stroke-width="0.6"/>
<text x="30.0" y="28.9" text-anchor="end" font-size="9.3" fill="#111" stroke="#111" stroke-width="0.12">200</text>
<text x="43.4" y="111.7" text-anchor="middle" font-size="9.3" fill="#111" stroke="#111" stroke-width="0.12">2000</text>
<text x="64.8" y="111.7" text-anchor="middle" font-size="9.3" fill="#111" stroke="#111" stroke-width="0.12">2005</text>
<text x="86.1" y="111.7" text-anchor="middle" font-size="9.3" fill="#111" stroke="#111" stroke-width="0.12">2010</text>
<text x="107.5" y="111.7" text-anchor="middle" font-size="9.3" fill="#111" stroke="#111" stroke-width="0.12">2015</text>
<text x="128.8" y="111.7" text-anchor="middle" font-size="9.3" fill="#111" stroke="#111" stroke-width="0.12">2020</text>
<text transform="translate(14.0,59.0) rotate(-90)" text-anchor="middle" font-size="9.8" font-weight="bold" fill="#111">WY (mm)</text>
<rect x="167.6" y="20.4" width="102.4" height="83.1" fill="none" stroke="#8a8a8a" stroke-width="0.8"/>
<rect x="169.4" y="47.9" width="16.4" height="55.6" fill="#f0e996" stroke="#b8b27a" stroke-width="0.6"/>
<rect x="190.1" y="32.3" width="16.4" height="71.2" fill="#f0e996" stroke="#b8b27a" stroke-width="0.6"/>
<rect x="210.6" y="40.3" width="16.4" height="63.2" fill="#f0e996" stroke="#b8b27a" stroke-width="0.6"/>
<rect x="231.2" y="54.4" width="16.4" height="49.1" fill="#f0e996" stroke="#b8b27a" stroke-width="0.6"/>
<rect x="251.6" y="39.5" width="16.4" height="64.0" fill="#f0e996" stroke="#b8b27a" stroke-width="0.6"/>
<line x1="166.0" y1="103.5" x2="167.6" y2="103.5" stroke="#777" stroke-width="0.6"/>
<text x="165.2" y="106.6" text-anchor="end" font-size="9.3" fill="#111" stroke="#111" stroke-width="0.12">0</text>
<line x1="166.0" y1="75.8" x2="167.6" y2="75.8" stroke="#777" stroke-width="0.6"/>
<text x="165.2" y="78.9" text-anchor="end" font-size="9.3" fill="#111" stroke="#111" stroke-width="0.12">5</text>
<line x1="166.0" y1="48.1" x2="167.6" y2="48.1" stroke="#777" stroke-width="0.6"/>
<text x="165.2" y="51.2" text-anchor="end" font-size="9.3" fill="#111" stroke="#111" stroke-width="0.12">10</text>
<line x1="166.0" y1="20.4" x2="167.6" y2="20.4" stroke="#777" stroke-width="0.6"/>
<text x="165.2" y="23.5" text-anchor="end" font-size="9.3" fill="#111" stroke="#111" stroke-width="0.12">15</text>
<text x="177.6" y="111.7" text-anchor="middle" font-size="9.3" fill="#111" stroke="#111" stroke-width="0.12">2000</text>
<text x="198.3" y="111.7" text-anchor="middle" font-size="9.3" fill="#111" stroke="#111" stroke-width="0.12">2005</text>
<text x="218.8" y="111.7" text-anchor="middle" font-size="9.3" fill="#111" stroke="#111" stroke-width="0.12">2010</text>
<text x="239.4" y="111.7" text-anchor="middle" font-size="9.3" fill="#111" stroke="#111" stroke-width="0.12">2015</text>
<text x="259.8" y="111.7" text-anchor="middle" font-size="9.3" fill="#111" stroke="#111" stroke-width="0.12">2020</text>
<text transform="translate(153.8,62.0) rotate(-90)" text-anchor="middle" font-size="9.8" font-weight="bold" fill="#111">SC (t)</text>
<rect x="304.4" y="19" width="106.0" height="84.3" fill="none" stroke="#8a8a8a" stroke-width="0.8"/>
<rect x="307.4" y="41.0" width="16.4" height="62.3" fill="#045e3e" stroke="#045e3e" stroke-width="0.6"/>
<rect x="328.1" y="37.1" width="16.4" height="66.2" fill="#045e3e" stroke="#045e3e" stroke-width="0.6"/>
<rect x="348.9" y="25.8" width="16.4" height="77.5" fill="#045e3e" stroke="#045e3e" stroke-width="0.6"/>
<rect x="369.7" y="39.8" width="16.4" height="63.5" fill="#045e3e" stroke="#045e3e" stroke-width="0.6"/>
<rect x="390.8" y="29.2" width="16.4" height="74.1" fill="#045e3e" stroke="#045e3e" stroke-width="0.6"/>
<line x1="302.79999999999995" y1="103.3" x2="304.4" y2="103.3" stroke="#777" stroke-width="0.6"/>
<text x="302.0" y="106.4" text-anchor="end" font-size="9.3" fill="#111" stroke="#111" stroke-width="0.12">0</text>
<line x1="302.79999999999995" y1="88.0" x2="304.4" y2="88.0" stroke="#777" stroke-width="0.6"/>
<text x="302.0" y="91.1" text-anchor="end" font-size="9.3" fill="#111" stroke="#111" stroke-width="0.12">50</text>
<line x1="302.79999999999995" y1="72.6" x2="304.4" y2="72.6" stroke="#777" stroke-width="0.6"/>
<text x="302.0" y="75.7" text-anchor="end" font-size="9.3" fill="#111" stroke="#111" stroke-width="0.12">100</text>
<line x1="302.79999999999995" y1="57.3" x2="304.4" y2="57.3" stroke="#777" stroke-width="0.6"/>
<text x="302.0" y="60.4" text-anchor="end" font-size="9.3" fill="#111" stroke="#111" stroke-width="0.12">150</text>
<line x1="302.79999999999995" y1="41.9" x2="304.4" y2="41.9" stroke="#777" stroke-width="0.6"/>
<text x="302.0" y="45.0" text-anchor="end" font-size="9.3" fill="#111" stroke="#111" stroke-width="0.12">200</text>
<line x1="302.79999999999995" y1="26.6" x2="304.4" y2="26.6" stroke="#777" stroke-width="0.6"/>
<text x="302.0" y="29.7" text-anchor="end" font-size="9.3" fill="#111" stroke="#111" stroke-width="0.12">250</text>
<text x="315.6" y="111.7" text-anchor="middle" font-size="9.3" fill="#111" stroke="#111" stroke-width="0.12">2000</text>
<text x="336.3" y="111.7" text-anchor="middle" font-size="9.3" fill="#111" stroke="#111" stroke-width="0.12">2005</text>
<text x="357.1" y="111.7" text-anchor="middle" font-size="9.3" fill="#111" stroke="#111" stroke-width="0.12">2010</text>
<text x="377.9" y="111.7" text-anchor="middle" font-size="9.3" fill="#111" stroke="#111" stroke-width="0.12">2015</text>
<text x="399.0" y="111.7" text-anchor="middle" font-size="9.3" fill="#111" stroke="#111" stroke-width="0.12">2020</text>
<text transform="translate(287.3,61.1) rotate(-90)" text-anchor="middle" font-size="9.8" font-weight="bold" fill="#111">CS(gCm<tspan font-size="6.5" dy="-3.5">−2</tspan><tspan dy="3.5">)</tspan></text>
<rect x="439.5" y="20.5" width="102.89999999999998" height="83.1" fill="none" stroke="#8a8a8a" stroke-width="0.8"/>
<rect x="441.6" y="33.3" width="16.8" height="70.3" fill="#b2fcb0" stroke="#98c898" stroke-width="0.6"/>
<rect x="462.2" y="33.3" width="16.8" height="70.3" fill="#b2fcb0" stroke="#98c898" stroke-width="0.6"/>
<rect x="482.7" y="30.5" width="16.8" height="73.1" fill="#b2fcb0" stroke="#98c898" stroke-width="0.6"/>
<rect x="503.2" y="30.5" width="16.8" height="73.1" fill="#b2fcb0" stroke="#98c898" stroke-width="0.6"/>
<rect x="523.7" y="30.5" width="16.8" height="73.1" fill="#b2fcb0" stroke="#98c898" stroke-width="0.6"/>
<line x1="437.9" y1="103.6" x2="439.5" y2="103.6" stroke="#777" stroke-width="0.6"/>
<text x="437.1" y="106.7" text-anchor="end" font-size="9.3" fill="#111" stroke="#111" stroke-width="0.12">0.0</text>
<line x1="437.9" y1="82.8" x2="439.5" y2="82.8" stroke="#777" stroke-width="0.6"/>
<text x="437.1" y="85.9" text-anchor="end" font-size="9.3" fill="#111" stroke="#111" stroke-width="0.12">0.2</text>
<line x1="437.9" y1="62.0" x2="439.5" y2="62.0" stroke="#777" stroke-width="0.6"/>
<text x="437.1" y="65.1" text-anchor="end" font-size="9.3" fill="#111" stroke="#111" stroke-width="0.12">0.4</text>
<line x1="437.9" y1="41.3" x2="439.5" y2="41.3" stroke="#777" stroke-width="0.6"/>
<text x="437.1" y="44.4" text-anchor="end" font-size="9.3" fill="#111" stroke="#111" stroke-width="0.12">0.6</text>
<line x1="437.9" y1="20.5" x2="439.5" y2="20.5" stroke="#777" stroke-width="0.6"/>
<text x="437.1" y="23.6" text-anchor="end" font-size="9.3" fill="#111" stroke="#111" stroke-width="0.12">0.8</text>
<text x="450.0" y="111.7" text-anchor="middle" font-size="9.3" fill="#111" stroke="#111" stroke-width="0.12">2000</text>
<text x="470.6" y="111.7" text-anchor="middle" font-size="9.3" fill="#111" stroke="#111" stroke-width="0.12">2005</text>
<text x="491.1" y="111.7" text-anchor="middle" font-size="9.3" fill="#111" stroke="#111" stroke-width="0.12">2010</text>
<text x="511.6" y="111.7" text-anchor="middle" font-size="9.3" fill="#111" stroke="#111" stroke-width="0.12">2015</text>
<text x="532.1" y="111.7" text-anchor="middle" font-size="9.3" fill="#111" stroke="#111" stroke-width="0.12">2020</text>
<text transform="translate(423.6,61.8) rotate(-90)" text-anchor="middle" font-size="9.8" font-weight="bold" fill="#111">HQ</text>
<g transform="translate(6.5,144.2) scale(0.804)"><g clip-path="url(#clipS)"><use href="#T_WYb_p3"/></g></g>
<g transform="translate(105,144.2) scale(0.804)"><g clip-path="url(#clipS)"><use href="#T_WYb_p10"/></g></g>
<g transform="translate(204,144.2) scale(0.804)"><g clip-path="url(#clipS)"><use href="#T_WYb_p8"/></g></g>
<g transform="translate(303,144.2) scale(0.804)"><g clip-path="url(#clipS)"><use href="#T_WYb_p1"/></g></g>
<g transform="translate(402,144.2) scale(0.804)"><g clip-path="url(#clipS)"><use href="#T_WYb_p6"/></g></g>
<g transform="translate(6.5,191.4) scale(0.804)"><g clip-path="url(#clipS)"><use href="#T_SCb"/></g></g>
<g transform="translate(105,191.4) scale(0.804)"><g clip-path="url(#clipS)"><use href="#T_SCb_p3"/></g></g>
<g transform="translate(204,191.4) scale(0.804)"><g clip-path="url(#clipS)"><use href="#T_SCb_p2"/></g></g>
<g transform="translate(303,191.4) scale(0.804)"><g clip-path="url(#clipS)"><use href="#T_SCb_m4"/></g></g>
<g transform="translate(402,191.4) scale(0.804)"><g clip-path="url(#clipS)"><use href="#T_SCb_p2"/></g></g>
<g transform="translate(6.5,238.8) scale(0.804)"><g clip-path="url(#clipS)"><use href="#T_CSb"/></g></g>
<g transform="translate(105,238.8) scale(0.804)"><g clip-path="url(#clipS)"><use href="#T_CSb_m5"/></g></g>
<g transform="translate(204,238.8) scale(0.804)"><g clip-path="url(#clipS)"><use href="#T_CSb_m3"/></g></g>
<g transform="translate(303,238.8) scale(0.804)"><g clip-path="url(#clipS)"><use href="#T_CSb_m6"/></g></g>
<g transform="translate(402,238.8) scale(0.804)"><g clip-path="url(#clipS)"><use href="#T_CSb_m4"/></g></g>
<g transform="translate(6.5,285.3) scale(0.804)"><g clip-path="url(#clipS)"><use href="#T_HQb"/></g></g>
<g transform="translate(105,285.3) scale(0.804)"><g clip-path="url(#clipS)"><use href="#T_HQb"/></g></g>
<g transform="translate(204,285.3) scale(0.804)"><g clip-path="url(#clipS)"><use href="#T_HQb"/></g></g>
<g transform="translate(303,285.3) scale(0.804)"><g clip-path="url(#clipS)"><use href="#T_HQb"/></g></g>
<g transform="translate(402,285.3) scale(0.804)"><g clip-path="url(#clipS)"><use href="#T_HQb"/></g></g>
<g transform="translate(4.6,451.5) scale(0.804)"><g clip-path="url(#clipS)"><use href="#T_WYc"/></g></g>
<g transform="translate(103.2,451.5) scale(0.804)"><g clip-path="url(#clipS)"><use href="#T_WYc2"/></g></g>
<g transform="translate(202.1,451.5) scale(0.804)"><g clip-path="url(#clipS)"><use href="#T_WYc2_p2"/></g></g>
<g transform="translate(301,451.5) scale(0.804)"><g clip-path="url(#clipS)"><use href="#T_WYc_p2"/></g></g>
<g transform="translate(400,451.5) scale(0.804)"><g clip-path="url(#clipS)"><use href="#T_WYc2_m3"/></g></g>
<g transform="translate(4.6,498) scale(0.804)"><g clip-path="url(#clipS)"><use href="#T_SCc"/></g></g>
<g transform="translate(103.2,498) scale(0.804)"><g clip-path="url(#clipS)"><use href="#T_SCc_p2"/></g></g>
<g transform="translate(202.1,498) scale(0.804)"><g clip-path="url(#clipS)"><use href="#T_SCc_p2"/></g></g>
<g transform="translate(301,498) scale(0.804)"><g clip-path="url(#clipS)"><use href="#T_SCc_p2"/></g></g>
<g transform="translate(400,498) scale(0.804)"><g clip-path="url(#clipS)"><use href="#T_SCc_p2"/></g></g>
<g transform="translate(4.6,544.5) scale(0.804)"><g clip-path="url(#clipS)"><use href="#T_CSc"/></g></g>
<g transform="translate(103.2,544.5) scale(0.804)"><g clip-path="url(#clipS)"><use href="#T_CSc_m4"/></g></g>
<g transform="translate(202.1,544.5) scale(0.804)"><g clip-path="url(#clipS)"><use href="#T_CSc_m4"/></g></g>
<g transform="translate(301,544.5) scale(0.804)"><g clip-path="url(#clipS)"><use href="#T_CSc_m6"/></g></g>
<g transform="translate(400,544.5) scale(0.804)"><g clip-path="url(#clipS)"><use href="#T_CSc_m9"/></g></g>
<g transform="translate(4.6,592) scale(0.804)"><g clip-path="url(#clipS)"><use href="#T_HQc"/></g></g>
<g transform="translate(103.2,592) scale(0.804)"><g clip-path="url(#clipS)"><use href="#T_HQc"/></g></g>
<g transform="translate(202.1,592) scale(0.804)"><g clip-path="url(#clipS)"><use href="#T_HQc"/></g></g>
<g transform="translate(301,592) scale(0.804)"><g clip-path="url(#clipS)"><use href="#T_HQc"/></g></g>
<g transform="translate(400,592) scale(0.804)"><g clip-path="url(#clipS)"><use href="#T_HQc"/></g></g>
<g transform="translate(6.4,342.1) scale(1)"><g clip-path="url(#clipS)"><use href="#T_VWYb"/></g></g>
<g transform="translate(131.4,342.1) scale(1)"><g clip-path="url(#clipS)"><use href="#T_VSCb"/></g></g>
<g transform="translate(255.2,342.1) scale(1)"><g clip-path="url(#clipS)"><use href="#T_VCSb"/></g></g>
<g transform="translate(378,342.1) scale(1)"><g clip-path="url(#clipS)"><use href="#T_VHQb"/></g></g>
<g transform="translate(5.1,649) scale(1)"><g clip-path="url(#clipS)"><use href="#T_VWYc"/></g></g>
<g transform="translate(129.1,649) scale(1)"><g clip-path="url(#clipS)"><use href="#T_VSCc"/></g></g>
<g transform="translate(254.3,649) scale(1)"><g clip-path="url(#clipS)"><use href="#T_VCSc"/></g></g>
<g transform="translate(376.5,649) scale(1)"><g clip-path="url(#clipS)"><use href="#T_VHQc"/></g></g>
<text x="9.2" y="17.9" font-size="20" font-weight="bold" text-anchor="start" >(a)</text>
<text x="10.0" y="135.3" font-size="19.5" font-weight="bold" text-anchor="start" >(b)</text>
<text x="9.9" y="442.8" font-size="19.5" font-weight="bold" text-anchor="start" >(c)</text>
<text x="57.5" y="141.5" font-size="11" font-weight="bold" text-anchor="middle" >2000</text>
<text x="156.6" y="141.5" font-size="11" font-weight="bold" text-anchor="middle" >2005</text>
<text x="255.5" y="141.5" font-size="11" font-weight="bold" text-anchor="middle" >2010</text>
<text x="353.8" y="141.5" font-size="11" font-weight="bold" text-anchor="middle" >2015</text>
<text x="452.5" y="141.5" font-size="11" font-weight="bold" text-anchor="middle" >2020</text>
<text x="56.5" y="449.3" font-size="11" font-weight="bold" text-anchor="middle" >2000</text>
<text x="155.2" y="449.3" font-size="11" font-weight="bold" text-anchor="middle" >2005</text>
<text x="254.2" y="449.3" font-size="11" font-weight="bold" text-anchor="middle" >2010</text>
<text x="352.5" y="449.3" font-size="11" font-weight="bold" text-anchor="middle" >2015</text>
<text x="450.9" y="449.3" font-size="11" font-weight="bold" text-anchor="middle" >2020</text>
<text x="65.75" y="344.0" font-size="12" font-weight="bold" text-anchor="middle" >WY</text>
<text x="186.3" y="344.0" font-size="12" font-weight="bold" text-anchor="middle" >SC</text>
<text x="310.4" y="344.0" font-size="12" font-weight="bold" text-anchor="middle" >CS</text>
<text x="436.5" y="344.0" font-size="12" font-weight="bold" text-anchor="middle" >HQ</text>
<text x="64.25" y="651.5" font-size="12" font-weight="bold" text-anchor="middle" >WY</text>
<text x="184.5" y="651.5" font-size="12" font-weight="bold" text-anchor="middle" >SC</text>
<text x="308.8" y="651.5" font-size="12" font-weight="bold" text-anchor="middle" >CS</text>
<text x="433.8" y="651.5" font-size="12" font-weight="bold" text-anchor="middle" >HQ</text>
<text x="521" y="133.7" font-size="7.6" font-family="Liberation Sans, sans-serif" text-anchor="middle">N</text>
<path d="M521,136.6 L515,155.9 L520.8,149.1 Z" fill="#000"/>
<path d="M521,136.6 L527,156.1 L520.8,149.1 Z" fill="#fff" stroke="#000" stroke-width="0.7" stroke-linejoin="round"/>
<text x="501.8" y="166.2" font-size="9" font-weight="bold">WY(mm)</text>
<rect x="501.7" y="169.3" width="14.2" height="14.3" fill="url(#gWY)"/>
<text x="520.2" y="176.2" font-size="8" font-weight="bold">814.76</text>
<text x="519.8" y="186.2" font-size="8" font-weight="bold">0</text>
<text x="501.8" y="213.2" font-size="9" font-weight="bold">SC(t)</text>
<rect x="501.7" y="216.0" width="14.2" height="15.3" fill="url(#gSC)"/>
<text x="518.6" y="221.6" font-size="8" font-weight="bold">227.11</text>
<text x="519.8" y="233.0" font-size="8" font-weight="bold">0</text>
<text x="501.8" y="261.0" font-size="9" font-weight="bold">CS(gCm<tspan font-size="5.5" dy="-3.2">−2</tspan><tspan dy="3.2">)</tspan></text>
<rect x="501.7" y="263.2" width="14.2" height="14.8" fill="url(#gCS)"/>
<text x="519.4" y="269.8" font-size="8" font-weight="bold">938.88</text>
<text x="519.8" y="280.7" font-size="8" font-weight="bold">0</text>
<text x="501.8" y="307.6" font-size="9" font-weight="bold">HQ</text>
<rect x="501.7" y="309.8" width="14.2" height="15.9" fill="url(#gHQ)"/>
<text x="519.8" y="317.2" font-size="8" font-weight="bold">1</text>
<text x="519.8" y="328.2" font-size="8" font-weight="bold">0</text>
<text x="518.8" y="441.2" font-size="7.6" font-family="Liberation Sans, sans-serif" text-anchor="middle">N</text>
<path d="M518.8,444.1 L512.8,463.4 L518.5999999999999,456.6 Z" fill="#000"/>
<path d="M518.8,444.1 L524.8,463.6 L518.5999999999999,456.6 Z" fill="#fff" stroke="#000" stroke-width="0.7" stroke-linejoin="round"/>
<text x="498.6" y="472.9" font-size="9" font-weight="bold">WY(mm)</text>
<rect x="498.7" y="474.5" width="14.2" height="15.9" fill="url(#gWY)"/>
<text x="517.2" y="481.5" font-size="8" font-weight="bold">768.81</text>
<text x="517.0" y="492.2" font-size="8" font-weight="bold">0</text>
<text x="498.6" y="519.3" font-size="9" font-weight="bold">SC(t)</text>
<rect x="498.7" y="521.0" width="14.2" height="16.3" fill="url(#gSC)"/>
<text x="514.8" y="527.8" font-size="8" font-weight="bold">81.22</text>
<text x="517.0" y="539.4" font-size="8" font-weight="bold">0</text>
<text x="498.6" y="567.8" font-size="9" font-weight="bold">CS(gCm<tspan font-size="5.5" dy="-3.2">−2</tspan><tspan dy="3.2">)</tspan></text>
<rect x="498.7" y="570.4" width="14.2" height="15.6" fill="url(#gCS)"/>
<text x="516.8" y="576.5" font-size="8" font-weight="bold">637.58</text>
<text x="517.0" y="587.7" font-size="8" font-weight="bold">0</text>
<text x="498.6" y="613.1" font-size="9" font-weight="bold">HQ</text>
<rect x="498.7" y="614.5" width="14.2" height="16.5" fill="url(#gHQ)"/>
<text x="517.0" y="621.4" font-size="8" font-weight="bold">1</text>
<text x="517.0" y="633.1" font-size="8" font-weight="bold">0</text>
<text x="500.3" y="390.8" font-size="9" font-weight="bold">Variation</text>
<rect x="499.1" y="395.5" width="16.5" height="8" fill="#f8989d"/>
<rect x="499.1" y="406.5" width="16.5" height="8" fill="#9b9af6"/>
<text x="518.3" y="402.6" font-size="8.3" font-weight="bold">Slope&lt;0</text>
<text x="518.3" y="413.6" font-size="8.3" font-weight="bold">Slope≥0</text>
<text x="498.1" y="698.0" font-size="9" font-weight="bold">Variation</text>
<rect x="496.90000000000003" y="702.6" width="16.5" height="8" fill="#f8989d"/>
<rect x="496.90000000000003" y="714.0" width="16.5" height="8" fill="#9b9af6"/>
<text x="516.6" y="709.8" font-size="8.3" font-weight="bold">Slope&lt;0</text>
<text x="516.6" y="720.9" font-size="8.3" font-weight="bold">Slope≥0</text>
<text x="20.0" y="412.6" font-size="10" font-weight="bold">Slope<tspan font-family="Noto Serif CJK SC, serif" font-weight="bold" font-size="10">：</tspan></text>
<text x="53.0" y="412.6" font-size="10" font-weight="bold">−7.26 mm·5a<tspan font-size="6.5" dy="-3.5">−1</tspan></text>
<text x="144.4" y="412.6" font-size="10" font-weight="bold">Slope<tspan font-family="Noto Serif CJK SC, serif" font-weight="bold" font-size="10">：</tspan></text>
<text x="178.0" y="412.6" font-size="10" font-weight="bold">−0.08 t·5a<tspan font-size="6.5" dy="-3.5">−1</tspan></text>
<text x="268.3" y="409.6" font-size="10" font-weight="bold">Slope<tspan font-family="Noto Serif CJK SC, serif" font-weight="bold" font-size="10">：</tspan></text>
<text x="302.6" y="409.6" font-size="10" font-weight="bold">6.97 gCm <tspan font-size="6.5" dy="-3.5">−2</tspan><tspan dy="3.5">·5a</tspan><tspan font-size="6.5" dy="-3.5">−1</tspan></text>
<text x="402.3" y="409.5" font-size="10" font-weight="bold">Slope<tspan font-family="Noto Serif CJK SC, serif" font-weight="bold" font-size="10">：</tspan></text>
<text x="436.8" y="409.5" font-size="10" font-weight="bold">0.007·5a<tspan font-size="6.5" dy="-3.5">−1</tspan></text>
<text x="15.0" y="720.5" font-size="10" font-weight="bold">Slope<tspan font-family="Noto Serif CJK SC, serif" font-weight="bold" font-size="10">：</tspan></text>
<text x="49.0" y="720.5" font-size="10" font-weight="bold">−7.33 mm·5a<tspan font-size="6.5" dy="-3.5">−1</tspan></text>
<text x="143.0" y="720.6" font-size="10" font-weight="bold">Slope<tspan font-family="Noto Serif CJK SC, serif" font-weight="bold" font-size="10">：</tspan></text>
<text x="177.0" y="720.6" font-size="10" font-weight="bold">−0.08 t·5a<tspan font-size="6.5" dy="-3.5">−1</tspan></text>
<text x="265.9" y="718.4" font-size="10" font-weight="bold">Slope<tspan font-family="Noto Serif CJK SC, serif" font-weight="bold" font-size="10">：</tspan></text>
<text x="300.7" y="718.4" font-size="10" font-weight="bold">6.94 gCm <tspan font-size="6.5" dy="-3.5">−2</tspan><tspan dy="3.5">·5a</tspan><tspan font-size="6.5" dy="-3.5">−1</tspan></text>
<text x="400.1" y="717.9" font-size="10" font-weight="bold">Slope<tspan font-family="Noto Serif CJK SC, serif" font-weight="bold" font-size="10">：</tspan></text>
<text x="434.6" y="717.9" font-size="10" font-weight="bold">0.008·5a<tspan font-size="6.5" dy="-3.5">−1</tspan></text>
</svg></body></html>
